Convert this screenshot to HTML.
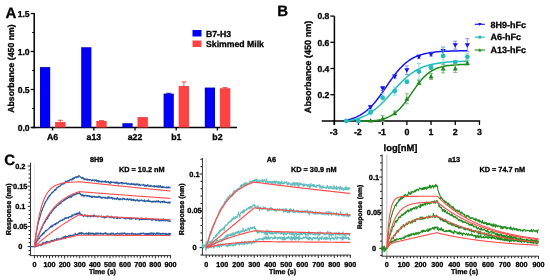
<!DOCTYPE html>
<html><head><meta charset="utf-8"><style>
html,body{margin:0;padding:0;background:#fff;width:550px;height:280px;overflow:hidden}
svg{display:block;will-change:transform}
text{font-family:"Liberation Sans",sans-serif;font-weight:bold;text-rendering:geometricPrecision;stroke:#000;stroke-width:0.3px}
</style></head><body>
<svg width="550" height="280" viewBox="0 0 550 280">
<text x="5.6" y="17.6" font-size="15" text-anchor="start" fill="#000" >A</text>
<line x1="34.20" y1="13.00" x2="34.20" y2="128.25" stroke="#000" stroke-width="1.5" />
<line x1="30.70" y1="127.50" x2="34.20" y2="127.50" stroke="#000" stroke-width="1.3" />
<text x="29.6" y="130.8" font-size="8.6" text-anchor="end" fill="#000" >0.0</text>
<line x1="30.70" y1="89.50" x2="34.20" y2="89.50" stroke="#000" stroke-width="1.3" />
<text x="29.6" y="92.8" font-size="8.6" text-anchor="end" fill="#000" >0.5</text>
<line x1="30.70" y1="51.50" x2="34.20" y2="51.50" stroke="#000" stroke-width="1.3" />
<text x="29.6" y="54.8" font-size="8.6" text-anchor="end" fill="#000" >1.0</text>
<line x1="30.70" y1="13.50" x2="34.20" y2="13.50" stroke="#000" stroke-width="1.3" />
<text x="29.6" y="16.8" font-size="8.6" text-anchor="end" fill="#000" >1.5</text>
<line x1="32.20" y1="108.50" x2="34.20" y2="108.50" stroke="#000" stroke-width="1.0" />
<line x1="32.20" y1="70.50" x2="34.20" y2="70.50" stroke="#000" stroke-width="1.0" />
<line x1="32.20" y1="32.50" x2="34.20" y2="32.50" stroke="#000" stroke-width="1.0" />
<line x1="31.50" y1="127.50" x2="237.00" y2="127.50" stroke="#000" stroke-width="1.5" />
<text x="13.6" y="68.6" font-size="8.7" text-anchor="middle" fill="#000" transform="rotate(-90 13.6 68.6)">Absorbance (450 nm)</text>
<line x1="52.60" y1="127.50" x2="52.60" y2="130.50" stroke="#000" stroke-width="1.3" />
<text x="52.6" y="140.2" font-size="8.7" text-anchor="middle" fill="#000" >A6</text>
<rect x="40.00" y="67.46" width="10.20" height="60.04" fill="#0000F5"/>
<line x1="40.00" y1="67.46" x2="50.20" y2="67.46" stroke="#0000b0" stroke-width="0.8" />
<rect x="55.10" y="122.56" width="10.40" height="4.94" fill="#FF4242"/>
<line x1="55.10" y1="122.56" x2="65.50" y2="122.56" stroke="#e03030" stroke-width="0.8" />
<line x1="60.30" y1="120.28" x2="60.30" y2="122.56" stroke="#e84040" stroke-width="0.9" />
<line x1="57.80" y1="120.28" x2="62.80" y2="120.28" stroke="#e84040" stroke-width="0.9" />
<line x1="93.80" y1="127.50" x2="93.80" y2="130.50" stroke="#000" stroke-width="1.3" />
<text x="93.80000000000001" y="140.2" font-size="8.7" text-anchor="middle" fill="#000" >a13</text>
<rect x="81.20" y="47.70" width="10.20" height="79.80" fill="#0000F5"/>
<line x1="81.20" y1="47.70" x2="91.40" y2="47.70" stroke="#0000b0" stroke-width="0.8" />
<rect x="96.30" y="121.42" width="10.40" height="6.08" fill="#FF4242"/>
<line x1="96.30" y1="121.42" x2="106.70" y2="121.42" stroke="#e03030" stroke-width="0.8" />
<line x1="101.50" y1="120.66" x2="101.50" y2="121.42" stroke="#e84040" stroke-width="0.9" />
<line x1="99.00" y1="120.66" x2="104.00" y2="120.66" stroke="#e84040" stroke-width="0.9" />
<line x1="135.00" y1="127.50" x2="135.00" y2="130.50" stroke="#000" stroke-width="1.3" />
<text x="135.0" y="140.2" font-size="8.7" text-anchor="middle" fill="#000" >a22</text>
<rect x="122.40" y="123.70" width="10.20" height="3.80" fill="#0000F5"/>
<line x1="122.40" y1="123.70" x2="132.60" y2="123.70" stroke="#0000b0" stroke-width="0.8" />
<rect x="137.50" y="117.62" width="10.40" height="9.88" fill="#FF4242"/>
<line x1="137.50" y1="117.62" x2="147.90" y2="117.62" stroke="#e03030" stroke-width="0.8" />
<line x1="176.20" y1="127.50" x2="176.20" y2="130.50" stroke="#000" stroke-width="1.3" />
<text x="176.20000000000002" y="140.2" font-size="8.7" text-anchor="middle" fill="#000" >b1</text>
<rect x="163.60" y="94.06" width="10.20" height="33.44" fill="#0000F5"/>
<line x1="163.60" y1="94.06" x2="173.80" y2="94.06" stroke="#0000b0" stroke-width="0.8" />
<line x1="168.70" y1="93.30" x2="168.70" y2="94.06" stroke="#0000c0" stroke-width="0.9" />
<line x1="166.20" y1="93.30" x2="171.20" y2="93.30" stroke="#0000c0" stroke-width="0.9" />
<rect x="178.70" y="86.46" width="10.40" height="41.04" fill="#FF4242"/>
<line x1="178.70" y1="86.46" x2="189.10" y2="86.46" stroke="#e03030" stroke-width="0.8" />
<line x1="183.90" y1="81.90" x2="183.90" y2="86.46" stroke="#e84040" stroke-width="0.9" />
<line x1="181.40" y1="81.90" x2="186.40" y2="81.90" stroke="#e84040" stroke-width="0.9" />
<line x1="217.40" y1="127.50" x2="217.40" y2="130.50" stroke="#000" stroke-width="1.3" />
<text x="217.4" y="140.2" font-size="8.7" text-anchor="middle" fill="#000" >b2</text>
<rect x="204.80" y="87.98" width="10.20" height="39.52" fill="#0000F5"/>
<line x1="204.80" y1="87.98" x2="215.00" y2="87.98" stroke="#0000b0" stroke-width="0.8" />
<rect x="219.90" y="88.74" width="10.40" height="38.76" fill="#FF4242"/>
<line x1="219.90" y1="88.74" x2="230.30" y2="88.74" stroke="#e03030" stroke-width="0.8" />
<line x1="225.10" y1="87.60" x2="225.10" y2="88.74" stroke="#e84040" stroke-width="0.9" />
<line x1="222.60" y1="87.60" x2="227.60" y2="87.60" stroke="#e84040" stroke-width="0.9" />
<rect x="192.50" y="30.00" width="9.00" height="6.50" fill="#0000F5"/>
<rect x="192.50" y="40.50" width="9.00" height="6.50" fill="#FF4242"/>
<text x="206" y="36.6" font-size="8.7" text-anchor="start" fill="#000" >B7-H3</text>
<text x="206" y="47.1" font-size="8.7" text-anchor="start" fill="#000" >Skimmed Milk</text>
<text x="277.2" y="15.6" font-size="15" text-anchor="start" fill="#000" >B</text>
<line x1="334.40" y1="16.20" x2="334.40" y2="124.90" stroke="#000" stroke-width="1.5" />
<line x1="330.40" y1="94.70" x2="334.40" y2="94.70" stroke="#000" stroke-width="1.3" />
<text x="329.4" y="97.9" font-size="8.6" text-anchor="end" fill="#000" >0.2</text>
<line x1="330.40" y1="68.50" x2="334.40" y2="68.50" stroke="#000" stroke-width="1.3" />
<text x="329.4" y="71.7" font-size="8.6" text-anchor="end" fill="#000" >0.4</text>
<line x1="330.40" y1="42.30" x2="334.40" y2="42.30" stroke="#000" stroke-width="1.3" />
<text x="329.4" y="45.500000000000014" font-size="8.6" text-anchor="end" fill="#000" >0.6</text>
<line x1="330.40" y1="16.10" x2="334.40" y2="16.10" stroke="#000" stroke-width="1.3" />
<text x="329.4" y="19.299999999999994" font-size="8.6" text-anchor="end" fill="#000" >0.8</text>
<line x1="321.70" y1="120.90" x2="480.20" y2="120.90" stroke="#000" stroke-width="1.5" />
<line x1="334.25" y1="120.90" x2="334.25" y2="124.90" stroke="#000" stroke-width="1.3" />
<text x="333.65" y="134.9" font-size="8.8" text-anchor="middle" fill="#000" >-3</text>
<line x1="358.45" y1="120.90" x2="358.45" y2="124.90" stroke="#000" stroke-width="1.3" />
<text x="357.85" y="134.9" font-size="8.8" text-anchor="middle" fill="#000" >-2</text>
<line x1="382.65" y1="120.90" x2="382.65" y2="124.90" stroke="#000" stroke-width="1.3" />
<text x="382.05" y="134.9" font-size="8.8" text-anchor="middle" fill="#000" >-1</text>
<line x1="406.85" y1="120.90" x2="406.85" y2="124.90" stroke="#000" stroke-width="1.3" />
<text x="406.85" y="134.9" font-size="8.8" text-anchor="middle" fill="#000" >0</text>
<line x1="431.05" y1="120.90" x2="431.05" y2="124.90" stroke="#000" stroke-width="1.3" />
<text x="431.05" y="134.9" font-size="8.8" text-anchor="middle" fill="#000" >1</text>
<line x1="455.25" y1="120.90" x2="455.25" y2="124.90" stroke="#000" stroke-width="1.3" />
<text x="455.25" y="134.9" font-size="8.8" text-anchor="middle" fill="#000" >2</text>
<line x1="479.45" y1="120.90" x2="479.45" y2="124.90" stroke="#000" stroke-width="1.3" />
<text x="479.45000000000005" y="134.9" font-size="8.8" text-anchor="middle" fill="#000" >3</text>
<text x="311.3" y="66.9" font-size="9.1" text-anchor="middle" fill="#000" transform="rotate(-90 311.3 66.9)">Absorbance (450 nm)</text>
<text x="400.5" y="150.6" font-size="9.4" text-anchor="middle" fill="#000" >log[nM]</text>
<polyline points="346.35,120.11 347.88,119.77 349.41,119.39 350.94,118.96 352.48,118.48 354.01,117.94 355.54,117.34 357.07,116.68 358.60,115.94 360.13,115.13 361.67,114.23 363.20,113.24 364.73,112.16 366.26,110.98 367.79,109.70 369.32,108.31 370.86,106.81 372.39,105.20 373.92,103.49 375.45,101.68 376.98,99.77 378.51,97.78 380.05,95.70 381.58,93.56 383.11,91.37 384.64,89.15 386.17,86.91 387.70,84.66 389.24,82.43 390.77,80.24 392.30,78.09 393.83,76.01 395.36,74.00 396.89,72.08 398.43,70.26 399.96,68.53 401.49,66.91 403.02,65.40 404.55,63.99 406.08,62.69 407.62,61.50 409.15,60.40 410.68,59.40 412.21,58.49 413.74,57.67 415.27,56.92 416.81,56.25 418.34,55.64 419.87,55.10 421.40,54.61 422.93,54.17 424.46,53.78 426.00,53.43 427.53,53.12 429.06,52.85 430.59,52.60 432.12,52.38 433.65,52.19 435.19,52.01 436.72,51.86 438.25,51.73 439.78,51.61 441.31,51.50 442.84,51.41 444.38,51.32 445.91,51.25 447.44,51.18 448.97,51.13 450.50,51.08 452.03,51.03 453.57,50.99 455.10,50.96 456.63,50.93 458.16,50.90 459.69,50.87 461.22,50.85 462.76,50.83 464.29,50.82 465.82,50.80 467.35,50.79" fill="none" stroke="#1515F0" stroke-width="1.5" stroke-linejoin="round" stroke-opacity="1"/>
<polyline points="346.35,120.90 347.88,120.90 349.41,120.68 350.94,120.38 352.48,120.04 354.01,119.67 355.54,119.27 357.07,118.82 358.60,118.33 360.13,117.79 361.67,117.20 363.20,116.55 364.73,115.85 366.26,115.08 367.79,114.25 369.32,113.35 370.86,112.39 372.39,111.35 373.92,110.23 375.45,109.05 376.98,107.79 378.51,106.46 380.05,105.06 381.58,103.59 383.11,102.07 384.64,100.49 386.17,98.86 387.70,97.20 389.24,95.51 390.77,93.79 392.30,92.07 393.83,90.34 395.36,88.63 396.89,86.94 398.43,85.28 399.96,83.66 401.49,82.09 403.02,80.57 404.55,79.12 406.08,77.73 407.62,76.41 409.15,75.16 410.68,73.99 412.21,72.88 413.74,71.86 415.27,70.90 416.81,70.01 418.34,69.19 419.87,68.43 421.40,67.74 422.93,67.10 424.46,66.52 426.00,65.99 427.53,65.50 429.06,65.06 430.59,64.66 432.12,64.29 433.65,63.96 435.19,63.67 436.72,63.40 438.25,63.15 439.78,62.93 441.31,62.74 442.84,62.56 444.38,62.40 445.91,62.25 447.44,62.12 448.97,62.01 450.50,61.90 452.03,61.81 453.57,61.72 455.10,61.65 456.63,61.58 458.16,61.52 459.69,61.46 461.22,61.41 462.76,61.37 464.29,61.33 465.82,61.29 467.35,61.26" fill="none" stroke="#22BDBD" stroke-width="1.5" stroke-linejoin="round" stroke-opacity="1"/>
<polyline points="358.45,120.90 359.83,120.90 361.21,120.90 362.59,120.90 363.96,120.90 365.34,120.90 366.72,120.90 368.10,120.90 369.48,120.90 370.86,120.90 372.23,120.90 373.61,120.76 374.99,120.59 376.37,120.39 377.75,120.16 379.13,119.90 380.51,119.61 381.88,119.28 383.26,118.90 384.64,118.47 386.02,117.98 387.40,117.43 388.78,116.81 390.16,116.12 391.53,115.35 392.91,114.48 394.29,113.52 395.67,112.47 397.05,111.30 398.43,110.03 399.80,108.66 401.18,107.17 402.56,105.58 403.94,103.89 405.32,102.11 406.70,100.24 408.08,98.32 409.45,96.34 410.83,94.33 412.21,92.31 413.59,90.30 414.97,88.31 416.35,86.37 417.72,84.49 419.10,82.69 420.48,80.98 421.86,79.36 423.24,77.85 424.62,76.44 426.00,75.15 427.37,73.96 428.75,72.87 430.13,71.89 431.51,71.01 432.89,70.21 434.27,69.50 435.64,68.86 437.02,68.30 438.40,67.80 439.78,67.35 441.16,66.96 442.54,66.62 443.92,66.31 445.29,66.05 446.67,65.81 448.05,65.61 449.43,65.43 450.81,65.27 452.19,65.14 453.57,65.02 454.94,64.91 456.32,64.82 457.70,64.74 459.08,64.67 460.46,64.61 461.84,64.56 463.21,64.52 464.59,64.48 465.97,64.44 467.35,64.41" fill="none" stroke="#1C8A1C" stroke-width="1.5" stroke-linejoin="round" stroke-opacity="1"/>
<line x1="370.55" y1="105.30" x2="370.55" y2="109.30" stroke="#8080ff" stroke-width="0.9" />
<line x1="368.55" y1="105.30" x2="372.55" y2="105.30" stroke="#8080ff" stroke-width="0.9" />
<line x1="368.55" y1="109.30" x2="372.55" y2="109.30" stroke="#8080ff" stroke-width="0.9" />
<polygon points="367.95,105.30 373.15,105.30 370.55,109.90" fill="#1515F0"/>
<line x1="382.65" y1="86.50" x2="382.65" y2="90.50" stroke="#8080ff" stroke-width="0.9" />
<line x1="380.65" y1="86.50" x2="384.65" y2="86.50" stroke="#8080ff" stroke-width="0.9" />
<line x1="380.65" y1="90.50" x2="384.65" y2="90.50" stroke="#8080ff" stroke-width="0.9" />
<polygon points="380.05,86.50 385.25,86.50 382.65,91.10" fill="#1515F0"/>
<line x1="394.75" y1="75.10" x2="394.75" y2="78.10" stroke="#8080ff" stroke-width="0.9" />
<line x1="392.75" y1="75.10" x2="396.75" y2="75.10" stroke="#8080ff" stroke-width="0.9" />
<line x1="392.75" y1="78.10" x2="396.75" y2="78.10" stroke="#8080ff" stroke-width="0.9" />
<polygon points="392.15,74.60 397.35,74.60 394.75,79.20" fill="#1515F0"/>
<line x1="406.85" y1="65.90" x2="406.85" y2="74.50" stroke="#8080ff" stroke-width="0.9" />
<line x1="404.85" y1="65.90" x2="408.85" y2="65.90" stroke="#8080ff" stroke-width="0.9" />
<line x1="404.85" y1="74.50" x2="408.85" y2="74.50" stroke="#8080ff" stroke-width="0.9" />
<polygon points="404.25,68.20 409.45,68.20 406.85,72.80" fill="#1515F0"/>
<line x1="418.95" y1="55.30" x2="418.95" y2="58.30" stroke="#8080ff" stroke-width="0.9" />
<line x1="416.95" y1="55.30" x2="420.95" y2="55.30" stroke="#8080ff" stroke-width="0.9" />
<line x1="416.95" y1="58.30" x2="420.95" y2="58.30" stroke="#8080ff" stroke-width="0.9" />
<polygon points="416.35,54.80 421.55,54.80 418.95,59.40" fill="#1515F0"/>
<line x1="431.05" y1="53.00" x2="431.05" y2="56.00" stroke="#8080ff" stroke-width="0.9" />
<line x1="429.05" y1="53.00" x2="433.05" y2="53.00" stroke="#8080ff" stroke-width="0.9" />
<line x1="429.05" y1="56.00" x2="433.05" y2="56.00" stroke="#8080ff" stroke-width="0.9" />
<polygon points="428.45,52.50 433.65,52.50 431.05,57.10" fill="#1515F0"/>
<line x1="443.15" y1="47.00" x2="443.15" y2="55.00" stroke="#8080ff" stroke-width="0.9" />
<line x1="441.15" y1="47.00" x2="445.15" y2="47.00" stroke="#8080ff" stroke-width="0.9" />
<line x1="441.15" y1="55.00" x2="445.15" y2="55.00" stroke="#8080ff" stroke-width="0.9" />
<polygon points="440.55,49.00 445.75,49.00 443.15,53.60" fill="#1515F0"/>
<line x1="455.25" y1="41.20" x2="455.25" y2="49.20" stroke="#8080ff" stroke-width="0.9" />
<line x1="453.25" y1="41.20" x2="457.25" y2="41.20" stroke="#8080ff" stroke-width="0.9" />
<line x1="453.25" y1="49.20" x2="457.25" y2="49.20" stroke="#8080ff" stroke-width="0.9" />
<polygon points="452.65,43.20 457.85,43.20 455.25,47.80" fill="#1515F0"/>
<line x1="467.35" y1="38.70" x2="467.35" y2="51.70" stroke="#8080ff" stroke-width="0.9" />
<line x1="465.35" y1="38.70" x2="469.35" y2="38.70" stroke="#8080ff" stroke-width="0.9" />
<line x1="465.35" y1="51.70" x2="469.35" y2="51.70" stroke="#8080ff" stroke-width="0.9" />
<polygon points="464.75,43.20 469.95,43.20 467.35,47.80" fill="#1515F0"/>
<circle cx="346.35" cy="121.00" r="2.4" fill="#22BDBD"/>
<circle cx="358.45" cy="121.00" r="2.4" fill="#22BDBD"/>
<line x1="370.55" y1="109.70" x2="370.55" y2="114.70" stroke="#7fd6d6" stroke-width="0.9" />
<line x1="368.55" y1="109.70" x2="372.55" y2="109.70" stroke="#7fd6d6" stroke-width="0.9" />
<line x1="368.55" y1="114.70" x2="372.55" y2="114.70" stroke="#7fd6d6" stroke-width="0.9" />
<circle cx="370.55" cy="112.20" r="2.4" fill="#22BDBD"/>
<line x1="382.65" y1="93.30" x2="382.65" y2="102.10" stroke="#7fd6d6" stroke-width="0.9" />
<line x1="380.65" y1="93.30" x2="384.65" y2="93.30" stroke="#7fd6d6" stroke-width="0.9" />
<line x1="380.65" y1="102.10" x2="384.65" y2="102.10" stroke="#7fd6d6" stroke-width="0.9" />
<circle cx="382.65" cy="97.70" r="2.4" fill="#22BDBD"/>
<line x1="394.75" y1="87.00" x2="394.75" y2="95.00" stroke="#7fd6d6" stroke-width="0.9" />
<line x1="392.75" y1="87.00" x2="396.75" y2="87.00" stroke="#7fd6d6" stroke-width="0.9" />
<line x1="392.75" y1="95.00" x2="396.75" y2="95.00" stroke="#7fd6d6" stroke-width="0.9" />
<circle cx="394.75" cy="91.00" r="2.4" fill="#22BDBD"/>
<line x1="406.85" y1="79.80" x2="406.85" y2="83.80" stroke="#7fd6d6" stroke-width="0.9" />
<line x1="404.85" y1="79.80" x2="408.85" y2="79.80" stroke="#7fd6d6" stroke-width="0.9" />
<line x1="404.85" y1="83.80" x2="408.85" y2="83.80" stroke="#7fd6d6" stroke-width="0.9" />
<circle cx="406.85" cy="81.80" r="2.4" fill="#22BDBD"/>
<line x1="418.95" y1="63.40" x2="418.95" y2="79.40" stroke="#7fd6d6" stroke-width="0.9" />
<line x1="416.95" y1="63.40" x2="420.95" y2="63.40" stroke="#7fd6d6" stroke-width="0.9" />
<line x1="416.95" y1="79.40" x2="420.95" y2="79.40" stroke="#7fd6d6" stroke-width="0.9" />
<circle cx="418.95" cy="71.40" r="2.4" fill="#22BDBD"/>
<line x1="431.05" y1="65.50" x2="431.05" y2="69.50" stroke="#7fd6d6" stroke-width="0.9" />
<line x1="429.05" y1="65.50" x2="433.05" y2="65.50" stroke="#7fd6d6" stroke-width="0.9" />
<line x1="429.05" y1="69.50" x2="433.05" y2="69.50" stroke="#7fd6d6" stroke-width="0.9" />
<circle cx="431.05" cy="67.50" r="2.4" fill="#22BDBD"/>
<line x1="443.15" y1="47.40" x2="443.15" y2="64.40" stroke="#7fd6d6" stroke-width="0.9" />
<line x1="441.15" y1="47.40" x2="445.15" y2="47.40" stroke="#7fd6d6" stroke-width="0.9" />
<line x1="441.15" y1="64.40" x2="445.15" y2="64.40" stroke="#7fd6d6" stroke-width="0.9" />
<circle cx="443.15" cy="55.90" r="2.4" fill="#22BDBD"/>
<line x1="455.25" y1="60.60" x2="455.25" y2="63.60" stroke="#7fd6d6" stroke-width="0.9" />
<line x1="453.25" y1="60.60" x2="457.25" y2="60.60" stroke="#7fd6d6" stroke-width="0.9" />
<line x1="453.25" y1="63.60" x2="457.25" y2="63.60" stroke="#7fd6d6" stroke-width="0.9" />
<circle cx="455.25" cy="62.10" r="2.4" fill="#22BDBD"/>
<line x1="467.35" y1="53.80" x2="467.35" y2="59.80" stroke="#7fd6d6" stroke-width="0.9" />
<line x1="465.35" y1="53.80" x2="469.35" y2="53.80" stroke="#7fd6d6" stroke-width="0.9" />
<line x1="465.35" y1="59.80" x2="469.35" y2="59.80" stroke="#7fd6d6" stroke-width="0.9" />
<circle cx="467.35" cy="56.80" r="2.4" fill="#22BDBD"/>
<polygon points="368.15,122.50 372.95,122.50 370.55,117.90" fill="#1C8A1C"/>
<line x1="382.65" y1="115.60" x2="382.65" y2="121.60" stroke="#70b070" stroke-width="0.9" />
<line x1="380.65" y1="115.60" x2="384.65" y2="115.60" stroke="#70b070" stroke-width="0.9" />
<line x1="380.65" y1="121.60" x2="384.65" y2="121.60" stroke="#70b070" stroke-width="0.9" />
<polygon points="380.25,120.60 385.05,120.60 382.65,116.00" fill="#1C8A1C"/>
<line x1="394.75" y1="111.00" x2="394.75" y2="115.00" stroke="#70b070" stroke-width="0.9" />
<line x1="392.75" y1="111.00" x2="396.75" y2="111.00" stroke="#70b070" stroke-width="0.9" />
<line x1="392.75" y1="115.00" x2="396.75" y2="115.00" stroke="#70b070" stroke-width="0.9" />
<polygon points="392.35,115.00 397.15,115.00 394.75,110.40" fill="#1C8A1C"/>
<line x1="406.85" y1="93.75" x2="406.85" y2="103.75" stroke="#70b070" stroke-width="0.9" />
<line x1="404.85" y1="93.75" x2="408.85" y2="93.75" stroke="#70b070" stroke-width="0.9" />
<line x1="404.85" y1="103.75" x2="408.85" y2="103.75" stroke="#70b070" stroke-width="0.9" />
<polygon points="404.45,100.75 409.25,100.75 406.85,96.15" fill="#1C8A1C"/>
<line x1="418.95" y1="80.70" x2="418.95" y2="84.70" stroke="#70b070" stroke-width="0.9" />
<line x1="416.95" y1="80.70" x2="420.95" y2="80.70" stroke="#70b070" stroke-width="0.9" />
<line x1="416.95" y1="84.70" x2="420.95" y2="84.70" stroke="#70b070" stroke-width="0.9" />
<polygon points="416.55,84.70 421.35,84.70 418.95,80.10" fill="#1C8A1C"/>
<line x1="431.05" y1="73.40" x2="431.05" y2="79.40" stroke="#70b070" stroke-width="0.9" />
<line x1="429.05" y1="73.40" x2="433.05" y2="73.40" stroke="#70b070" stroke-width="0.9" />
<line x1="429.05" y1="79.40" x2="433.05" y2="79.40" stroke="#70b070" stroke-width="0.9" />
<polygon points="428.65,78.40 433.45,78.40 431.05,73.80" fill="#1C8A1C"/>
<line x1="443.15" y1="63.90" x2="443.15" y2="72.90" stroke="#70b070" stroke-width="0.9" />
<line x1="441.15" y1="63.90" x2="445.15" y2="63.90" stroke="#70b070" stroke-width="0.9" />
<line x1="441.15" y1="72.90" x2="445.15" y2="72.90" stroke="#70b070" stroke-width="0.9" />
<polygon points="440.75,70.40 445.55,70.40 443.15,65.80" fill="#1C8A1C"/>
<line x1="455.25" y1="64.40" x2="455.25" y2="72.40" stroke="#70b070" stroke-width="0.9" />
<line x1="453.25" y1="64.40" x2="457.25" y2="64.40" stroke="#70b070" stroke-width="0.9" />
<line x1="453.25" y1="72.40" x2="457.25" y2="72.40" stroke="#70b070" stroke-width="0.9" />
<polygon points="452.85,70.40 457.65,70.40 455.25,65.80" fill="#1C8A1C"/>
<line x1="467.35" y1="61.00" x2="467.35" y2="65.00" stroke="#70b070" stroke-width="0.9" />
<line x1="465.35" y1="61.00" x2="469.35" y2="61.00" stroke="#70b070" stroke-width="0.9" />
<line x1="465.35" y1="65.00" x2="469.35" y2="65.00" stroke="#70b070" stroke-width="0.9" />
<polygon points="464.95,65.00 469.75,65.00 467.35,60.40" fill="#1C8A1C"/>
<line x1="474.70" y1="24.30" x2="484.90" y2="24.30" stroke="#1515F0" stroke-width="1.1" />
<polygon points="478.00,22.90 481.60,22.90 479.80,26.10" fill="#1515F0"/>
<text x="490.6" y="27.6" font-size="9.0" text-anchor="start" fill="#000" >8H9-hFc</text>
<line x1="474.70" y1="37.15" x2="484.90" y2="37.15" stroke="#22BDBD" stroke-width="1.1" />
<circle cx="479.8" cy="37.15" r="1.7" fill="#22BDBD"/>
<text x="490.6" y="40.3" font-size="9.0" text-anchor="start" fill="#000" >A6-hFc</text>
<line x1="474.70" y1="50.00" x2="484.90" y2="50.00" stroke="#1C8A1C" stroke-width="1.1" />
<polygon points="478.10,51.40 481.50,51.40 479.80,48.20" fill="#1C8A1C"/>
<text x="490.6" y="52.9" font-size="9.0" text-anchor="start" fill="#000" >A13-hFc</text>
<text x="4.2" y="164.6" font-size="15" text-anchor="start" fill="#000" >C</text>
<line x1="34.40" y1="162.60" x2="34.40" y2="255.60" stroke="#eaeaea" stroke-width="1.3" />
<line x1="30.50" y1="162.60" x2="30.50" y2="256.10" stroke="#333" stroke-width="1.0" />
<line x1="28.50" y1="254.66" x2="30.50" y2="254.66" stroke="#222" stroke-width="1.0" />
<line x1="28.50" y1="250.63" x2="30.50" y2="250.63" stroke="#222" stroke-width="1.0" />
<line x1="27.70" y1="246.60" x2="30.50" y2="246.60" stroke="#222" stroke-width="1.0" />
<text x="20.3" y="249.2" font-size="7.4" text-anchor="middle" fill="#000" >0</text>
<line x1="28.50" y1="242.57" x2="30.50" y2="242.57" stroke="#222" stroke-width="1.0" />
<line x1="28.50" y1="238.54" x2="30.50" y2="238.54" stroke="#222" stroke-width="1.0" />
<line x1="28.50" y1="234.51" x2="30.50" y2="234.51" stroke="#222" stroke-width="1.0" />
<line x1="28.50" y1="230.48" x2="30.50" y2="230.48" stroke="#222" stroke-width="1.0" />
<line x1="27.70" y1="226.45" x2="30.50" y2="226.45" stroke="#222" stroke-width="1.0" />
<text x="20.3" y="229.04999999999998" font-size="7.4" text-anchor="middle" fill="#000" >0.05</text>
<line x1="28.50" y1="222.42" x2="30.50" y2="222.42" stroke="#222" stroke-width="1.0" />
<line x1="28.50" y1="218.39" x2="30.50" y2="218.39" stroke="#222" stroke-width="1.0" />
<line x1="28.50" y1="214.36" x2="30.50" y2="214.36" stroke="#222" stroke-width="1.0" />
<line x1="28.50" y1="210.33" x2="30.50" y2="210.33" stroke="#222" stroke-width="1.0" />
<line x1="27.70" y1="206.30" x2="30.50" y2="206.30" stroke="#222" stroke-width="1.0" />
<text x="20.3" y="208.89999999999998" font-size="7.4" text-anchor="middle" fill="#000" >0.1</text>
<line x1="28.50" y1="202.27" x2="30.50" y2="202.27" stroke="#222" stroke-width="1.0" />
<line x1="28.50" y1="198.24" x2="30.50" y2="198.24" stroke="#222" stroke-width="1.0" />
<line x1="28.50" y1="194.21" x2="30.50" y2="194.21" stroke="#222" stroke-width="1.0" />
<line x1="28.50" y1="190.18" x2="30.50" y2="190.18" stroke="#222" stroke-width="1.0" />
<line x1="27.70" y1="186.15" x2="30.50" y2="186.15" stroke="#222" stroke-width="1.0" />
<text x="20.3" y="188.75" font-size="7.4" text-anchor="middle" fill="#000" >0.15</text>
<line x1="28.50" y1="182.12" x2="30.50" y2="182.12" stroke="#222" stroke-width="1.0" />
<line x1="28.50" y1="178.09" x2="30.50" y2="178.09" stroke="#222" stroke-width="1.0" />
<line x1="28.50" y1="174.06" x2="30.50" y2="174.06" stroke="#222" stroke-width="1.0" />
<line x1="28.50" y1="170.03" x2="30.50" y2="170.03" stroke="#222" stroke-width="1.0" />
<line x1="27.70" y1="166.00" x2="30.50" y2="166.00" stroke="#222" stroke-width="1.0" />
<text x="20.3" y="168.6" font-size="7.4" text-anchor="middle" fill="#000" >0.2</text>
<line x1="30.50" y1="255.60" x2="170.98" y2="255.60" stroke="#333" stroke-width="1.0" />
<line x1="34.40" y1="255.60" x2="34.40" y2="258.40" stroke="#222" stroke-width="1.0" />
<text x="34.4" y="266.9" font-size="7.2" text-anchor="middle" fill="#000" >0</text>
<line x1="37.42" y1="255.60" x2="37.42" y2="257.60" stroke="#222" stroke-width="1.0" />
<line x1="40.45" y1="255.60" x2="40.45" y2="257.60" stroke="#222" stroke-width="1.0" />
<line x1="43.47" y1="255.60" x2="43.47" y2="257.60" stroke="#222" stroke-width="1.0" />
<line x1="46.50" y1="255.60" x2="46.50" y2="257.60" stroke="#222" stroke-width="1.0" />
<line x1="49.52" y1="255.60" x2="49.52" y2="258.40" stroke="#222" stroke-width="1.0" />
<text x="49.519999999999996" y="266.9" font-size="7.2" text-anchor="middle" fill="#000" >100</text>
<line x1="52.54" y1="255.60" x2="52.54" y2="257.60" stroke="#222" stroke-width="1.0" />
<line x1="55.57" y1="255.60" x2="55.57" y2="257.60" stroke="#222" stroke-width="1.0" />
<line x1="58.59" y1="255.60" x2="58.59" y2="257.60" stroke="#222" stroke-width="1.0" />
<line x1="61.62" y1="255.60" x2="61.62" y2="257.60" stroke="#222" stroke-width="1.0" />
<line x1="64.64" y1="255.60" x2="64.64" y2="258.40" stroke="#222" stroke-width="1.0" />
<text x="64.64" y="266.9" font-size="7.2" text-anchor="middle" fill="#000" >200</text>
<line x1="67.66" y1="255.60" x2="67.66" y2="257.60" stroke="#222" stroke-width="1.0" />
<line x1="70.69" y1="255.60" x2="70.69" y2="257.60" stroke="#222" stroke-width="1.0" />
<line x1="73.71" y1="255.60" x2="73.71" y2="257.60" stroke="#222" stroke-width="1.0" />
<line x1="76.74" y1="255.60" x2="76.74" y2="257.60" stroke="#222" stroke-width="1.0" />
<line x1="79.76" y1="255.60" x2="79.76" y2="258.40" stroke="#222" stroke-width="1.0" />
<text x="79.75999999999999" y="266.9" font-size="7.2" text-anchor="middle" fill="#000" >300</text>
<line x1="82.78" y1="255.60" x2="82.78" y2="257.60" stroke="#222" stroke-width="1.0" />
<line x1="85.81" y1="255.60" x2="85.81" y2="257.60" stroke="#222" stroke-width="1.0" />
<line x1="88.83" y1="255.60" x2="88.83" y2="257.60" stroke="#222" stroke-width="1.0" />
<line x1="91.86" y1="255.60" x2="91.86" y2="257.60" stroke="#222" stroke-width="1.0" />
<line x1="94.88" y1="255.60" x2="94.88" y2="258.40" stroke="#222" stroke-width="1.0" />
<text x="94.88" y="266.9" font-size="7.2" text-anchor="middle" fill="#000" >400</text>
<line x1="97.90" y1="255.60" x2="97.90" y2="257.60" stroke="#222" stroke-width="1.0" />
<line x1="100.93" y1="255.60" x2="100.93" y2="257.60" stroke="#222" stroke-width="1.0" />
<line x1="103.95" y1="255.60" x2="103.95" y2="257.60" stroke="#222" stroke-width="1.0" />
<line x1="106.98" y1="255.60" x2="106.98" y2="257.60" stroke="#222" stroke-width="1.0" />
<line x1="110.00" y1="255.60" x2="110.00" y2="258.40" stroke="#222" stroke-width="1.0" />
<text x="110.0" y="266.9" font-size="7.2" text-anchor="middle" fill="#000" >500</text>
<line x1="113.02" y1="255.60" x2="113.02" y2="257.60" stroke="#222" stroke-width="1.0" />
<line x1="116.05" y1="255.60" x2="116.05" y2="257.60" stroke="#222" stroke-width="1.0" />
<line x1="119.07" y1="255.60" x2="119.07" y2="257.60" stroke="#222" stroke-width="1.0" />
<line x1="122.10" y1="255.60" x2="122.10" y2="257.60" stroke="#222" stroke-width="1.0" />
<line x1="125.12" y1="255.60" x2="125.12" y2="258.40" stroke="#222" stroke-width="1.0" />
<text x="125.12" y="266.9" font-size="7.2" text-anchor="middle" fill="#000" >600</text>
<line x1="128.14" y1="255.60" x2="128.14" y2="257.60" stroke="#222" stroke-width="1.0" />
<line x1="131.17" y1="255.60" x2="131.17" y2="257.60" stroke="#222" stroke-width="1.0" />
<line x1="134.19" y1="255.60" x2="134.19" y2="257.60" stroke="#222" stroke-width="1.0" />
<line x1="137.22" y1="255.60" x2="137.22" y2="257.60" stroke="#222" stroke-width="1.0" />
<line x1="140.24" y1="255.60" x2="140.24" y2="258.40" stroke="#222" stroke-width="1.0" />
<text x="140.24" y="266.9" font-size="7.2" text-anchor="middle" fill="#000" >700</text>
<line x1="143.26" y1="255.60" x2="143.26" y2="257.60" stroke="#222" stroke-width="1.0" />
<line x1="146.29" y1="255.60" x2="146.29" y2="257.60" stroke="#222" stroke-width="1.0" />
<line x1="149.31" y1="255.60" x2="149.31" y2="257.60" stroke="#222" stroke-width="1.0" />
<line x1="152.34" y1="255.60" x2="152.34" y2="257.60" stroke="#222" stroke-width="1.0" />
<line x1="155.36" y1="255.60" x2="155.36" y2="258.40" stroke="#222" stroke-width="1.0" />
<text x="155.36" y="266.9" font-size="7.2" text-anchor="middle" fill="#000" >800</text>
<line x1="158.38" y1="255.60" x2="158.38" y2="257.60" stroke="#222" stroke-width="1.0" />
<line x1="161.41" y1="255.60" x2="161.41" y2="257.60" stroke="#222" stroke-width="1.0" />
<line x1="164.43" y1="255.60" x2="164.43" y2="257.60" stroke="#222" stroke-width="1.0" />
<line x1="167.46" y1="255.60" x2="167.46" y2="257.60" stroke="#222" stroke-width="1.0" />
<line x1="170.48" y1="255.60" x2="170.48" y2="258.40" stroke="#222" stroke-width="1.0" />
<text x="170.48000000000002" y="266.9" font-size="7.2" text-anchor="middle" fill="#000" >900</text>
<text x="102.44000000000001" y="273.9" font-size="7.1" text-anchor="middle" fill="#000" >Time (s)</text>
<text x="96.6" y="161.6" font-size="7.3" text-anchor="middle" fill="#000" >8H9</text>
<text x="119.0" y="172.3" font-size="7.3" text-anchor="start" fill="#000" >KD = 10.2 nM</text>
<text x="11.0" y="209.2" font-size="7.2" text-anchor="middle" fill="#000" transform="rotate(-90 11.0 209.2)">Response (nm)</text>
<text x="183.6" y="209.2" font-size="7.2" text-anchor="middle" fill="#000" transform="rotate(-90 183.6 209.2)">Response (nm)</text>
<polyline points="34.40,246.60 34.70,244.06 35.00,242.05 35.31,240.18 35.61,237.89 35.91,236.18 36.21,233.79 36.52,231.37 36.82,230.54 37.12,228.97 37.42,226.86 37.73,225.43 38.03,224.12 38.33,223.25 38.63,221.51 38.94,219.90 39.24,219.68 39.54,218.10 39.84,217.69 40.15,216.33 40.45,215.57 40.75,213.81 41.05,213.36 41.36,211.71 41.66,210.89 41.96,210.21 42.26,210.52 42.56,208.78 42.87,207.79 43.17,206.98 43.47,207.06 43.77,205.87 44.08,205.45 44.38,204.73 44.68,203.20 44.98,203.50 45.29,202.54 45.59,201.53 45.89,201.69 46.19,200.93 46.50,200.30 46.80,199.82 47.10,199.95 47.40,198.84 47.71,197.76 48.01,198.71 48.31,197.10 48.61,197.03 48.92,196.97 49.22,195.28 49.52,195.48 49.82,196.03 50.12,195.03 50.43,194.41 50.73,194.42 51.03,193.63 51.33,193.64 51.64,192.94 51.94,192.23 52.24,192.92 52.54,192.17 52.85,192.17 53.15,191.57 53.45,191.90 53.75,191.30 54.06,190.82 54.36,189.99 54.66,189.59 54.96,190.50 55.27,189.97 55.57,188.99 55.87,190.00 56.17,189.00 56.48,188.56 56.78,187.65 57.08,187.67 57.38,187.91 57.68,187.69 57.99,187.39 58.29,186.29 58.59,187.00 58.89,186.71 59.20,186.17 59.50,186.17 59.80,185.99 60.10,186.21 60.41,185.46 60.71,185.46 61.01,184.47 61.31,184.51 61.62,184.63 61.92,184.10 62.22,184.38 62.52,183.52 62.83,183.83 63.13,183.36 63.43,184.07 63.73,183.09 64.04,183.89 64.34,183.88 64.64,182.86 64.94,182.97 65.24,182.28 65.55,181.10 65.85,182.42 66.15,182.15 66.45,181.58 66.76,181.28 67.06,181.44 67.36,181.29 67.66,180.69 67.97,180.62 68.27,181.22 68.57,180.60 68.87,180.39 69.18,180.77 69.48,179.99 69.78,180.38 70.08,179.35 70.39,179.58 70.69,179.49 70.99,179.68 71.29,179.31 71.60,180.08 71.90,179.53 72.20,178.67 72.50,179.74 72.80,178.17 73.11,179.30 73.41,177.96 73.71,178.61 74.01,177.70 74.32,177.89 74.62,178.57 74.92,177.10 75.22,176.89 75.53,177.50 75.83,177.48 76.13,177.31 76.43,177.59 76.74,176.48 77.04,177.16 77.34,176.81 77.64,177.06 77.95,176.87 78.25,177.08 78.55,175.75 78.85,176.32 79.16,175.68 79.46,176.04 79.76,176.28 80.06,176.72 80.36,177.07 80.67,177.01 80.97,177.39 81.27,177.54 81.57,178.24 81.88,178.13 82.18,177.09 82.48,178.36 82.78,178.68 83.09,178.14 83.39,177.74 83.69,179.24 83.99,178.74 84.30,179.05 84.60,179.69 84.90,178.57 85.20,179.02 85.51,179.06 85.81,179.53 86.11,179.02 86.41,179.57 86.72,179.45 87.02,179.98 87.32,180.10 87.62,178.92 87.92,179.87 88.23,179.54 88.53,179.75 88.83,180.00 89.13,180.08 89.44,179.58 89.74,180.07 90.04,180.05 90.34,180.01 90.65,179.49 90.95,179.77 91.25,179.96 91.55,180.45 91.86,180.89 92.16,179.80 92.46,179.83 92.76,180.40 93.07,180.11 93.37,180.03 93.67,180.04 93.97,180.03 94.28,180.73 94.58,179.81 94.88,181.18 95.18,180.20 95.48,180.41 95.79,180.26 96.09,179.80 96.39,180.03 96.69,181.33 97.00,181.63 97.30,180.45 97.60,181.36 97.90,180.91 98.21,180.53 98.51,181.76 98.81,182.02 99.11,180.90 99.42,181.04 99.72,181.21 100.02,181.10 100.32,181.57 100.63,181.91 100.93,181.29 101.23,181.71 101.53,182.07 101.84,181.06 102.14,181.36 102.44,181.16 102.74,181.87 103.04,181.74 103.35,181.93 103.65,181.91 103.95,181.41 104.25,181.92 104.56,181.39 104.86,181.43 105.16,180.65 105.46,182.33 105.77,181.26 106.07,181.76 106.37,181.75 106.67,182.47 106.98,182.02 107.28,181.47 107.58,181.90 107.88,181.85 108.19,182.06 108.49,181.39 108.79,181.99 109.09,183.07 109.40,182.37 109.70,183.02 110.00,183.66 110.30,182.38 110.60,181.51 110.91,182.16 111.21,182.78 111.51,182.69 111.81,181.72 112.12,182.22 112.42,182.30 112.72,182.38 113.02,182.36 113.33,182.02 113.63,182.17 113.93,182.36 114.23,183.00 114.54,182.28 114.84,182.88 115.14,182.05 115.44,183.23 115.75,182.71 116.05,182.67 116.35,183.34 116.65,181.89 116.96,182.05 117.26,183.01 117.56,182.44 117.86,182.66 118.16,184.13 118.47,182.78 118.77,182.96 119.07,182.91 119.37,183.50 119.68,183.14 119.98,183.13 120.28,182.49 120.58,182.94 120.89,183.13 121.19,182.41 121.49,183.45 121.79,183.40 122.10,184.12 122.40,182.51 122.70,182.83 123.00,182.88 123.31,183.03 123.61,183.33 123.91,183.30 124.21,183.56 124.52,183.56 124.82,183.47 125.12,182.79 125.42,183.28 125.72,183.61 126.03,183.89 126.33,183.94 126.63,182.89 126.93,183.45 127.24,183.69 127.54,183.92 127.84,184.31 128.14,183.84 128.45,183.41 128.75,184.05 129.05,184.00 129.35,184.02 129.66,183.89 129.96,184.74 130.26,184.11 130.56,184.44 130.87,183.63 131.17,184.46 131.47,183.83 131.77,183.40 132.08,184.32 132.38,184.49 132.68,184.13 132.98,184.25 133.28,184.76 133.59,184.09 133.89,183.36 134.19,184.49 134.49,184.49 134.80,184.93 135.10,184.29 135.40,185.08 135.70,185.04 136.01,183.91 136.31,185.00 136.61,184.06 136.91,183.88 137.22,184.52 137.52,184.40 137.82,183.75 138.12,184.82 138.43,185.04 138.73,185.44 139.03,184.79 139.33,184.12 139.64,184.40 139.94,185.35 140.24,185.33 140.54,185.19 140.84,184.83 141.15,185.10 141.45,184.93 141.75,184.91 142.05,185.23 142.36,185.13 142.66,185.04 142.96,185.21 143.26,184.95 143.57,184.32 143.87,184.96 144.17,185.25 144.47,186.12 144.78,185.15 145.08,186.30 145.38,186.07 145.68,185.00 145.99,185.10 146.29,185.54 146.59,186.32 146.89,185.70 147.20,185.88 147.50,185.27 147.80,184.51 148.10,185.53 148.40,186.04 148.71,186.25 149.01,185.74 149.31,185.83 149.61,186.33 149.92,185.74 150.22,186.38 150.52,185.31 150.82,185.37 151.13,185.38 151.43,186.16 151.73,185.71 152.03,186.05 152.34,186.20 152.64,186.21 152.94,186.70 153.24,186.79 153.55,185.74 153.85,186.24 154.15,186.07 154.45,185.72 154.76,187.07 155.06,186.64 155.36,186.20 155.66,186.12 155.96,186.52 156.27,185.87 156.57,186.29 156.87,187.01 157.17,186.90 157.48,186.09 157.78,186.28 158.08,187.45 158.38,185.90 158.69,186.29 158.99,185.96 159.29,186.82 159.59,186.81 159.90,187.23 160.20,185.49 160.50,186.83 160.80,186.00 161.11,187.11 161.41,186.74 161.71,187.66 162.01,187.06 162.32,186.43 162.62,187.54 162.92,186.44 163.22,186.82 163.52,187.52 163.83,187.28 164.13,187.29 164.43,187.11 164.73,187.38 165.04,187.54 165.34,187.32 165.64,187.69 165.94,187.85 166.25,187.27 166.55,186.85 166.85,188.04 167.15,187.33 167.46,187.67 167.76,187.86 168.06,187.00 168.36,187.69 168.67,186.74 168.97,187.87 169.27,187.33 169.57,187.65 169.88,187.93 170.18,187.31 170.48,187.70" fill="none" stroke="#2A5CA0" stroke-width="1.15" stroke-linejoin="round" stroke-opacity="1"/>
<polyline points="34.40,246.31 34.70,245.71 35.00,245.32 35.31,243.96 35.61,243.01 35.91,241.72 36.21,241.77 36.52,240.52 36.82,240.52 37.12,238.57 37.42,238.61 37.73,238.18 38.03,236.56 38.33,235.24 38.63,235.77 38.94,234.82 39.24,233.93 39.54,233.41 39.84,231.98 40.15,231.86 40.45,231.14 40.75,229.84 41.05,229.83 41.36,228.60 41.66,228.64 41.96,228.13 42.26,227.81 42.56,225.41 42.87,225.86 43.17,225.00 43.47,224.55 43.77,223.88 44.08,223.37 44.38,221.91 44.68,222.79 44.98,222.50 45.29,221.71 45.59,221.34 45.89,219.82 46.19,219.27 46.50,219.63 46.80,219.35 47.10,218.36 47.40,217.04 47.71,218.61 48.01,216.53 48.31,216.85 48.61,215.37 48.92,215.96 49.22,215.14 49.52,215.30 49.82,214.62 50.12,213.06 50.43,212.93 50.73,213.12 51.03,212.95 51.33,213.05 51.64,211.94 51.94,211.39 52.24,211.04 52.54,210.68 52.85,210.81 53.15,209.94 53.45,209.58 53.75,208.59 54.06,207.97 54.36,208.61 54.66,208.58 54.96,207.92 55.27,207.86 55.57,207.61 55.87,206.97 56.17,207.14 56.48,206.04 56.78,206.09 57.08,205.63 57.38,205.55 57.68,205.53 57.99,205.36 58.29,204.74 58.59,204.62 58.89,203.98 59.20,203.83 59.50,204.23 59.80,203.28 60.10,203.71 60.41,203.12 60.71,202.72 61.01,203.34 61.31,202.06 61.62,201.80 61.92,201.72 62.22,201.62 62.52,201.38 62.83,201.45 63.13,200.90 63.43,200.82 63.73,200.30 64.04,200.72 64.34,199.83 64.64,199.67 64.94,199.62 65.24,199.57 65.55,198.90 65.85,199.78 66.15,198.57 66.45,198.50 66.76,198.30 67.06,198.08 67.36,198.40 67.66,198.04 67.97,197.44 68.27,197.38 68.57,197.32 68.87,198.00 69.18,196.85 69.48,196.38 69.78,196.31 70.08,196.53 70.39,197.25 70.69,195.90 70.99,196.28 71.29,197.29 71.60,195.75 71.90,196.51 72.20,196.28 72.50,195.83 72.80,194.78 73.11,195.44 73.41,195.01 73.71,194.17 74.01,194.12 74.32,194.82 74.62,194.76 74.92,195.14 75.22,194.75 75.53,194.10 75.83,194.00 76.13,194.02 76.43,193.49 76.74,194.24 77.04,193.78 77.34,193.30 77.64,193.27 77.95,192.93 78.25,193.16 78.55,193.40 78.85,192.98 79.16,193.55 79.46,193.76 79.76,192.60 80.06,193.56 80.36,193.67 80.67,194.90 80.97,194.48 81.27,194.79 81.57,195.10 81.88,195.94 82.18,195.15 82.48,194.68 82.78,195.05 83.09,195.63 83.39,195.44 83.69,195.15 83.99,196.93 84.30,195.73 84.60,195.47 84.90,195.46 85.20,195.03 85.51,195.35 85.81,195.80 86.11,195.85 86.41,195.66 86.72,196.34 87.02,196.14 87.32,195.72 87.62,195.25 87.92,196.30 88.23,196.28 88.53,196.20 88.83,195.67 89.13,196.37 89.44,195.67 89.74,196.88 90.04,196.53 90.34,196.56 90.65,196.12 90.95,196.02 91.25,197.28 91.55,197.02 91.86,196.44 92.16,196.95 92.46,197.39 92.76,196.18 93.07,196.47 93.37,196.49 93.67,196.99 93.97,196.28 94.28,196.92 94.58,196.30 94.88,197.30 95.18,197.29 95.48,196.81 95.79,197.27 96.09,196.63 96.39,196.85 96.69,197.45 97.00,196.99 97.30,197.22 97.60,196.64 97.90,197.41 98.21,197.34 98.51,196.57 98.81,196.09 99.11,196.23 99.42,197.19 99.72,197.14 100.02,196.53 100.32,197.36 100.63,197.79 100.93,197.29 101.23,197.15 101.53,197.80 101.84,198.21 102.14,198.14 102.44,197.15 102.74,197.86 103.04,197.58 103.35,197.44 103.65,197.26 103.95,197.75 104.25,197.37 104.56,198.07 104.86,197.84 105.16,198.18 105.46,197.16 105.77,197.75 106.07,198.11 106.37,197.95 106.67,197.91 106.98,197.49 107.28,198.62 107.58,198.38 107.88,198.08 108.19,196.70 108.49,197.49 108.79,198.03 109.09,197.65 109.40,197.03 109.70,198.16 110.00,198.25 110.30,197.51 110.60,197.88 110.91,197.81 111.21,198.41 111.51,197.26 111.81,197.38 112.12,197.96 112.42,197.93 112.72,199.26 113.02,198.00 113.33,198.42 113.63,198.14 113.93,198.05 114.23,198.57 114.54,199.24 114.84,198.27 115.14,198.83 115.44,198.66 115.75,198.81 116.05,198.71 116.35,199.68 116.65,198.00 116.96,198.49 117.26,198.10 117.56,197.70 117.86,198.67 118.16,199.58 118.47,199.16 118.77,199.34 119.07,199.02 119.37,198.76 119.68,199.79 119.98,198.68 120.28,199.60 120.58,198.75 120.89,198.97 121.19,199.10 121.49,199.00 121.79,199.25 122.10,199.31 122.40,199.85 122.70,199.07 123.00,198.19 123.31,198.15 123.61,198.49 123.91,198.81 124.21,199.50 124.52,198.50 124.82,199.25 125.12,199.28 125.42,199.41 125.72,199.25 126.03,199.53 126.33,199.38 126.63,199.89 126.93,199.57 127.24,198.31 127.54,199.47 127.84,199.57 128.14,199.22 128.45,199.16 128.75,200.06 129.05,199.65 129.35,199.13 129.66,199.46 129.96,199.56 130.26,198.89 130.56,199.99 130.87,199.65 131.17,199.96 131.47,199.01 131.77,200.70 132.08,200.10 132.38,200.06 132.68,199.51 132.98,199.56 133.28,199.20 133.59,200.66 133.89,199.56 134.19,200.08 134.49,200.29 134.80,199.73 135.10,200.45 135.40,201.04 135.70,200.23 136.01,200.80 136.31,200.42 136.61,199.94 136.91,200.00 137.22,199.40 137.52,200.29 137.82,200.96 138.12,200.60 138.43,200.71 138.73,200.87 139.03,200.10 139.33,200.64 139.64,201.31 139.94,200.04 140.24,200.45 140.54,200.25 140.84,200.39 141.15,200.16 141.45,200.47 141.75,199.91 142.05,200.33 142.36,200.37 142.66,200.38 142.96,201.31 143.26,200.70 143.57,200.77 143.87,200.57 144.17,201.35 144.47,199.92 144.78,200.69 145.08,201.35 145.38,201.61 145.68,200.94 145.99,200.87 146.29,201.20 146.59,200.83 146.89,201.21 147.20,200.65 147.50,201.29 147.80,200.98 148.10,200.51 148.40,199.76 148.71,201.52 149.01,201.28 149.31,201.48 149.61,200.72 149.92,201.67 150.22,201.38 150.52,201.18 150.82,201.66 151.13,201.67 151.43,201.46 151.73,202.27 152.03,201.98 152.34,201.50 152.64,201.25 152.94,201.43 153.24,202.22 153.55,201.61 153.85,201.02 154.15,201.16 154.45,201.49 154.76,201.91 155.06,201.19 155.36,201.80 155.66,202.11 155.96,201.95 156.27,200.89 156.57,201.50 156.87,201.07 157.17,201.89 157.48,201.22 157.78,201.99 158.08,201.80 158.38,200.54 158.69,201.39 158.99,202.03 159.29,201.85 159.59,201.67 159.90,201.27 160.20,202.11 160.50,202.74 160.80,202.05 161.11,201.93 161.41,201.91 161.71,201.35 162.01,201.85 162.32,201.63 162.62,202.58 162.92,201.65 163.22,201.08 163.52,201.74 163.83,202.01 164.13,202.08 164.43,201.32 164.73,202.65 165.04,202.28 165.34,202.02 165.64,201.91 165.94,202.50 166.25,202.16 166.55,202.47 166.85,202.30 167.15,202.44 167.46,202.95 167.76,202.43 168.06,202.02 168.36,202.93 168.67,202.60 168.97,202.19 169.27,203.05 169.57,202.46 169.88,203.09 170.18,202.05 170.48,201.50" fill="none" stroke="#2A5CA0" stroke-width="1.15" stroke-linejoin="round" stroke-opacity="1"/>
<polyline points="34.40,245.62 34.70,246.00 35.00,244.86 35.31,244.51 35.61,243.89 35.91,242.60 36.21,243.41 36.52,241.71 36.82,241.72 37.12,240.50 37.42,240.60 37.73,240.54 38.03,239.62 38.33,238.95 38.63,238.85 38.94,238.21 39.24,238.29 39.54,238.67 39.84,236.82 40.15,236.54 40.45,236.44 40.75,236.12 41.05,235.30 41.36,235.67 41.66,235.46 41.96,234.88 42.26,233.89 42.56,234.81 42.87,233.26 43.17,233.84 43.47,233.76 43.77,232.32 44.08,232.69 44.38,232.98 44.68,232.24 44.98,231.34 45.29,230.94 45.59,231.46 45.89,230.79 46.19,230.37 46.50,230.77 46.80,230.03 47.10,229.97 47.40,229.96 47.71,229.69 48.01,229.18 48.31,228.96 48.61,229.00 48.92,228.70 49.22,227.72 49.52,227.93 49.82,227.38 50.12,227.00 50.43,227.07 50.73,226.03 51.03,227.31 51.33,226.31 51.64,226.64 51.94,225.37 52.24,225.24 52.54,226.79 52.85,226.11 53.15,225.12 53.45,224.85 53.75,224.68 54.06,224.87 54.36,224.42 54.66,224.13 54.96,224.29 55.27,223.56 55.57,224.96 55.87,223.37 56.17,223.99 56.48,222.84 56.78,223.23 57.08,223.37 57.38,222.58 57.68,223.02 57.99,222.84 58.29,222.98 58.59,222.07 58.89,221.64 59.20,221.21 59.50,221.61 59.80,220.86 60.10,221.19 60.41,221.08 60.71,220.60 61.01,220.20 61.31,220.72 61.62,220.51 61.92,220.31 62.22,220.03 62.52,220.35 62.83,219.27 63.13,219.80 63.43,219.24 63.73,219.71 64.04,218.99 64.34,218.82 64.64,219.07 64.94,217.74 65.24,218.39 65.55,217.57 65.85,217.82 66.15,218.47 66.45,218.19 66.76,217.66 67.06,217.70 67.36,217.57 67.66,217.60 67.97,218.20 68.27,217.30 68.57,218.14 68.87,216.75 69.18,217.15 69.48,217.02 69.78,216.65 70.08,216.29 70.39,216.99 70.69,217.02 70.99,216.56 71.29,216.91 71.60,216.27 71.90,214.92 72.20,216.08 72.50,215.13 72.80,216.00 73.11,215.07 73.41,215.26 73.71,215.02 74.01,214.60 74.32,213.91 74.62,214.56 74.92,214.48 75.22,214.90 75.53,214.04 75.83,214.33 76.13,213.71 76.43,214.02 76.74,213.06 77.04,214.75 77.34,213.83 77.64,213.16 77.95,213.66 78.25,213.77 78.55,213.41 78.85,213.85 79.16,213.03 79.46,211.81 79.76,212.34 80.06,214.19 80.36,214.40 80.67,214.43 80.97,213.97 81.27,215.04 81.57,215.13 81.88,214.50 82.18,214.62 82.48,215.31 82.78,215.75 83.09,216.03 83.39,215.67 83.69,216.47 83.99,215.07 84.30,215.78 84.60,215.28 84.90,214.64 85.20,215.01 85.51,216.17 85.81,215.22 86.11,215.10 86.41,216.05 86.72,216.17 87.02,215.79 87.32,216.53 87.62,215.07 87.92,216.96 88.23,216.35 88.53,215.97 88.83,215.97 89.13,215.80 89.44,215.77 89.74,216.02 90.04,215.39 90.34,216.99 90.65,215.98 90.95,216.34 91.25,215.95 91.55,215.93 91.86,216.49 92.16,216.38 92.46,215.71 92.76,215.94 93.07,216.46 93.37,215.16 93.67,215.05 93.97,216.89 94.28,216.06 94.58,215.01 94.88,215.86 95.18,216.15 95.48,216.38 95.79,216.56 96.09,216.42 96.39,216.60 96.69,216.00 97.00,216.57 97.30,216.61 97.60,216.99 97.90,216.45 98.21,216.88 98.51,216.56 98.81,215.98 99.11,216.33 99.42,216.28 99.72,216.37 100.02,216.53 100.32,216.64 100.63,216.75 100.93,216.25 101.23,217.16 101.53,216.01 101.84,216.66 102.14,217.05 102.44,216.95 102.74,217.06 103.04,216.67 103.35,217.11 103.65,216.23 103.95,217.18 104.25,217.92 104.56,217.19 104.86,217.83 105.16,216.90 105.46,216.38 105.77,216.60 106.07,217.58 106.37,217.32 106.67,216.11 106.98,216.83 107.28,217.00 107.58,216.51 107.88,215.86 108.19,216.43 108.49,217.01 108.79,216.92 109.09,216.82 109.40,217.43 109.70,217.66 110.00,217.14 110.30,217.65 110.60,217.24 110.91,217.18 111.21,216.11 111.51,217.67 111.81,217.34 112.12,217.38 112.42,217.10 112.72,216.83 113.02,217.59 113.33,217.77 113.63,218.18 113.93,217.85 114.23,217.16 114.54,217.42 114.84,217.95 115.14,217.66 115.44,217.48 115.75,217.27 116.05,217.82 116.35,217.67 116.65,218.45 116.96,218.14 117.26,216.82 117.56,218.68 117.86,217.80 118.16,217.55 118.47,217.86 118.77,218.08 119.07,217.74 119.37,217.73 119.68,217.79 119.98,218.67 120.28,217.85 120.58,218.21 120.89,218.08 121.19,217.73 121.49,217.54 121.79,217.44 122.10,218.13 122.40,217.46 122.70,217.36 123.00,217.39 123.31,217.29 123.61,218.05 123.91,218.08 124.21,217.62 124.52,218.69 124.82,217.95 125.12,218.32 125.42,218.26 125.72,218.95 126.03,218.55 126.33,218.15 126.63,217.73 126.93,217.69 127.24,218.23 127.54,218.30 127.84,218.63 128.14,218.05 128.45,218.38 128.75,217.99 129.05,217.45 129.35,218.33 129.66,219.06 129.96,218.77 130.26,219.07 130.56,218.96 130.87,217.77 131.17,218.31 131.47,219.17 131.77,218.14 132.08,217.86 132.38,218.66 132.68,218.83 132.98,218.69 133.28,218.40 133.59,218.25 133.89,218.00 134.19,218.01 134.49,218.04 134.80,217.97 135.10,218.33 135.40,219.40 135.70,218.74 136.01,218.55 136.31,218.90 136.61,218.29 136.91,218.92 137.22,219.21 137.52,218.09 137.82,218.48 138.12,218.71 138.43,218.39 138.73,218.34 139.03,218.71 139.33,220.08 139.64,219.23 139.94,219.14 140.24,219.41 140.54,218.86 140.84,218.40 141.15,219.22 141.45,219.56 141.75,218.04 142.05,219.26 142.36,219.65 142.66,218.96 142.96,218.89 143.26,219.45 143.57,218.74 143.87,219.38 144.17,219.61 144.47,219.09 144.78,218.82 145.08,219.52 145.38,219.07 145.68,219.29 145.99,217.90 146.29,219.62 146.59,218.63 146.89,219.34 147.20,219.39 147.50,219.00 147.80,218.93 148.10,218.77 148.40,219.24 148.71,219.71 149.01,219.69 149.31,219.20 149.61,219.18 149.92,218.81 150.22,219.30 150.52,219.00 150.82,218.80 151.13,219.47 151.43,220.28 151.73,220.15 152.03,220.29 152.34,218.85 152.64,220.04 152.94,219.05 153.24,219.38 153.55,218.85 153.85,219.21 154.15,219.77 154.45,219.83 154.76,219.71 155.06,219.68 155.36,220.04 155.66,219.82 155.96,219.04 156.27,220.66 156.57,219.72 156.87,220.30 157.17,219.79 157.48,219.49 157.78,219.94 158.08,219.56 158.38,220.72 158.69,219.43 158.99,220.27 159.29,219.70 159.59,219.93 159.90,221.28 160.20,220.41 160.50,219.96 160.80,219.33 161.11,219.96 161.41,219.99 161.71,220.81 162.01,219.45 162.32,219.29 162.62,220.17 162.92,220.30 163.22,220.99 163.52,219.80 163.83,218.94 164.13,219.91 164.43,219.67 164.73,220.03 165.04,220.79 165.34,219.68 165.64,220.94 165.94,220.46 166.25,220.24 166.55,219.96 166.85,220.21 167.15,220.24 167.46,220.81 167.76,221.08 168.06,220.44 168.36,220.83 168.67,221.14 168.97,221.13 169.27,220.77 169.57,221.45 169.88,221.22 170.18,221.38 170.48,220.51" fill="none" stroke="#2A5CA0" stroke-width="1.15" stroke-linejoin="round" stroke-opacity="1"/>
<polyline points="34.40,246.40 34.70,245.52 35.00,247.12 35.31,246.62 35.61,245.74 35.91,246.18 36.21,246.13 36.52,245.05 36.82,245.93 37.12,246.23 37.42,246.20 37.73,245.30 38.03,245.21 38.33,245.92 38.63,245.64 38.94,244.80 39.24,244.68 39.54,245.17 39.84,244.46 40.15,244.38 40.45,245.42 40.75,244.61 41.05,244.16 41.36,244.54 41.66,245.20 41.96,244.20 42.26,243.60 42.56,243.10 42.87,244.83 43.17,242.41 43.47,244.12 43.77,243.02 44.08,242.79 44.38,242.81 44.68,243.12 44.98,243.66 45.29,242.70 45.59,243.25 45.89,244.03 46.19,241.35 46.50,242.28 46.80,241.65 47.10,242.87 47.40,241.63 47.71,241.47 48.01,241.40 48.31,242.07 48.61,242.55 48.92,241.96 49.22,242.84 49.52,242.51 49.82,241.55 50.12,241.98 50.43,241.49 50.73,241.37 51.03,240.30 51.33,240.51 51.64,241.07 51.94,240.37 52.24,241.25 52.54,240.94 52.85,240.25 53.15,241.20 53.45,240.65 53.75,241.06 54.06,240.28 54.36,239.46 54.66,240.52 54.96,239.96 55.27,240.42 55.57,240.45 55.87,240.40 56.17,239.02 56.48,238.49 56.78,239.31 57.08,239.81 57.38,239.03 57.68,239.45 57.99,238.82 58.29,238.98 58.59,238.90 58.89,238.65 59.20,239.14 59.50,238.97 59.80,239.53 60.10,238.82 60.41,239.21 60.71,238.51 61.01,238.82 61.31,238.23 61.62,237.97 61.92,238.80 62.22,238.42 62.52,238.40 62.83,237.50 63.13,236.95 63.43,237.29 63.73,237.79 64.04,236.83 64.34,238.19 64.64,236.65 64.94,237.61 65.24,238.56 65.55,235.85 65.85,236.29 66.15,237.47 66.45,236.81 66.76,236.92 67.06,236.68 67.36,237.37 67.66,236.91 67.97,236.27 68.27,236.31 68.57,235.76 68.87,236.22 69.18,235.05 69.48,236.45 69.78,235.90 70.08,236.88 70.39,236.48 70.69,235.16 70.99,236.18 71.29,235.39 71.60,235.60 71.90,236.00 72.20,235.59 72.50,235.59 72.80,235.50 73.11,234.83 73.41,234.80 73.71,235.32 74.01,235.41 74.32,234.76 74.62,234.87 74.92,234.25 75.22,233.39 75.53,234.19 75.83,234.54 76.13,234.53 76.43,234.79 76.74,234.74 77.04,234.72 77.34,234.35 77.64,234.29 77.95,233.65 78.25,234.14 78.55,233.97 78.85,234.39 79.16,232.93 79.46,233.41 79.76,232.72 80.06,233.32 80.36,232.98 80.67,233.82 80.97,233.36 81.27,232.40 81.57,234.30 81.88,233.14 82.18,232.88 82.48,233.50 82.78,233.34 83.09,233.09 83.39,234.03 83.69,233.51 83.99,234.14 84.30,234.04 84.60,234.01 84.90,233.78 85.20,233.64 85.51,233.48 85.81,234.41 86.11,232.73 86.41,233.14 86.72,233.35 87.02,233.89 87.32,233.75 87.62,233.44 87.92,233.51 88.23,234.54 88.53,233.34 88.83,232.27 89.13,234.63 89.44,233.22 89.74,233.53 90.04,233.77 90.34,233.03 90.65,234.30 90.95,233.63 91.25,232.99 91.55,233.81 91.86,233.92 92.16,233.66 92.46,233.94 92.76,232.95 93.07,234.17 93.37,233.28 93.67,234.34 93.97,233.38 94.28,233.77 94.58,235.00 94.88,233.72 95.18,234.25 95.48,233.94 95.79,232.95 96.09,234.27 96.39,234.25 96.69,233.00 97.00,233.66 97.30,232.95 97.60,233.56 97.90,234.16 98.21,233.75 98.51,233.11 98.81,233.25 99.11,233.72 99.42,233.70 99.72,233.78 100.02,234.01 100.32,232.76 100.63,233.72 100.93,234.28 101.23,233.96 101.53,233.36 101.84,233.40 102.14,233.79 102.44,234.06 102.74,233.71 103.04,234.56 103.35,234.37 103.65,233.33 103.95,233.96 104.25,233.54 104.56,233.12 104.86,233.40 105.16,233.72 105.46,232.67 105.77,233.39 106.07,233.90 106.37,233.36 106.67,233.52 106.98,234.15 107.28,233.69 107.58,233.81 107.88,234.71 108.19,233.81 108.49,233.87 108.79,233.95 109.09,234.55 109.40,233.91 109.70,233.75 110.00,233.68 110.30,234.29 110.60,233.42 110.91,234.33 111.21,233.84 111.51,233.08 111.81,234.08 112.12,233.99 112.42,233.20 112.72,233.92 113.02,233.88 113.33,233.62 113.63,233.21 113.93,234.83 114.23,234.14 114.54,234.23 114.84,234.27 115.14,234.16 115.44,234.15 115.75,233.59 116.05,234.18 116.35,233.67 116.65,233.54 116.96,234.10 117.26,233.67 117.56,232.92 117.86,233.58 118.16,234.05 118.47,233.77 118.77,234.19 119.07,233.60 119.37,233.31 119.68,234.14 119.98,233.84 120.28,233.19 120.58,233.98 120.89,233.65 121.19,234.25 121.49,234.14 121.79,233.99 122.10,232.69 122.40,233.94 122.70,234.00 123.00,234.01 123.31,233.82 123.61,233.42 123.91,233.65 124.21,232.75 124.52,233.64 124.82,233.04 125.12,233.61 125.42,233.45 125.72,234.44 126.03,233.80 126.33,233.78 126.63,233.86 126.93,234.79 127.24,233.32 127.54,233.93 127.84,233.96 128.14,233.87 128.45,233.86 128.75,233.55 129.05,234.36 129.35,234.20 129.66,233.61 129.96,233.68 130.26,233.93 130.56,234.02 130.87,234.15 131.17,233.78 131.47,233.18 131.77,234.26 132.08,233.01 132.38,233.34 132.68,233.97 132.98,233.37 133.28,234.46 133.59,234.59 133.89,234.37 134.19,233.95 134.49,233.91 134.80,234.00 135.10,233.70 135.40,234.78 135.70,233.51 136.01,234.44 136.31,234.07 136.61,233.95 136.91,234.31 137.22,234.42 137.52,234.24 137.82,233.76 138.12,233.47 138.43,233.48 138.73,234.24 139.03,234.14 139.33,234.20 139.64,233.54 139.94,234.74 140.24,233.16 140.54,233.99 140.84,234.13 141.15,233.59 141.45,233.26 141.75,233.59 142.05,233.25 142.36,233.69 142.66,233.16 142.96,233.16 143.26,233.81 143.57,233.06 143.87,233.68 144.17,233.72 144.47,234.20 144.78,233.90 145.08,233.38 145.38,234.39 145.68,233.45 145.99,233.59 146.29,233.63 146.59,234.83 146.89,233.81 147.20,233.45 147.50,234.13 147.80,233.72 148.10,234.91 148.40,233.44 148.71,234.08 149.01,233.34 149.31,234.65 149.61,233.43 149.92,233.88 150.22,233.37 150.52,234.21 150.82,234.06 151.13,232.68 151.43,234.17 151.73,234.11 152.03,233.90 152.34,234.26 152.64,233.19 152.94,232.93 153.24,234.11 153.55,234.60 153.85,233.20 154.15,233.23 154.45,233.37 154.76,233.21 155.06,234.19 155.36,233.85 155.66,234.44 155.96,234.45 156.27,233.29 156.57,234.09 156.87,232.67 157.17,233.73 157.48,234.08 157.78,233.38 158.08,232.90 158.38,233.54 158.69,234.36 158.99,233.59 159.29,233.11 159.59,234.01 159.90,234.15 160.20,233.28 160.50,233.70 160.80,234.31 161.11,233.96 161.41,234.14 161.71,233.63 162.01,233.72 162.32,233.22 162.62,233.43 162.92,234.53 163.22,233.58 163.52,233.34 163.83,233.56 164.13,233.28 164.43,234.04 164.73,234.24 165.04,233.33 165.34,234.29 165.64,234.82 165.94,233.28 166.25,234.13 166.55,233.93 166.85,234.45 167.15,234.42 167.46,234.34 167.76,233.95 168.06,233.60 168.36,234.89 168.67,233.42 168.97,234.35 169.27,234.30 169.57,233.45 169.88,233.82 170.18,234.52 170.48,232.89" fill="none" stroke="#2A5CA0" stroke-width="1.15" stroke-linejoin="round" stroke-opacity="1"/>
<polyline points="30.50,246.60 34.40,246.60" fill="none" stroke="#2A5CA0" stroke-width="1.3" stroke-linejoin="round" stroke-opacity="1"/>
<polyline points="34.40,246.60 35.16,240.28 35.91,234.57 36.67,229.42 37.42,224.78 38.18,220.58 38.94,216.80 39.69,213.38 40.45,210.29 41.20,207.51 41.96,205.00 42.72,202.73 43.47,200.68 44.23,198.83 44.98,197.17 45.74,195.66 46.50,194.30 47.25,193.08 48.01,191.97 48.76,190.97 49.52,190.07 50.28,189.26 51.03,188.52 51.79,187.86 52.54,187.26 53.30,186.72 54.06,186.23 54.81,185.79 55.57,185.40 56.32,185.04 57.08,184.71 57.84,184.42 58.59,184.16 59.35,183.92 60.10,183.71 60.86,183.51 61.62,183.34 62.37,183.18 63.13,183.04 63.88,182.91 64.64,182.79 65.40,182.69 66.15,182.59 66.91,182.51 67.66,182.43 68.42,182.36 69.18,182.30 69.93,182.24 70.69,182.19 71.44,182.14 72.20,182.10 72.96,182.07 73.71,182.03 74.47,182.00 75.22,181.97 75.98,181.95 76.74,181.93 77.49,181.91 78.25,181.89 79.00,181.87 79.76,181.86 80.52,181.80 81.27,181.88 82.03,181.97 82.78,182.05 83.54,182.13 84.30,182.22 85.05,182.30 85.81,182.38 86.56,182.46 87.32,182.55 88.08,182.63 88.83,182.71 89.59,182.79 90.34,182.87 91.10,182.96 91.86,183.04 92.61,183.12 93.37,183.20 94.12,183.28 94.88,183.36 95.64,183.44 96.39,183.53 97.15,183.61 97.90,183.69 98.66,183.77 99.42,183.85 100.17,183.93 100.93,184.01 101.68,184.09 102.44,184.17 103.20,184.25 103.95,184.33 104.71,184.41 105.46,184.49 106.22,184.57 106.98,184.65 107.73,184.73 108.49,184.81 109.24,184.89 110.00,184.97 110.76,185.05 111.51,185.13 112.27,185.20 113.02,185.28 113.78,185.36 114.54,185.44 115.29,185.52 116.05,185.60 116.80,185.68 117.56,185.75 118.32,185.83 119.07,185.91 119.83,185.99 120.58,186.07 121.34,186.14 122.10,186.22 122.85,186.30 123.61,186.38 124.36,186.45 125.12,186.53 125.88,186.61 126.63,186.69 127.39,186.76 128.14,186.84 128.90,186.92 129.66,186.99 130.41,187.07 131.17,187.15 131.92,187.22 132.68,187.30 133.44,187.37 134.19,187.45 134.95,187.53 135.70,187.60 136.46,187.68 137.22,187.75 137.97,187.83 138.73,187.90 139.48,187.98 140.24,188.06 141.00,188.13 141.75,188.21 142.51,188.28 143.26,188.36 144.02,188.43 144.78,188.51 145.53,188.58 146.29,188.65 147.04,188.73 147.80,188.80 148.56,188.88 149.31,188.95 150.07,189.03 150.82,189.10 151.58,189.17 152.34,189.25 153.09,189.32 153.85,189.39 154.60,189.47 155.36,189.54 156.12,189.61 156.87,189.69 157.63,189.76 158.38,189.83 159.14,189.91 159.90,189.98 160.65,190.05 161.41,190.12 162.16,190.20 162.92,190.27 163.68,190.34 164.43,190.41 165.19,190.49 165.94,190.56 166.70,190.63 167.46,190.70 168.21,190.77 168.97,190.85 169.72,190.92 170.48,190.99" fill="none" stroke="#FF4D4D" stroke-width="1.1" stroke-linejoin="round" stroke-opacity="1"/>
<polyline points="34.40,246.60 35.16,244.23 35.91,241.95 36.67,239.76 37.42,237.66 38.18,235.64 38.94,233.70 39.69,231.84 40.45,230.05 41.20,228.32 41.96,226.67 42.72,225.08 43.47,223.56 44.23,222.09 44.98,220.68 45.74,219.33 46.50,218.02 47.25,216.77 48.01,215.57 48.76,214.42 49.52,213.31 50.28,212.25 51.03,211.22 51.79,210.24 52.54,209.30 53.30,208.39 54.06,207.52 54.81,206.68 55.57,205.87 56.32,205.10 57.08,204.36 57.84,203.64 58.59,202.96 59.35,202.30 60.10,201.67 60.86,201.06 61.62,200.47 62.37,199.91 63.13,199.37 63.88,198.85 64.64,198.35 65.40,197.88 66.15,197.42 66.91,196.97 67.66,196.55 68.42,196.14 69.18,195.75 69.93,195.37 70.69,195.01 71.44,194.66 72.20,194.33 72.96,194.01 73.71,193.70 74.47,193.41 75.22,193.12 75.98,192.85 76.74,192.59 77.49,192.33 78.25,192.09 79.00,191.86 79.76,191.63 80.52,191.69 81.27,191.75 82.03,191.81 82.78,191.87 83.54,191.93 84.30,191.99 85.05,192.05 85.81,192.11 86.56,192.17 87.32,192.23 88.08,192.29 88.83,192.35 89.59,192.41 90.34,192.47 91.10,192.53 91.86,192.59 92.61,192.64 93.37,192.70 94.12,192.76 94.88,192.82 95.64,192.88 96.39,192.94 97.15,193.00 97.90,193.06 98.66,193.12 99.42,193.17 100.17,193.23 100.93,193.29 101.68,193.35 102.44,193.41 103.20,193.47 103.95,193.52 104.71,193.58 105.46,193.64 106.22,193.70 106.98,193.76 107.73,193.81 108.49,193.87 109.24,193.93 110.00,193.99 110.76,194.04 111.51,194.10 112.27,194.16 113.02,194.22 113.78,194.27 114.54,194.33 115.29,194.39 116.05,194.45 116.80,194.50 117.56,194.56 118.32,194.62 119.07,194.67 119.83,194.73 120.58,194.79 121.34,194.84 122.10,194.90 122.85,194.96 123.61,195.01 124.36,195.07 125.12,195.13 125.88,195.18 126.63,195.24 127.39,195.30 128.14,195.35 128.90,195.41 129.66,195.46 130.41,195.52 131.17,195.58 131.92,195.63 132.68,195.69 133.44,195.74 134.19,195.80 134.95,195.85 135.70,195.91 136.46,195.96 137.22,196.02 137.97,196.08 138.73,196.13 139.48,196.19 140.24,196.24 141.00,196.30 141.75,196.35 142.51,196.41 143.26,196.46 144.02,196.52 144.78,196.57 145.53,196.63 146.29,196.68 147.04,196.74 147.80,196.79 148.56,196.84 149.31,196.90 150.07,196.95 150.82,197.01 151.58,197.06 152.34,197.12 153.09,197.17 153.85,197.22 154.60,197.28 155.36,197.33 156.12,197.39 156.87,197.44 157.63,197.49 158.38,197.55 159.14,197.60 159.90,197.65 160.65,197.71 161.41,197.76 162.16,197.82 162.92,197.87 163.68,197.92 164.43,197.98 165.19,198.03 165.94,198.08 166.70,198.13 167.46,198.19 168.21,198.24 168.97,198.29 169.72,198.35 170.48,198.40" fill="none" stroke="#FF4D4D" stroke-width="1.1" stroke-linejoin="round" stroke-opacity="1"/>
<polyline points="34.40,246.60 35.16,245.92 35.91,245.24 36.67,244.57 37.42,243.91 38.18,243.25 38.94,242.59 39.69,241.94 40.45,241.30 41.20,240.66 41.96,240.03 42.72,239.41 43.47,238.78 44.23,238.17 44.98,237.56 45.74,236.95 46.50,236.35 47.25,235.76 48.01,235.17 48.76,234.58 49.52,234.00 50.28,233.42 51.03,232.85 51.79,232.29 52.54,231.73 53.30,231.17 54.06,230.62 54.81,230.07 55.57,229.53 56.32,228.99 57.08,228.46 57.84,227.93 58.59,227.41 59.35,226.89 60.10,226.37 60.86,225.86 61.62,225.35 62.37,224.85 63.13,224.35 63.88,223.86 64.64,223.37 65.40,222.88 66.15,222.40 66.91,221.92 67.66,221.45 68.42,220.98 69.18,220.52 69.93,220.05 70.69,219.60 71.44,219.14 72.20,218.69 72.96,218.25 73.71,217.81 74.47,217.37 75.22,216.93 75.98,216.50 76.74,216.07 77.49,215.65 78.25,215.23 79.00,214.81 79.76,214.40 80.52,215.29 81.27,215.33 82.03,215.37 82.78,215.41 83.54,215.45 84.30,215.49 85.05,215.53 85.81,215.57 86.56,215.61 87.32,215.65 88.08,215.69 88.83,215.73 89.59,215.77 90.34,215.81 91.10,215.85 91.86,215.88 92.61,215.92 93.37,215.96 94.12,216.00 94.88,216.04 95.64,216.08 96.39,216.12 97.15,216.16 97.90,216.20 98.66,216.24 99.42,216.28 100.17,216.32 100.93,216.35 101.68,216.39 102.44,216.43 103.20,216.47 103.95,216.51 104.71,216.55 105.46,216.59 106.22,216.63 106.98,216.66 107.73,216.70 108.49,216.74 109.24,216.78 110.00,216.82 110.76,216.86 111.51,216.89 112.27,216.93 113.02,216.97 113.78,217.01 114.54,217.05 115.29,217.08 116.05,217.12 116.80,217.16 117.56,217.20 118.32,217.24 119.07,217.27 119.83,217.31 120.58,217.35 121.34,217.39 122.10,217.42 122.85,217.46 123.61,217.50 124.36,217.54 125.12,217.57 125.88,217.61 126.63,217.65 127.39,217.68 128.14,217.72 128.90,217.76 129.66,217.80 130.41,217.83 131.17,217.87 131.92,217.91 132.68,217.94 133.44,217.98 134.19,218.02 134.95,218.05 135.70,218.09 136.46,218.13 137.22,218.16 137.97,218.20 138.73,218.24 139.48,218.27 140.24,218.31 141.00,218.35 141.75,218.38 142.51,218.42 143.26,218.45 144.02,218.49 144.78,218.53 145.53,218.56 146.29,218.60 147.04,218.63 147.80,218.67 148.56,218.71 149.31,218.74 150.07,218.78 150.82,218.81 151.58,218.85 152.34,218.89 153.09,218.92 153.85,218.96 154.60,218.99 155.36,219.03 156.12,219.06 156.87,219.10 157.63,219.13 158.38,219.17 159.14,219.20 159.90,219.24 160.65,219.27 161.41,219.31 162.16,219.34 162.92,219.38 163.68,219.41 164.43,219.45 165.19,219.48 165.94,219.52 166.70,219.55 167.46,219.59 168.21,219.62 168.97,219.66 169.72,219.69 170.48,219.73" fill="none" stroke="#FF4D4D" stroke-width="1.1" stroke-linejoin="round" stroke-opacity="1"/>
<polyline points="34.40,246.60 35.16,246.37 35.91,246.13 36.67,245.90 37.42,245.67 38.18,245.44 38.94,245.21 39.69,244.99 40.45,244.76 41.20,244.54 41.96,244.32 42.72,244.10 43.47,243.88 44.23,243.66 44.98,243.45 45.74,243.23 46.50,243.02 47.25,242.81 48.01,242.60 48.76,242.39 49.52,242.18 50.28,241.97 51.03,241.77 51.79,241.56 52.54,241.36 53.30,241.16 54.06,240.96 54.81,240.76 55.57,240.56 56.32,240.37 57.08,240.17 57.84,239.98 58.59,239.79 59.35,239.60 60.10,239.41 60.86,239.22 61.62,239.03 62.37,238.85 63.13,238.66 63.88,238.48 64.64,238.30 65.40,238.11 66.15,237.93 66.91,237.76 67.66,237.58 68.42,237.40 69.18,237.23 69.93,237.05 70.69,236.88 71.44,236.71 72.20,236.54 72.96,236.37 73.71,236.20 74.47,236.03 75.22,235.86 75.98,235.70 76.74,235.53 77.49,235.37 78.25,235.21 79.00,235.05 79.76,234.89 80.52,235.20 81.27,235.20 82.03,235.20 82.78,235.21 83.54,235.21 84.30,235.21 85.05,235.22 85.81,235.22 86.56,235.22 87.32,235.22 88.08,235.23 88.83,235.23 89.59,235.23 90.34,235.23 91.10,235.24 91.86,235.24 92.61,235.24 93.37,235.25 94.12,235.25 94.88,235.25 95.64,235.25 96.39,235.26 97.15,235.26 97.90,235.26 98.66,235.27 99.42,235.27 100.17,235.27 100.93,235.27 101.68,235.28 102.44,235.28 103.20,235.28 103.95,235.29 104.71,235.29 105.46,235.29 106.22,235.29 106.98,235.30 107.73,235.30 108.49,235.30 109.24,235.31 110.00,235.31 110.76,235.31 111.51,235.31 112.27,235.32 113.02,235.32 113.78,235.32 114.54,235.33 115.29,235.33 116.05,235.33 116.80,235.33 117.56,235.34 118.32,235.34 119.07,235.34 119.83,235.35 120.58,235.35 121.34,235.35 122.10,235.35 122.85,235.36 123.61,235.36 124.36,235.36 125.12,235.36 125.88,235.37 126.63,235.37 127.39,235.37 128.14,235.38 128.90,235.38 129.66,235.38 130.41,235.38 131.17,235.39 131.92,235.39 132.68,235.39 133.44,235.40 134.19,235.40 134.95,235.40 135.70,235.40 136.46,235.41 137.22,235.41 137.97,235.41 138.73,235.42 139.48,235.42 140.24,235.42 141.00,235.42 141.75,235.43 142.51,235.43 143.26,235.43 144.02,235.43 144.78,235.44 145.53,235.44 146.29,235.44 147.04,235.45 147.80,235.45 148.56,235.45 149.31,235.45 150.07,235.46 150.82,235.46 151.58,235.46 152.34,235.47 153.09,235.47 153.85,235.47 154.60,235.47 155.36,235.48 156.12,235.48 156.87,235.48 157.63,235.49 158.38,235.49 159.14,235.49 159.90,235.49 160.65,235.50 161.41,235.50 162.16,235.50 162.92,235.50 163.68,235.51 164.43,235.51 165.19,235.51 165.94,235.52 166.70,235.52 167.46,235.52 168.21,235.52 168.97,235.53 169.72,235.53 170.48,235.53" fill="none" stroke="#FF4D4D" stroke-width="1.1" stroke-linejoin="round" stroke-opacity="1"/>
<line x1="206.20" y1="158.00" x2="206.20" y2="255.10" stroke="#e2e2e2" stroke-width="1.3" />
<line x1="202.40" y1="158.00" x2="202.40" y2="255.60" stroke="#333" stroke-width="1.0" />
<line x1="200.40" y1="254.96" x2="202.40" y2="254.96" stroke="#222" stroke-width="1.0" />
<line x1="199.60" y1="247.60" x2="202.40" y2="247.60" stroke="#222" stroke-width="1.0" />
<text x="194.5" y="250.2" font-size="7.4" text-anchor="middle" fill="#000" >0</text>
<line x1="200.40" y1="240.24" x2="202.40" y2="240.24" stroke="#222" stroke-width="1.0" />
<line x1="200.40" y1="232.88" x2="202.40" y2="232.88" stroke="#222" stroke-width="1.0" />
<line x1="200.40" y1="225.52" x2="202.40" y2="225.52" stroke="#222" stroke-width="1.0" />
<line x1="200.40" y1="218.16" x2="202.40" y2="218.16" stroke="#222" stroke-width="1.0" />
<line x1="199.60" y1="210.80" x2="202.40" y2="210.80" stroke="#222" stroke-width="1.0" />
<text x="194.5" y="213.39999999999998" font-size="7.4" text-anchor="middle" fill="#000" >0.05</text>
<line x1="200.40" y1="203.44" x2="202.40" y2="203.44" stroke="#222" stroke-width="1.0" />
<line x1="200.40" y1="196.08" x2="202.40" y2="196.08" stroke="#222" stroke-width="1.0" />
<line x1="200.40" y1="188.72" x2="202.40" y2="188.72" stroke="#222" stroke-width="1.0" />
<line x1="200.40" y1="181.36" x2="202.40" y2="181.36" stroke="#222" stroke-width="1.0" />
<line x1="199.60" y1="174.00" x2="202.40" y2="174.00" stroke="#222" stroke-width="1.0" />
<text x="194.5" y="176.6" font-size="7.4" text-anchor="middle" fill="#000" >0.1</text>
<line x1="200.40" y1="166.64" x2="202.40" y2="166.64" stroke="#222" stroke-width="1.0" />
<line x1="200.40" y1="159.28" x2="202.40" y2="159.28" stroke="#222" stroke-width="1.0" />
<line x1="202.40" y1="255.10" x2="350.79" y2="255.10" stroke="#333" stroke-width="1.0" />
<line x1="206.20" y1="255.10" x2="206.20" y2="257.90" stroke="#222" stroke-width="1.0" />
<text x="206.2" y="266.9" font-size="7.2" text-anchor="middle" fill="#000" >0</text>
<line x1="209.40" y1="255.10" x2="209.40" y2="257.10" stroke="#222" stroke-width="1.0" />
<line x1="212.60" y1="255.10" x2="212.60" y2="257.10" stroke="#222" stroke-width="1.0" />
<line x1="215.81" y1="255.10" x2="215.81" y2="257.10" stroke="#222" stroke-width="1.0" />
<line x1="219.01" y1="255.10" x2="219.01" y2="257.10" stroke="#222" stroke-width="1.0" />
<line x1="222.21" y1="255.10" x2="222.21" y2="257.90" stroke="#222" stroke-width="1.0" />
<text x="222.20999999999998" y="266.9" font-size="7.2" text-anchor="middle" fill="#000" >100</text>
<line x1="225.41" y1="255.10" x2="225.41" y2="257.10" stroke="#222" stroke-width="1.0" />
<line x1="228.61" y1="255.10" x2="228.61" y2="257.10" stroke="#222" stroke-width="1.0" />
<line x1="231.82" y1="255.10" x2="231.82" y2="257.10" stroke="#222" stroke-width="1.0" />
<line x1="235.02" y1="255.10" x2="235.02" y2="257.10" stroke="#222" stroke-width="1.0" />
<line x1="238.22" y1="255.10" x2="238.22" y2="257.90" stroke="#222" stroke-width="1.0" />
<text x="238.21999999999997" y="266.9" font-size="7.2" text-anchor="middle" fill="#000" >200</text>
<line x1="241.42" y1="255.10" x2="241.42" y2="257.10" stroke="#222" stroke-width="1.0" />
<line x1="244.62" y1="255.10" x2="244.62" y2="257.10" stroke="#222" stroke-width="1.0" />
<line x1="247.83" y1="255.10" x2="247.83" y2="257.10" stroke="#222" stroke-width="1.0" />
<line x1="251.03" y1="255.10" x2="251.03" y2="257.10" stroke="#222" stroke-width="1.0" />
<line x1="254.23" y1="255.10" x2="254.23" y2="257.90" stroke="#222" stroke-width="1.0" />
<text x="254.23" y="266.9" font-size="7.2" text-anchor="middle" fill="#000" >300</text>
<line x1="257.43" y1="255.10" x2="257.43" y2="257.10" stroke="#222" stroke-width="1.0" />
<line x1="260.63" y1="255.10" x2="260.63" y2="257.10" stroke="#222" stroke-width="1.0" />
<line x1="263.84" y1="255.10" x2="263.84" y2="257.10" stroke="#222" stroke-width="1.0" />
<line x1="267.04" y1="255.10" x2="267.04" y2="257.10" stroke="#222" stroke-width="1.0" />
<line x1="270.24" y1="255.10" x2="270.24" y2="257.90" stroke="#222" stroke-width="1.0" />
<text x="270.24" y="266.9" font-size="7.2" text-anchor="middle" fill="#000" >400</text>
<line x1="273.44" y1="255.10" x2="273.44" y2="257.10" stroke="#222" stroke-width="1.0" />
<line x1="276.64" y1="255.10" x2="276.64" y2="257.10" stroke="#222" stroke-width="1.0" />
<line x1="279.85" y1="255.10" x2="279.85" y2="257.10" stroke="#222" stroke-width="1.0" />
<line x1="283.05" y1="255.10" x2="283.05" y2="257.10" stroke="#222" stroke-width="1.0" />
<line x1="286.25" y1="255.10" x2="286.25" y2="257.90" stroke="#222" stroke-width="1.0" />
<text x="286.25" y="266.9" font-size="7.2" text-anchor="middle" fill="#000" >500</text>
<line x1="289.45" y1="255.10" x2="289.45" y2="257.10" stroke="#222" stroke-width="1.0" />
<line x1="292.65" y1="255.10" x2="292.65" y2="257.10" stroke="#222" stroke-width="1.0" />
<line x1="295.86" y1="255.10" x2="295.86" y2="257.10" stroke="#222" stroke-width="1.0" />
<line x1="299.06" y1="255.10" x2="299.06" y2="257.10" stroke="#222" stroke-width="1.0" />
<line x1="302.26" y1="255.10" x2="302.26" y2="257.90" stroke="#222" stroke-width="1.0" />
<text x="302.26" y="266.9" font-size="7.2" text-anchor="middle" fill="#000" >600</text>
<line x1="305.46" y1="255.10" x2="305.46" y2="257.10" stroke="#222" stroke-width="1.0" />
<line x1="308.66" y1="255.10" x2="308.66" y2="257.10" stroke="#222" stroke-width="1.0" />
<line x1="311.87" y1="255.10" x2="311.87" y2="257.10" stroke="#222" stroke-width="1.0" />
<line x1="315.07" y1="255.10" x2="315.07" y2="257.10" stroke="#222" stroke-width="1.0" />
<line x1="318.27" y1="255.10" x2="318.27" y2="257.90" stroke="#222" stroke-width="1.0" />
<text x="318.27" y="266.9" font-size="7.2" text-anchor="middle" fill="#000" >700</text>
<line x1="321.47" y1="255.10" x2="321.47" y2="257.10" stroke="#222" stroke-width="1.0" />
<line x1="324.67" y1="255.10" x2="324.67" y2="257.10" stroke="#222" stroke-width="1.0" />
<line x1="327.88" y1="255.10" x2="327.88" y2="257.10" stroke="#222" stroke-width="1.0" />
<line x1="331.08" y1="255.10" x2="331.08" y2="257.10" stroke="#222" stroke-width="1.0" />
<line x1="334.28" y1="255.10" x2="334.28" y2="257.90" stroke="#222" stroke-width="1.0" />
<text x="334.28" y="266.9" font-size="7.2" text-anchor="middle" fill="#000" >800</text>
<line x1="337.48" y1="255.10" x2="337.48" y2="257.10" stroke="#222" stroke-width="1.0" />
<line x1="340.68" y1="255.10" x2="340.68" y2="257.10" stroke="#222" stroke-width="1.0" />
<line x1="343.89" y1="255.10" x2="343.89" y2="257.10" stroke="#222" stroke-width="1.0" />
<line x1="347.09" y1="255.10" x2="347.09" y2="257.10" stroke="#222" stroke-width="1.0" />
<line x1="350.29" y1="255.10" x2="350.29" y2="257.90" stroke="#222" stroke-width="1.0" />
<text x="350.28999999999996" y="266.9" font-size="7.2" text-anchor="middle" fill="#000" >900</text>
<text x="282.6" y="273.9" font-size="7.1" text-anchor="middle" fill="#000" >Time (s)</text>
<text x="271.5" y="161.6" font-size="7.3" text-anchor="middle" fill="#000" >A6</text>
<text x="291.0" y="172.3" font-size="7.3" text-anchor="start" fill="#000" >KD = 30.9 nM</text>
<text x="361.7" y="207.0" font-size="6.7" text-anchor="middle" fill="#000" transform="rotate(-90 361.7 207.0)">Reponse (nm)</text>
<polyline points="206.20,248.42 206.52,246.20 206.84,245.09 207.16,242.80 207.48,243.47 207.80,240.98 208.12,241.57 208.44,238.73 208.76,239.49 209.08,238.08 209.40,234.90 209.72,235.42 210.04,234.64 210.36,231.63 210.68,232.48 211.00,232.68 211.32,230.27 211.64,231.20 211.96,228.10 212.28,227.15 212.60,227.99 212.92,227.20 213.24,225.59 213.56,224.93 213.88,225.07 214.20,222.79 214.53,224.51 214.85,222.20 215.17,221.41 215.49,220.54 215.81,219.25 216.13,219.99 216.45,217.55 216.77,217.58 217.09,217.34 217.41,217.35 217.73,216.51 218.05,214.37 218.37,214.99 218.69,213.37 219.01,211.79 219.33,211.20 219.65,210.09 219.97,211.27 220.29,211.44 220.61,208.85 220.93,208.96 221.25,207.62 221.57,208.14 221.89,206.46 222.21,206.26 222.53,205.86 222.85,205.55 223.17,205.14 223.49,204.80 223.81,204.31 224.13,203.10 224.45,204.06 224.77,201.44 225.09,202.74 225.41,201.24 225.73,201.82 226.05,201.53 226.37,198.92 226.69,200.73 227.01,201.24 227.33,200.28 227.65,199.50 227.97,196.73 228.29,198.20 228.61,197.12 228.93,198.59 229.25,196.92 229.57,196.25 229.89,194.80 230.21,196.83 230.54,195.24 230.86,195.18 231.18,196.11 231.50,194.81 231.82,194.72 232.14,196.36 232.46,193.25 232.78,192.99 233.10,193.61 233.42,194.17 233.74,191.17 234.06,192.04 234.38,191.03 234.70,190.37 235.02,191.94 235.34,190.38 235.66,191.12 235.98,190.68 236.30,190.44 236.62,190.10 236.94,188.78 237.26,189.47 237.58,189.49 237.90,189.36 238.22,188.53 238.54,189.48 238.86,188.87 239.18,188.21 239.50,188.48 239.82,187.83 240.14,188.08 240.46,185.37 240.78,185.80 241.10,186.44 241.42,186.71 241.74,184.37 242.06,185.95 242.38,186.15 242.70,185.59 243.02,185.40 243.34,184.15 243.66,185.34 243.98,183.13 244.30,185.81 244.62,184.13 244.94,185.58 245.26,182.71 245.58,184.60 245.90,184.18 246.22,183.08 246.55,182.60 246.87,184.71 247.19,183.83 247.51,184.68 247.83,183.06 248.15,183.15 248.47,183.24 248.79,183.42 249.11,182.99 249.43,183.20 249.75,181.85 250.07,180.77 250.39,183.94 250.71,182.07 251.03,182.24 251.35,181.24 251.67,182.50 251.99,181.61 252.31,182.34 252.63,180.57 252.95,181.02 253.27,181.16 253.59,180.54 253.91,181.02 254.23,182.16 254.55,179.72 254.87,180.04 255.19,180.50 255.51,179.44 255.83,179.25 256.15,181.49 256.47,181.23 256.79,179.03 257.11,179.18 257.43,181.28 257.75,181.73 258.07,181.25 258.39,181.14 258.71,182.22 259.03,180.70 259.35,181.99 259.67,181.95 259.99,179.95 260.31,181.51 260.63,180.96 260.95,180.32 261.27,180.17 261.59,181.31 261.91,180.97 262.24,181.84 262.56,179.41 262.88,180.49 263.20,182.20 263.52,181.17 263.84,180.52 264.16,180.78 264.48,179.52 264.80,179.98 265.12,181.84 265.44,181.44 265.76,182.62 266.08,181.18 266.40,181.31 266.72,178.90 267.04,181.42 267.36,183.55 267.68,182.22 268.00,181.50 268.32,182.84 268.64,182.50 268.96,182.05 269.28,181.41 269.60,181.92 269.92,182.65 270.24,181.07 270.56,182.37 270.88,182.37 271.20,183.24 271.52,182.70 271.84,181.36 272.16,183.56 272.48,182.11 272.80,181.39 273.12,182.47 273.44,181.91 273.76,183.24 274.08,180.94 274.40,181.18 274.72,182.03 275.04,183.97 275.36,183.32 275.68,181.42 276.00,180.74 276.32,182.13 276.64,181.25 276.96,183.06 277.28,182.69 277.60,182.54 277.92,182.16 278.25,184.06 278.57,181.73 278.89,181.39 279.21,183.79 279.53,184.02 279.85,182.42 280.17,183.41 280.49,185.08 280.81,182.07 281.13,182.72 281.45,183.36 281.77,180.91 282.09,182.83 282.41,183.72 282.73,182.93 283.05,184.05 283.37,183.82 283.69,182.75 284.01,183.68 284.33,183.61 284.65,181.61 284.97,182.42 285.29,182.50 285.61,182.79 285.93,182.87 286.25,181.97 286.57,183.41 286.89,181.65 287.21,184.36 287.53,183.73 287.85,184.83 288.17,183.87 288.49,183.08 288.81,182.21 289.13,184.27 289.45,183.66 289.77,184.04 290.09,184.43 290.41,184.89 290.73,183.73 291.05,185.47 291.37,183.74 291.69,183.85 292.01,184.53 292.33,184.90 292.65,185.29 292.97,182.20 293.29,185.31 293.61,182.56 293.93,183.51 294.25,184.46 294.58,185.25 294.90,183.18 295.22,182.55 295.54,185.13 295.86,184.55 296.18,183.29 296.50,184.00 296.82,182.44 297.14,184.93 297.46,183.89 297.78,185.64 298.10,182.47 298.42,185.20 298.74,186.65 299.06,184.68 299.38,184.73 299.70,182.79 300.02,184.98 300.34,184.69 300.66,184.14 300.98,183.22 301.30,184.83 301.62,183.81 301.94,184.33 302.26,185.14 302.58,184.81 302.90,184.89 303.22,185.82 303.54,183.82 303.86,186.33 304.18,183.92 304.50,184.15 304.82,185.18 305.14,185.86 305.46,185.37 305.78,184.73 306.10,184.50 306.42,184.97 306.74,184.32 307.06,185.84 307.38,185.11 307.70,186.86 308.02,184.66 308.34,185.27 308.66,185.85 308.98,184.37 309.30,184.85 309.62,188.23 309.94,185.53 310.26,186.99 310.59,184.60 310.91,183.27 311.23,186.18 311.55,185.64 311.87,185.98 312.19,185.43 312.51,185.18 312.83,184.60 313.15,186.80 313.47,184.38 313.79,186.81 314.11,185.68 314.43,184.87 314.75,185.32 315.07,186.93 315.39,186.73 315.71,186.53 316.03,186.17 316.35,185.05 316.67,187.41 316.99,185.76 317.31,185.65 317.63,185.73 317.95,185.85 318.27,184.87 318.59,185.88 318.91,185.56 319.23,185.87 319.55,184.72 319.87,188.28 320.19,185.27 320.51,186.77 320.83,186.82 321.15,187.51 321.47,188.40 321.79,187.01 322.11,187.33 322.43,186.22 322.75,188.13 323.07,185.38 323.39,186.52 323.71,187.05 324.03,187.52 324.35,187.62 324.67,187.98 324.99,187.45 325.31,186.95 325.63,187.15 325.95,188.37 326.27,187.30 326.60,187.92 326.92,186.95 327.24,185.34 327.56,186.56 327.88,187.48 328.20,188.77 328.52,188.59 328.84,188.88 329.16,186.60 329.48,188.06 329.80,187.29 330.12,187.98 330.44,187.32 330.76,186.10 331.08,188.12 331.40,187.82 331.72,188.30 332.04,186.72 332.36,188.56 332.68,188.69 333.00,188.97 333.32,189.01 333.64,187.24 333.96,185.27 334.28,188.70 334.60,186.87 334.92,187.57 335.24,188.89 335.56,188.13 335.88,188.12 336.20,188.58 336.52,186.10 336.84,189.80 337.16,187.64 337.48,187.72 337.80,188.62 338.12,187.95 338.44,187.28 338.76,188.00 339.08,187.77 339.40,187.54 339.72,190.17 340.04,186.84 340.36,186.11 340.68,187.38 341.00,187.37 341.32,189.72 341.64,188.51 341.96,189.20 342.28,189.02 342.61,187.56 342.93,189.28 343.25,188.66 343.57,190.39 343.89,188.74 344.21,188.53 344.53,189.32 344.85,189.37 345.17,186.90 345.49,189.89 345.81,189.77 346.13,189.56 346.45,187.67 346.77,186.83 347.09,188.55 347.41,189.59 347.73,189.34 348.05,187.94 348.37,189.85 348.69,187.62 349.01,187.68 349.33,189.00 349.65,188.47 349.97,188.40 350.29,187.66" fill="none" stroke="#62BDBD" stroke-width="1.1" stroke-linejoin="round" stroke-opacity="1"/>
<polyline points="206.20,248.61 206.52,246.04 206.84,247.11 207.16,247.07 207.48,245.81 207.80,245.70 208.12,246.03 208.44,246.20 208.76,245.16 209.08,242.47 209.40,241.57 209.72,242.43 210.04,241.52 210.36,242.75 210.68,241.93 211.00,241.20 211.32,242.11 211.64,241.64 211.96,240.21 212.28,240.23 212.60,240.56 212.92,238.79 213.24,239.04 213.56,237.43 213.88,238.04 214.20,237.95 214.53,237.18 214.85,237.10 215.17,237.21 215.49,236.59 215.81,235.13 216.13,234.87 216.45,233.90 216.77,236.40 217.09,234.80 217.41,234.47 217.73,233.57 218.05,233.82 218.37,233.53 218.69,231.95 219.01,232.19 219.33,233.14 219.65,230.41 219.97,230.40 220.29,231.57 220.61,229.90 220.93,231.07 221.25,228.96 221.57,229.92 221.89,230.16 222.21,229.43 222.53,229.49 222.85,228.25 223.17,227.95 223.49,227.77 223.81,228.03 224.13,230.69 224.45,226.79 224.77,228.39 225.09,226.04 225.41,224.89 225.73,225.41 226.05,225.74 226.37,225.24 226.69,224.90 227.01,225.01 227.33,224.75 227.65,224.79 227.97,222.48 228.29,223.34 228.61,222.13 228.93,223.00 229.25,222.41 229.57,222.36 229.89,221.47 230.21,220.85 230.54,221.13 230.86,221.73 231.18,221.56 231.50,218.96 231.82,220.54 232.14,220.29 232.46,218.34 232.78,218.44 233.10,218.70 233.42,219.34 233.74,216.44 234.06,218.06 234.38,217.66 234.70,218.09 235.02,219.02 235.34,218.69 235.66,216.78 235.98,216.54 236.30,216.90 236.62,217.54 236.94,217.56 237.26,216.25 237.58,217.08 237.90,214.59 238.22,214.11 238.54,212.26 238.86,213.89 239.18,215.06 239.50,215.10 239.82,217.33 240.14,214.37 240.46,213.74 240.78,212.41 241.10,212.53 241.42,212.32 241.74,212.46 242.06,211.81 242.38,210.83 242.70,213.01 243.02,212.21 243.34,212.88 243.66,209.79 243.98,209.88 244.30,210.19 244.62,211.84 244.94,210.32 245.26,210.50 245.58,209.98 245.90,210.03 246.22,209.15 246.55,209.82 246.87,208.42 247.19,208.80 247.51,209.11 247.83,208.73 248.15,208.85 248.47,207.45 248.79,208.29 249.11,207.55 249.43,208.01 249.75,208.86 250.07,206.38 250.39,208.07 250.71,206.22 251.03,206.27 251.35,208.07 251.67,207.20 251.99,206.60 252.31,206.71 252.63,206.87 252.95,204.85 253.27,205.61 253.59,204.83 253.91,205.43 254.23,204.54 254.55,206.12 254.87,205.89 255.19,205.69 255.51,206.53 255.83,207.28 256.15,208.10 256.47,207.09 256.79,207.08 257.11,207.79 257.43,208.40 257.75,207.24 258.07,205.47 258.39,208.21 258.71,207.67 259.03,207.69 259.35,210.56 259.67,208.04 259.99,208.88 260.31,206.92 260.63,208.53 260.95,209.06 261.27,208.56 261.59,208.23 261.91,208.96 262.24,208.50 262.56,209.78 262.88,208.73 263.20,207.80 263.52,206.69 263.84,207.93 264.16,208.37 264.48,207.53 264.80,207.71 265.12,207.12 265.44,207.71 265.76,208.88 266.08,208.55 266.40,208.65 266.72,208.56 267.04,208.69 267.36,209.66 267.68,210.95 268.00,209.61 268.32,210.93 268.64,208.95 268.96,209.04 269.28,210.67 269.60,208.44 269.92,208.30 270.24,209.06 270.56,207.58 270.88,207.41 271.20,210.39 271.52,208.27 271.84,208.86 272.16,208.91 272.48,208.45 272.80,210.05 273.12,209.96 273.44,210.21 273.76,210.17 274.08,209.57 274.40,210.89 274.72,210.53 275.04,209.00 275.36,209.65 275.68,209.24 276.00,211.44 276.32,210.41 276.64,210.22 276.96,209.68 277.28,210.30 277.60,208.87 277.92,209.85 278.25,209.80 278.57,209.83 278.89,209.19 279.21,210.35 279.53,208.85 279.85,209.51 280.17,209.83 280.49,209.96 280.81,209.53 281.13,209.08 281.45,209.18 281.77,209.75 282.09,209.30 282.41,210.05 282.73,208.99 283.05,210.24 283.37,212.23 283.69,208.99 284.01,210.19 284.33,211.44 284.65,210.53 284.97,211.22 285.29,208.39 285.61,209.95 285.93,211.95 286.25,209.95 286.57,210.88 286.89,208.69 287.21,211.56 287.53,212.73 287.85,210.54 288.17,210.96 288.49,211.05 288.81,212.73 289.13,210.30 289.45,209.13 289.77,212.59 290.09,209.66 290.41,211.35 290.73,208.59 291.05,210.44 291.37,211.07 291.69,209.86 292.01,210.44 292.33,211.53 292.65,210.31 292.97,211.50 293.29,212.75 293.61,209.12 293.93,211.43 294.25,211.70 294.58,210.82 294.90,212.66 295.22,212.49 295.54,211.70 295.86,211.74 296.18,211.20 296.50,210.22 296.82,211.78 297.14,210.88 297.46,210.80 297.78,212.44 298.10,211.20 298.42,212.35 298.74,210.46 299.06,211.06 299.38,211.51 299.70,212.83 300.02,211.46 300.34,212.33 300.66,210.95 300.98,211.76 301.30,212.45 301.62,210.82 301.94,211.04 302.26,212.32 302.58,210.66 302.90,212.09 303.22,212.12 303.54,211.73 303.86,212.60 304.18,212.32 304.50,212.08 304.82,210.49 305.14,210.54 305.46,212.25 305.78,210.49 306.10,212.09 306.42,211.71 306.74,211.26 307.06,211.85 307.38,209.84 307.70,211.94 308.02,213.35 308.34,210.98 308.66,212.64 308.98,212.57 309.30,215.16 309.62,211.37 309.94,211.57 310.26,211.61 310.59,211.46 310.91,210.80 311.23,212.49 311.55,211.57 311.87,213.21 312.19,212.86 312.51,211.53 312.83,212.20 313.15,213.87 313.47,212.27 313.79,212.82 314.11,213.45 314.43,212.28 314.75,213.10 315.07,214.24 315.39,213.83 315.71,211.10 316.03,214.26 316.35,212.63 316.67,212.28 316.99,212.28 317.31,214.08 317.63,213.24 317.95,212.83 318.27,212.22 318.59,213.63 318.91,214.15 319.23,212.10 319.55,212.02 319.87,212.75 320.19,213.71 320.51,212.76 320.83,213.07 321.15,212.40 321.47,214.42 321.79,213.14 322.11,213.43 322.43,214.36 322.75,213.12 323.07,213.31 323.39,213.76 323.71,213.01 324.03,214.78 324.35,213.49 324.67,213.05 324.99,213.22 325.31,212.48 325.63,214.69 325.95,215.00 326.27,213.36 326.60,213.17 326.92,211.60 327.24,213.07 327.56,214.52 327.88,212.93 328.20,214.54 328.52,215.17 328.84,211.28 329.16,213.49 329.48,213.14 329.80,213.31 330.12,212.14 330.44,213.62 330.76,212.75 331.08,214.92 331.40,215.30 331.72,212.62 332.04,212.60 332.36,213.55 332.68,213.84 333.00,213.92 333.32,214.76 333.64,212.66 333.96,213.52 334.28,213.69 334.60,213.84 334.92,213.22 335.24,213.76 335.56,213.56 335.88,215.41 336.20,213.83 336.52,212.25 336.84,214.86 337.16,214.51 337.48,213.55 337.80,213.52 338.12,213.86 338.44,216.03 338.76,214.02 339.08,215.66 339.40,215.34 339.72,214.05 340.04,214.88 340.36,213.84 340.68,211.63 341.00,213.92 341.32,213.99 341.64,215.57 341.96,215.35 342.28,215.77 342.61,215.29 342.93,215.85 343.25,215.45 343.57,215.05 343.89,215.83 344.21,216.25 344.53,216.22 344.85,214.50 345.17,214.90 345.49,214.00 345.81,214.01 346.13,215.36 346.45,214.41 346.77,216.45 347.09,212.91 347.41,213.98 347.73,215.35 348.05,216.28 348.37,214.83 348.69,217.00 349.01,215.98 349.33,214.54 349.65,215.21 349.97,215.77 350.29,214.41" fill="none" stroke="#62BDBD" stroke-width="1.1" stroke-linejoin="round" stroke-opacity="1"/>
<polyline points="206.20,248.59 206.52,247.12 206.84,247.67 207.16,247.80 207.48,246.35 207.80,247.54 208.12,244.57 208.44,246.75 208.76,244.09 209.08,246.85 209.40,245.03 209.72,246.56 210.04,246.51 210.36,244.88 210.68,244.20 211.00,245.88 211.32,243.34 211.64,245.05 211.96,243.98 212.28,243.56 212.60,243.17 212.92,245.28 213.24,241.83 213.56,242.66 213.88,243.43 214.20,243.82 214.53,244.29 214.85,243.80 215.17,241.80 215.49,242.48 215.81,243.06 216.13,242.31 216.45,240.14 216.77,241.79 217.09,241.86 217.41,239.85 217.73,240.53 218.05,240.77 218.37,241.23 218.69,241.97 219.01,241.45 219.33,240.63 219.65,240.22 219.97,239.51 220.29,239.16 220.61,239.32 220.93,239.17 221.25,240.19 221.57,241.14 221.89,239.42 222.21,239.68 222.53,239.25 222.85,238.74 223.17,239.51 223.49,239.24 223.81,238.13 224.13,237.77 224.45,238.37 224.77,237.12 225.09,237.66 225.41,238.29 225.73,237.13 226.05,235.23 226.37,237.54 226.69,235.64 227.01,235.30 227.33,235.04 227.65,237.13 227.97,234.28 228.29,235.96 228.61,236.18 228.93,236.03 229.25,235.10 229.57,235.49 229.89,235.58 230.21,234.06 230.54,235.85 230.86,236.03 231.18,234.14 231.50,234.10 231.82,233.60 232.14,235.55 232.46,233.37 232.78,233.82 233.10,232.47 233.42,235.23 233.74,233.70 234.06,234.06 234.38,235.19 234.70,234.24 235.02,232.36 235.34,233.77 235.66,233.89 235.98,232.26 236.30,232.03 236.62,231.91 236.94,233.50 237.26,232.69 237.58,231.53 237.90,233.04 238.22,233.01 238.54,231.39 238.86,230.58 239.18,233.07 239.50,234.35 239.82,233.14 240.14,232.61 240.46,231.67 240.78,230.85 241.10,231.47 241.42,231.90 241.74,230.98 242.06,231.94 242.38,230.96 242.70,231.43 243.02,228.15 243.34,229.83 243.66,231.31 243.98,231.37 244.30,230.74 244.62,231.79 244.94,230.82 245.26,230.73 245.58,229.08 245.90,230.24 246.22,230.49 246.55,230.93 246.87,230.68 247.19,229.52 247.51,229.57 247.83,228.19 248.15,229.78 248.47,228.08 248.79,228.75 249.11,228.91 249.43,230.74 249.75,229.97 250.07,227.94 250.39,227.22 250.71,228.27 251.03,227.65 251.35,228.69 251.67,228.57 251.99,228.76 252.31,227.11 252.63,227.63 252.95,228.10 253.27,228.11 253.59,227.18 253.91,227.32 254.23,228.34 254.55,226.60 254.87,228.55 255.19,229.27 255.51,228.27 255.83,229.06 256.15,230.42 256.47,230.08 256.79,231.84 257.11,231.62 257.43,233.33 257.75,230.14 258.07,233.25 258.39,230.89 258.71,232.43 259.03,232.66 259.35,231.98 259.67,231.61 259.99,231.34 260.31,230.28 260.63,231.68 260.95,231.22 261.27,232.68 261.59,231.46 261.91,232.03 262.24,232.65 262.56,232.33 262.88,232.33 263.20,232.11 263.52,231.93 263.84,232.83 264.16,233.07 264.48,231.67 264.80,234.03 265.12,233.02 265.44,230.97 265.76,235.06 266.08,233.15 266.40,231.85 266.72,234.11 267.04,230.06 267.36,235.04 267.68,231.21 268.00,231.11 268.32,231.74 268.64,232.85 268.96,232.31 269.28,233.53 269.60,231.91 269.92,233.77 270.24,232.98 270.56,231.78 270.88,233.81 271.20,233.11 271.52,232.62 271.84,234.08 272.16,231.69 272.48,232.50 272.80,234.29 273.12,232.90 273.44,233.61 273.76,233.51 274.08,232.82 274.40,233.59 274.72,232.00 275.04,233.61 275.36,232.01 275.68,233.00 276.00,232.15 276.32,233.50 276.64,233.48 276.96,234.11 277.28,232.47 277.60,232.14 277.92,231.02 278.25,231.83 278.57,232.83 278.89,233.29 279.21,232.73 279.53,233.14 279.85,231.72 280.17,232.23 280.49,233.94 280.81,233.81 281.13,231.86 281.45,232.88 281.77,233.41 282.09,232.06 282.41,233.58 282.73,233.49 283.05,233.67 283.37,235.12 283.69,232.42 284.01,234.42 284.33,233.82 284.65,233.99 284.97,232.60 285.29,233.37 285.61,233.30 285.93,234.93 286.25,233.41 286.57,234.75 286.89,233.06 287.21,233.01 287.53,233.38 287.85,231.42 288.17,232.88 288.49,232.82 288.81,233.27 289.13,233.60 289.45,232.50 289.77,232.38 290.09,234.68 290.41,232.44 290.73,232.96 291.05,232.54 291.37,233.02 291.69,234.67 292.01,234.61 292.33,231.75 292.65,233.26 292.97,234.87 293.29,233.18 293.61,233.87 293.93,235.30 294.25,235.73 294.58,235.08 294.90,233.29 295.22,233.61 295.54,233.81 295.86,233.30 296.18,233.01 296.50,235.60 296.82,233.89 297.14,234.40 297.46,234.79 297.78,234.14 298.10,233.74 298.42,233.89 298.74,235.03 299.06,234.11 299.38,231.72 299.70,234.66 300.02,235.28 300.34,233.40 300.66,233.10 300.98,233.24 301.30,234.76 301.62,232.74 301.94,234.45 302.26,234.79 302.58,234.29 302.90,233.82 303.22,233.04 303.54,233.13 303.86,233.75 304.18,232.84 304.50,233.66 304.82,232.89 305.14,235.10 305.46,235.26 305.78,233.02 306.10,235.10 306.42,234.06 306.74,233.87 307.06,234.25 307.38,234.22 307.70,232.46 308.02,236.22 308.34,232.96 308.66,231.61 308.98,233.79 309.30,233.84 309.62,233.13 309.94,232.08 310.26,234.97 310.59,233.75 310.91,234.02 311.23,233.31 311.55,233.70 311.87,233.22 312.19,234.26 312.51,233.81 312.83,234.51 313.15,234.50 313.47,234.01 313.79,234.01 314.11,235.00 314.43,232.38 314.75,234.02 315.07,235.22 315.39,232.84 315.71,234.62 316.03,233.42 316.35,233.92 316.67,233.67 316.99,233.75 317.31,234.47 317.63,233.88 317.95,231.98 318.27,236.07 318.59,233.87 318.91,233.52 319.23,234.95 319.55,235.25 319.87,231.88 320.19,234.31 320.51,231.96 320.83,233.44 321.15,233.89 321.47,233.51 321.79,233.36 322.11,232.84 322.43,233.56 322.75,233.84 323.07,233.81 323.39,232.69 323.71,233.20 324.03,234.95 324.35,234.60 324.67,233.68 324.99,234.59 325.31,234.36 325.63,234.92 325.95,234.25 326.27,233.60 326.60,233.06 326.92,234.00 327.24,232.03 327.56,234.09 327.88,230.96 328.20,233.06 328.52,233.55 328.84,234.51 329.16,236.73 329.48,234.18 329.80,233.86 330.12,232.20 330.44,235.36 330.76,232.22 331.08,234.29 331.40,233.35 331.72,236.48 332.04,233.92 332.36,234.38 332.68,233.40 333.00,233.97 333.32,235.15 333.64,233.16 333.96,233.40 334.28,233.50 334.60,233.10 334.92,233.02 335.24,234.09 335.56,235.37 335.88,235.40 336.20,232.79 336.52,233.40 336.84,233.99 337.16,234.50 337.48,234.06 337.80,234.07 338.12,234.41 338.44,234.76 338.76,232.02 339.08,233.88 339.40,234.68 339.72,235.35 340.04,234.80 340.36,233.41 340.68,233.38 341.00,234.32 341.32,234.06 341.64,234.40 341.96,235.17 342.28,232.87 342.61,233.76 342.93,231.75 343.25,234.84 343.57,234.25 343.89,233.28 344.21,234.36 344.53,235.45 344.85,235.03 345.17,234.03 345.49,233.80 345.81,234.22 346.13,233.17 346.45,233.18 346.77,233.83 347.09,234.11 347.41,234.38 347.73,233.61 348.05,233.26 348.37,234.08 348.69,233.71 349.01,234.46 349.33,235.50 349.65,235.11 349.97,233.42 350.29,233.72" fill="none" stroke="#62BDBD" stroke-width="1.1" stroke-linejoin="round" stroke-opacity="1"/>
<polyline points="206.20,246.08 206.52,247.51 206.84,246.70 207.16,246.22 207.48,246.50 207.80,247.99 208.12,247.55 208.44,247.21 208.76,248.24 209.08,246.81 209.40,246.24 209.72,247.65 210.04,245.26 210.36,247.39 210.68,247.27 211.00,247.26 211.32,247.68 211.64,246.56 211.96,246.91 212.28,245.30 212.60,246.27 212.92,246.30 213.24,246.99 213.56,248.09 213.88,246.78 214.20,247.48 214.53,245.71 214.85,246.62 215.17,244.96 215.49,245.81 215.81,245.67 216.13,246.22 216.45,246.20 216.77,245.74 217.09,245.44 217.41,246.97 217.73,245.78 218.05,243.70 218.37,246.26 218.69,246.38 219.01,246.76 219.33,247.45 219.65,244.89 219.97,245.93 220.29,245.66 220.61,244.15 220.93,243.47 221.25,246.69 221.57,244.79 221.89,245.16 222.21,245.34 222.53,245.23 222.85,245.67 223.17,244.09 223.49,244.98 223.81,245.20 224.13,244.30 224.45,244.60 224.77,244.98 225.09,245.07 225.41,243.67 225.73,244.82 226.05,245.36 226.37,246.05 226.69,245.52 227.01,246.16 227.33,245.02 227.65,244.84 227.97,247.01 228.29,244.99 228.61,244.35 228.93,244.77 229.25,245.81 229.57,243.64 229.89,245.49 230.21,245.96 230.54,245.78 230.86,244.72 231.18,243.73 231.50,243.52 231.82,244.39 232.14,245.70 232.46,245.15 232.78,245.34 233.10,244.62 233.42,246.11 233.74,244.26 234.06,243.72 234.38,244.44 234.70,243.82 235.02,245.12 235.34,245.58 235.66,244.76 235.98,243.00 236.30,243.09 236.62,244.47 236.94,242.84 237.26,244.27 237.58,242.47 237.90,243.42 238.22,244.28 238.54,243.05 238.86,244.51 239.18,244.63 239.50,245.08 239.82,243.41 240.14,243.67 240.46,243.66 240.78,243.94 241.10,242.13 241.42,243.88 241.74,244.13 242.06,242.20 242.38,242.00 242.70,243.00 243.02,244.95 243.34,243.82 243.66,242.62 243.98,243.15 244.30,241.65 244.62,244.40 244.94,242.41 245.26,243.62 245.58,241.72 245.90,243.02 246.22,241.92 246.55,243.49 246.87,244.18 247.19,243.86 247.51,243.34 247.83,243.70 248.15,241.53 248.47,241.36 248.79,242.35 249.11,243.56 249.43,242.65 249.75,243.15 250.07,241.07 250.39,242.12 250.71,241.91 251.03,242.73 251.35,244.23 251.67,243.01 251.99,243.30 252.31,241.84 252.63,242.06 252.95,242.89 253.27,242.45 253.59,240.55 253.91,242.93 254.23,242.85 254.55,241.92 254.87,242.10 255.19,241.58 255.51,240.43 255.83,239.06 256.15,242.22 256.47,240.35 256.79,240.12 257.11,240.08 257.43,240.04 257.75,240.05 258.07,238.64 258.39,239.93 258.71,239.50 259.03,239.28 259.35,239.09 259.67,239.27 259.99,238.07 260.31,238.97 260.63,238.73 260.95,238.88 261.27,239.74 261.59,239.52 261.91,239.68 262.24,238.45 262.56,239.28 262.88,239.57 263.20,238.29 263.52,237.99 263.84,240.14 264.16,236.82 264.48,238.38 264.80,238.48 265.12,237.34 265.44,238.28 265.76,238.90 266.08,236.21 266.40,239.32 266.72,238.37 267.04,237.45 267.36,239.28 267.68,238.34 268.00,237.86 268.32,235.92 268.64,239.07 268.96,238.25 269.28,237.57 269.60,238.11 269.92,239.33 270.24,237.79 270.56,238.07 270.88,237.74 271.20,237.08 271.52,237.19 271.84,237.76 272.16,237.85 272.48,239.20 272.80,238.27 273.12,237.93 273.44,238.52 273.76,238.04 274.08,238.92 274.40,236.66 274.72,236.07 275.04,238.50 275.36,237.74 275.68,238.35 276.00,236.91 276.32,237.71 276.64,238.05 276.96,238.33 277.28,238.00 277.60,239.07 277.92,237.47 278.25,238.80 278.57,237.60 278.89,237.99 279.21,237.07 279.53,238.13 279.85,237.13 280.17,238.99 280.49,237.53 280.81,238.33 281.13,237.92 281.45,238.04 281.77,237.21 282.09,240.04 282.41,237.80 282.73,239.54 283.05,236.95 283.37,240.00 283.69,239.07 284.01,239.71 284.33,236.54 284.65,239.34 284.97,238.00 285.29,238.62 285.61,239.83 285.93,238.43 286.25,237.47 286.57,238.28 286.89,237.21 287.21,238.45 287.53,238.10 287.85,238.47 288.17,237.78 288.49,236.29 288.81,237.76 289.13,237.92 289.45,238.70 289.77,238.83 290.09,236.71 290.41,239.17 290.73,238.98 291.05,238.20 291.37,238.51 291.69,236.23 292.01,240.37 292.33,237.76 292.65,237.42 292.97,239.18 293.29,238.72 293.61,237.69 293.93,236.55 294.25,238.99 294.58,239.62 294.90,237.18 295.22,236.65 295.54,238.43 295.86,240.22 296.18,236.72 296.50,238.30 296.82,237.03 297.14,238.15 297.46,238.47 297.78,238.54 298.10,236.70 298.42,236.73 298.74,240.15 299.06,239.00 299.38,236.41 299.70,238.46 300.02,239.41 300.34,238.10 300.66,238.21 300.98,238.20 301.30,238.56 301.62,238.40 301.94,238.54 302.26,237.79 302.58,238.88 302.90,238.38 303.22,238.24 303.54,236.86 303.86,237.75 304.18,238.21 304.50,237.59 304.82,237.72 305.14,237.06 305.46,237.62 305.78,236.39 306.10,236.82 306.42,238.14 306.74,238.50 307.06,237.26 307.38,237.61 307.70,238.20 308.02,239.52 308.34,239.86 308.66,237.77 308.98,237.37 309.30,237.34 309.62,239.34 309.94,237.11 310.26,238.62 310.59,237.73 310.91,237.71 311.23,238.87 311.55,238.67 311.87,240.09 312.19,238.98 312.51,239.83 312.83,237.69 313.15,238.05 313.47,237.23 313.79,237.76 314.11,238.71 314.43,237.77 314.75,238.48 315.07,237.52 315.39,237.80 315.71,239.05 316.03,238.10 316.35,238.05 316.67,238.40 316.99,237.25 317.31,236.47 317.63,238.46 317.95,238.44 318.27,240.26 318.59,238.23 318.91,238.52 319.23,240.17 319.55,237.83 319.87,237.54 320.19,238.81 320.51,238.46 320.83,239.03 321.15,237.38 321.47,239.56 321.79,238.41 322.11,236.24 322.43,238.06 322.75,237.66 323.07,238.25 323.39,239.23 323.71,238.14 324.03,237.72 324.35,239.08 324.67,237.78 324.99,236.91 325.31,237.08 325.63,239.62 325.95,239.04 326.27,239.65 326.60,237.08 326.92,237.52 327.24,237.43 327.56,238.95 327.88,239.22 328.20,238.03 328.52,238.01 328.84,238.92 329.16,237.97 329.48,237.49 329.80,237.89 330.12,239.10 330.44,240.13 330.76,238.35 331.08,237.95 331.40,238.35 331.72,238.52 332.04,238.77 332.36,237.42 332.68,238.16 333.00,237.99 333.32,239.04 333.64,238.70 333.96,237.95 334.28,239.07 334.60,239.31 334.92,238.42 335.24,236.96 335.56,237.92 335.88,236.71 336.20,238.23 336.52,238.40 336.84,239.44 337.16,238.66 337.48,236.73 337.80,237.79 338.12,237.40 338.44,237.43 338.76,238.11 339.08,238.30 339.40,237.99 339.72,237.46 340.04,237.67 340.36,237.63 340.68,237.96 341.00,238.84 341.32,238.36 341.64,239.01 341.96,237.14 342.28,240.12 342.61,238.31 342.93,235.82 343.25,238.43 343.57,239.19 343.89,238.12 344.21,236.87 344.53,238.26 344.85,237.52 345.17,238.01 345.49,238.46 345.81,235.09 346.13,238.04 346.45,238.62 346.77,238.57 347.09,237.74 347.41,237.71 347.73,237.37 348.05,237.97 348.37,239.48 348.69,237.60 349.01,238.40 349.33,238.38 349.65,239.52 349.97,238.65 350.29,238.80" fill="none" stroke="#62BDBD" stroke-width="1.1" stroke-linejoin="round" stroke-opacity="1"/>
<polyline points="202.20,247.51 202.70,243.97 203.20,247.73 203.70,247.91 204.20,244.80 204.70,246.04 205.20,245.46 205.70,249.87 206.20,241.28" fill="none" stroke="#62BDBD" stroke-width="1.2" stroke-linejoin="round" stroke-opacity="1"/>
<polyline points="206.20,247.60 207.00,244.77 207.80,242.05 208.60,239.44 209.40,236.94 210.20,234.53 211.00,232.21 211.80,229.99 212.60,227.85 213.40,225.79 214.20,223.82 215.01,221.93 215.81,220.10 216.61,218.35 217.41,216.67 218.21,215.06 219.01,213.50 219.81,212.01 220.61,210.58 221.41,209.20 222.21,207.88 223.01,206.61 223.81,205.39 224.61,204.22 225.41,203.09 226.21,202.01 227.01,200.97 227.81,199.97 228.61,199.01 229.41,198.08 230.21,197.20 231.02,196.34 231.82,195.53 232.62,194.74 233.42,193.98 234.22,193.26 235.02,192.56 235.82,191.89 236.62,191.25 237.42,190.63 238.22,190.03 239.02,189.46 239.82,188.91 240.62,188.39 241.42,187.88 242.22,187.39 243.02,186.93 243.82,186.48 244.62,186.05 245.42,185.63 246.22,185.23 247.03,184.85 247.83,184.48 248.63,184.13 249.43,183.79 250.23,183.46 251.03,183.15 251.83,182.85 252.63,182.56 253.43,182.28 254.23,182.02 255.03,182.20 255.83,182.30 256.63,182.41 257.43,182.51 258.23,182.61 259.03,182.72 259.83,182.82 260.63,182.92 261.43,183.02 262.24,183.13 263.04,183.23 263.84,183.33 264.64,183.43 265.44,183.53 266.24,183.63 267.04,183.74 267.84,183.84 268.64,183.94 269.44,184.04 270.24,184.14 271.04,184.24 271.84,184.34 272.64,184.44 273.44,184.54 274.24,184.64 275.04,184.74 275.84,184.84 276.64,184.94 277.44,185.04 278.25,185.14 279.05,185.24 279.85,185.34 280.65,185.43 281.45,185.53 282.25,185.63 283.05,185.73 283.85,185.83 284.65,185.92 285.45,186.02 286.25,186.12 287.05,186.22 287.85,186.31 288.65,186.41 289.45,186.51 290.25,186.61 291.05,186.70 291.85,186.80 292.65,186.89 293.45,186.99 294.25,187.09 295.06,187.18 295.86,187.28 296.66,187.37 297.46,187.47 298.26,187.56 299.06,187.66 299.86,187.75 300.66,187.85 301.46,187.94 302.26,188.04 303.06,188.13 303.86,188.23 304.66,188.32 305.46,188.41 306.26,188.51 307.06,188.60 307.86,188.70 308.66,188.79 309.46,188.88 310.26,188.98 311.07,189.07 311.87,189.16 312.67,189.25 313.47,189.35 314.27,189.44 315.07,189.53 315.87,189.62 316.67,189.71 317.47,189.81 318.27,189.90 319.07,189.99 319.87,190.08 320.67,190.17 321.47,190.26 322.27,190.35 323.07,190.44 323.87,190.53 324.67,190.62 325.47,190.71 326.27,190.80 327.08,190.89 327.88,190.98 328.68,191.07 329.48,191.16 330.28,191.25 331.08,191.34 331.88,191.43 332.68,191.52 333.48,191.61 334.28,191.70 335.08,191.79 335.88,191.87 336.68,191.96 337.48,192.05 338.28,192.14 339.08,192.23 339.88,192.31 340.68,192.40 341.48,192.49 342.28,192.58 343.09,192.66 343.89,192.75 344.69,192.84 345.49,192.92 346.29,193.01 347.09,193.10 347.89,193.18 348.69,193.27 349.49,193.36 350.29,193.44" fill="none" stroke="#FF4D4D" stroke-width="1.2" stroke-linejoin="round" stroke-opacity="1"/>
<polyline points="206.20,247.60 207.00,246.94 207.80,246.28 208.60,245.61 209.40,244.95 210.20,244.29 211.00,243.63 211.80,242.96 212.60,242.30 213.40,241.64 214.20,240.98 215.01,240.31 215.81,239.65 216.61,238.99 217.41,238.33 218.21,237.66 219.01,237.00 219.81,236.34 220.61,235.68 221.41,235.01 222.21,234.35 223.01,233.69 223.81,233.03 224.61,232.36 225.41,231.70 226.21,231.04 227.01,230.38 227.81,229.72 228.61,229.05 229.41,228.39 230.21,227.73 231.02,227.07 231.82,226.40 232.62,225.74 233.42,225.08 234.22,224.42 235.02,223.75 235.82,223.09 236.62,222.43 237.42,221.77 238.22,221.10 239.02,220.44 239.82,219.78 240.62,219.12 241.42,218.45 242.22,217.79 243.02,217.13 243.82,216.47 244.62,215.80 245.42,215.14 246.22,214.48 247.03,213.82 247.83,213.16 248.63,212.49 249.43,211.83 250.23,211.17 251.03,210.51 251.83,209.84 252.63,209.18 253.43,208.52 254.23,207.86 255.03,207.92 255.83,207.99 256.63,208.05 257.43,208.12 258.23,208.18 259.03,208.25 259.83,208.31 260.63,208.38 261.43,208.44 262.24,208.51 263.04,208.57 263.84,208.64 264.64,208.70 265.44,208.76 266.24,208.83 267.04,208.89 267.84,208.96 268.64,209.02 269.44,209.08 270.24,209.15 271.04,209.21 271.84,209.27 272.64,209.34 273.44,209.40 274.24,209.46 275.04,209.52 275.84,209.59 276.64,209.65 277.44,209.71 278.25,209.78 279.05,209.84 279.85,209.90 280.65,209.96 281.45,210.02 282.25,210.09 283.05,210.15 283.85,210.21 284.65,210.27 285.45,210.33 286.25,210.39 287.05,210.46 287.85,210.52 288.65,210.58 289.45,210.64 290.25,210.70 291.05,210.76 291.85,210.82 292.65,210.88 293.45,210.94 294.25,211.00 295.06,211.06 295.86,211.12 296.66,211.18 297.46,211.24 298.26,211.30 299.06,211.36 299.86,211.42 300.66,211.48 301.46,211.54 302.26,211.60 303.06,211.66 303.86,211.72 304.66,211.78 305.46,211.84 306.26,211.90 307.06,211.96 307.86,212.02 308.66,212.07 309.46,212.13 310.26,212.19 311.07,212.25 311.87,212.31 312.67,212.37 313.47,212.42 314.27,212.48 315.07,212.54 315.87,212.60 316.67,212.66 317.47,212.71 318.27,212.77 319.07,212.83 319.87,212.89 320.67,212.94 321.47,213.00 322.27,213.06 323.07,213.11 323.87,213.17 324.67,213.23 325.47,213.28 326.27,213.34 327.08,213.40 327.88,213.45 328.68,213.51 329.48,213.57 330.28,213.62 331.08,213.68 331.88,213.73 332.68,213.79 333.48,213.85 334.28,213.90 335.08,213.96 335.88,214.01 336.68,214.07 337.48,214.12 338.28,214.18 339.08,214.23 339.88,214.29 340.68,214.34 341.48,214.40 342.28,214.45 343.09,214.51 343.89,214.56 344.69,214.62 345.49,214.67 346.29,214.73 347.09,214.78 347.89,214.83 348.69,214.89 349.49,214.94 350.29,215.00" fill="none" stroke="#FF4D4D" stroke-width="1.2" stroke-linejoin="round" stroke-opacity="1"/>
<polyline points="206.20,247.60 207.00,247.19 207.80,246.79 208.60,246.39 209.40,246.00 210.20,245.61 211.00,245.23 211.80,244.85 212.60,244.48 213.40,244.11 214.20,243.75 215.01,243.40 215.81,243.05 216.61,242.70 217.41,242.36 218.21,242.02 219.01,241.69 219.81,241.36 220.61,241.04 221.41,240.72 222.21,240.41 223.01,240.10 223.81,239.80 224.61,239.50 225.41,239.20 226.21,238.91 227.01,238.62 227.81,238.33 228.61,238.05 229.41,237.78 230.21,237.50 231.02,237.23 231.82,236.97 232.62,236.71 233.42,236.45 234.22,236.20 235.02,235.94 235.82,235.70 236.62,235.45 237.42,235.21 238.22,234.98 239.02,234.74 239.82,234.51 240.62,234.28 241.42,234.06 242.22,233.84 243.02,233.62 243.82,233.41 244.62,233.19 245.42,232.99 246.22,232.78 247.03,232.58 247.83,232.38 248.63,232.18 249.43,231.98 250.23,231.79 251.03,231.60 251.83,231.41 252.63,231.23 253.43,231.05 254.23,230.87 255.03,230.92 255.83,230.94 256.63,230.97 257.43,231.00 258.23,231.02 259.03,231.05 259.83,231.07 260.63,231.10 261.43,231.12 262.24,231.15 263.04,231.18 263.84,231.20 264.64,231.23 265.44,231.25 266.24,231.28 267.04,231.30 267.84,231.33 268.64,231.35 269.44,231.38 270.24,231.40 271.04,231.43 271.84,231.45 272.64,231.48 273.44,231.50 274.24,231.53 275.04,231.55 275.84,231.58 276.64,231.60 277.44,231.63 278.25,231.65 279.05,231.68 279.85,231.70 280.65,231.73 281.45,231.75 282.25,231.78 283.05,231.80 283.85,231.82 284.65,231.85 285.45,231.87 286.25,231.90 287.05,231.92 287.85,231.95 288.65,231.97 289.45,231.99 290.25,232.02 291.05,232.04 291.85,232.07 292.65,232.09 293.45,232.11 294.25,232.14 295.06,232.16 295.86,232.19 296.66,232.21 297.46,232.23 298.26,232.26 299.06,232.28 299.86,232.31 300.66,232.33 301.46,232.35 302.26,232.38 303.06,232.40 303.86,232.42 304.66,232.45 305.46,232.47 306.26,232.49 307.06,232.52 307.86,232.54 308.66,232.56 309.46,232.59 310.26,232.61 311.07,232.63 311.87,232.66 312.67,232.68 313.47,232.70 314.27,232.73 315.07,232.75 315.87,232.77 316.67,232.80 317.47,232.82 318.27,232.84 319.07,232.86 319.87,232.89 320.67,232.91 321.47,232.93 322.27,232.96 323.07,232.98 323.87,233.00 324.67,233.02 325.47,233.05 326.27,233.07 327.08,233.09 327.88,233.11 328.68,233.14 329.48,233.16 330.28,233.18 331.08,233.20 331.88,233.23 332.68,233.25 333.48,233.27 334.28,233.29 335.08,233.31 335.88,233.34 336.68,233.36 337.48,233.38 338.28,233.40 339.08,233.42 339.88,233.45 340.68,233.47 341.48,233.49 342.28,233.51 343.09,233.53 343.89,233.56 344.69,233.58 345.49,233.60 346.29,233.62 347.09,233.64 347.89,233.66 348.69,233.69 349.49,233.71 350.29,233.73" fill="none" stroke="#FF4D4D" stroke-width="1.2" stroke-linejoin="round" stroke-opacity="1"/>
<polyline points="206.20,247.60 207.00,247.41 207.80,247.22 208.60,247.04 209.40,246.86 210.20,246.69 211.00,246.52 211.80,246.36 212.60,246.20 213.40,246.04 214.20,245.89 215.01,245.74 215.81,245.60 216.61,245.46 217.41,245.32 218.21,245.18 219.01,245.05 219.81,244.92 220.61,244.80 221.41,244.68 222.21,244.56 223.01,244.44 223.81,244.33 224.61,244.22 225.41,244.11 226.21,244.01 227.01,243.91 227.81,243.81 228.61,243.71 229.41,243.61 230.21,243.52 231.02,243.43 231.82,243.34 232.62,243.26 233.42,243.18 234.22,243.09 235.02,243.01 235.82,242.94 236.62,242.86 237.42,242.79 238.22,242.71 239.02,242.64 239.82,242.58 240.62,242.51 241.42,242.44 242.22,242.38 243.02,242.32 243.82,242.26 244.62,242.20 245.42,242.14 246.22,242.09 247.03,242.03 247.83,241.98 248.63,241.93 249.43,241.88 250.23,241.83 251.03,241.78 251.83,241.73 252.63,241.68 253.43,241.64 254.23,241.60 255.03,241.57 255.83,241.58 256.63,241.59 257.43,241.59 258.23,241.60 259.03,241.61 259.83,241.62 260.63,241.62 261.43,241.63 262.24,241.64 263.04,241.65 263.84,241.65 264.64,241.66 265.44,241.67 266.24,241.68 267.04,241.68 267.84,241.69 268.64,241.70 269.44,241.71 270.24,241.71 271.04,241.72 271.84,241.73 272.64,241.74 273.44,241.74 274.24,241.75 275.04,241.76 275.84,241.77 276.64,241.77 277.44,241.78 278.25,241.79 279.05,241.79 279.85,241.80 280.65,241.81 281.45,241.82 282.25,241.82 283.05,241.83 283.85,241.84 284.65,241.84 285.45,241.85 286.25,241.86 287.05,241.87 287.85,241.87 288.65,241.88 289.45,241.89 290.25,241.89 291.05,241.90 291.85,241.91 292.65,241.92 293.45,241.92 294.25,241.93 295.06,241.94 295.86,241.94 296.66,241.95 297.46,241.96 298.26,241.97 299.06,241.97 299.86,241.98 300.66,241.99 301.46,241.99 302.26,242.00 303.06,242.01 303.86,242.01 304.66,242.02 305.46,242.03 306.26,242.04 307.06,242.04 307.86,242.05 308.66,242.06 309.46,242.06 310.26,242.07 311.07,242.08 311.87,242.08 312.67,242.09 313.47,242.10 314.27,242.10 315.07,242.11 315.87,242.12 316.67,242.13 317.47,242.13 318.27,242.14 319.07,242.15 319.87,242.15 320.67,242.16 321.47,242.17 322.27,242.17 323.07,242.18 323.87,242.19 324.67,242.19 325.47,242.20 326.27,242.21 327.08,242.21 327.88,242.22 328.68,242.23 329.48,242.23 330.28,242.24 331.08,242.25 331.88,242.25 332.68,242.26 333.48,242.27 334.28,242.27 335.08,242.28 335.88,242.29 336.68,242.29 337.48,242.30 338.28,242.31 339.08,242.31 339.88,242.32 340.68,242.33 341.48,242.33 342.28,242.34 343.09,242.35 343.89,242.35 344.69,242.36 345.49,242.37 346.29,242.37 347.09,242.38 347.89,242.39 348.69,242.39 349.49,242.40 350.29,242.41" fill="none" stroke="#FF4D4D" stroke-width="1.2" stroke-linejoin="round" stroke-opacity="1"/>
<line x1="386.80" y1="154.40" x2="386.80" y2="256.20" stroke="#cdcdcd" stroke-width="1.3" />
<line x1="382.10" y1="154.40" x2="382.10" y2="256.70" stroke="#333" stroke-width="1.0" />
<line x1="380.10" y1="255.42" x2="382.10" y2="255.42" stroke="#222" stroke-width="1.0" />
<line x1="379.30" y1="248.30" x2="382.10" y2="248.30" stroke="#222" stroke-width="1.0" />
<text x="374.0" y="250.9" font-size="7.4" text-anchor="middle" fill="#000" >0</text>
<line x1="380.10" y1="241.18" x2="382.10" y2="241.18" stroke="#222" stroke-width="1.0" />
<line x1="380.10" y1="234.06" x2="382.10" y2="234.06" stroke="#222" stroke-width="1.0" />
<line x1="380.10" y1="226.94" x2="382.10" y2="226.94" stroke="#222" stroke-width="1.0" />
<line x1="380.10" y1="219.82" x2="382.10" y2="219.82" stroke="#222" stroke-width="1.0" />
<line x1="379.30" y1="212.70" x2="382.10" y2="212.70" stroke="#222" stroke-width="1.0" />
<text x="374.0" y="215.3" font-size="7.4" text-anchor="middle" fill="#000" >0.05</text>
<line x1="380.10" y1="205.58" x2="382.10" y2="205.58" stroke="#222" stroke-width="1.0" />
<line x1="380.10" y1="198.46" x2="382.10" y2="198.46" stroke="#222" stroke-width="1.0" />
<line x1="380.10" y1="191.34" x2="382.10" y2="191.34" stroke="#222" stroke-width="1.0" />
<line x1="380.10" y1="184.22" x2="382.10" y2="184.22" stroke="#222" stroke-width="1.0" />
<line x1="379.30" y1="177.10" x2="382.10" y2="177.10" stroke="#222" stroke-width="1.0" />
<text x="374.0" y="179.70000000000002" font-size="7.4" text-anchor="middle" fill="#000" >0.1</text>
<line x1="380.10" y1="169.98" x2="382.10" y2="169.98" stroke="#222" stroke-width="1.0" />
<line x1="380.10" y1="162.86" x2="382.10" y2="162.86" stroke="#222" stroke-width="1.0" />
<line x1="380.10" y1="155.74" x2="382.10" y2="155.74" stroke="#222" stroke-width="1.0" />
<line x1="382.10" y1="256.20" x2="538.95" y2="256.20" stroke="#333" stroke-width="1.0" />
<line x1="386.80" y1="256.20" x2="386.80" y2="259.00" stroke="#222" stroke-width="1.0" />
<text x="386.8" y="266.9" font-size="7.2" text-anchor="middle" fill="#000" >0</text>
<line x1="390.17" y1="256.20" x2="390.17" y2="258.20" stroke="#222" stroke-width="1.0" />
<line x1="393.54" y1="256.20" x2="393.54" y2="258.20" stroke="#222" stroke-width="1.0" />
<line x1="396.91" y1="256.20" x2="396.91" y2="258.20" stroke="#222" stroke-width="1.0" />
<line x1="400.28" y1="256.20" x2="400.28" y2="258.20" stroke="#222" stroke-width="1.0" />
<line x1="403.65" y1="256.20" x2="403.65" y2="259.00" stroke="#222" stroke-width="1.0" />
<text x="403.65000000000003" y="266.9" font-size="7.2" text-anchor="middle" fill="#000" >100</text>
<line x1="407.02" y1="256.20" x2="407.02" y2="258.20" stroke="#222" stroke-width="1.0" />
<line x1="410.39" y1="256.20" x2="410.39" y2="258.20" stroke="#222" stroke-width="1.0" />
<line x1="413.76" y1="256.20" x2="413.76" y2="258.20" stroke="#222" stroke-width="1.0" />
<line x1="417.13" y1="256.20" x2="417.13" y2="258.20" stroke="#222" stroke-width="1.0" />
<line x1="420.50" y1="256.20" x2="420.50" y2="259.00" stroke="#222" stroke-width="1.0" />
<text x="420.5" y="266.9" font-size="7.2" text-anchor="middle" fill="#000" >200</text>
<line x1="423.87" y1="256.20" x2="423.87" y2="258.20" stroke="#222" stroke-width="1.0" />
<line x1="427.24" y1="256.20" x2="427.24" y2="258.20" stroke="#222" stroke-width="1.0" />
<line x1="430.61" y1="256.20" x2="430.61" y2="258.20" stroke="#222" stroke-width="1.0" />
<line x1="433.98" y1="256.20" x2="433.98" y2="258.20" stroke="#222" stroke-width="1.0" />
<line x1="437.35" y1="256.20" x2="437.35" y2="259.00" stroke="#222" stroke-width="1.0" />
<text x="437.35" y="266.9" font-size="7.2" text-anchor="middle" fill="#000" >300</text>
<line x1="440.72" y1="256.20" x2="440.72" y2="258.20" stroke="#222" stroke-width="1.0" />
<line x1="444.09" y1="256.20" x2="444.09" y2="258.20" stroke="#222" stroke-width="1.0" />
<line x1="447.46" y1="256.20" x2="447.46" y2="258.20" stroke="#222" stroke-width="1.0" />
<line x1="450.83" y1="256.20" x2="450.83" y2="258.20" stroke="#222" stroke-width="1.0" />
<line x1="454.20" y1="256.20" x2="454.20" y2="259.00" stroke="#222" stroke-width="1.0" />
<text x="454.20000000000005" y="266.9" font-size="7.2" text-anchor="middle" fill="#000" >400</text>
<line x1="457.57" y1="256.20" x2="457.57" y2="258.20" stroke="#222" stroke-width="1.0" />
<line x1="460.94" y1="256.20" x2="460.94" y2="258.20" stroke="#222" stroke-width="1.0" />
<line x1="464.31" y1="256.20" x2="464.31" y2="258.20" stroke="#222" stroke-width="1.0" />
<line x1="467.68" y1="256.20" x2="467.68" y2="258.20" stroke="#222" stroke-width="1.0" />
<line x1="471.05" y1="256.20" x2="471.05" y2="259.00" stroke="#222" stroke-width="1.0" />
<text x="471.05" y="266.9" font-size="7.2" text-anchor="middle" fill="#000" >500</text>
<line x1="474.42" y1="256.20" x2="474.42" y2="258.20" stroke="#222" stroke-width="1.0" />
<line x1="477.79" y1="256.20" x2="477.79" y2="258.20" stroke="#222" stroke-width="1.0" />
<line x1="481.16" y1="256.20" x2="481.16" y2="258.20" stroke="#222" stroke-width="1.0" />
<line x1="484.53" y1="256.20" x2="484.53" y2="258.20" stroke="#222" stroke-width="1.0" />
<line x1="487.90" y1="256.20" x2="487.90" y2="259.00" stroke="#222" stroke-width="1.0" />
<text x="487.90000000000003" y="266.9" font-size="7.2" text-anchor="middle" fill="#000" >600</text>
<line x1="491.27" y1="256.20" x2="491.27" y2="258.20" stroke="#222" stroke-width="1.0" />
<line x1="494.64" y1="256.20" x2="494.64" y2="258.20" stroke="#222" stroke-width="1.0" />
<line x1="498.01" y1="256.20" x2="498.01" y2="258.20" stroke="#222" stroke-width="1.0" />
<line x1="501.38" y1="256.20" x2="501.38" y2="258.20" stroke="#222" stroke-width="1.0" />
<line x1="504.75" y1="256.20" x2="504.75" y2="259.00" stroke="#222" stroke-width="1.0" />
<text x="504.75" y="266.9" font-size="7.2" text-anchor="middle" fill="#000" >700</text>
<line x1="508.12" y1="256.20" x2="508.12" y2="258.20" stroke="#222" stroke-width="1.0" />
<line x1="511.49" y1="256.20" x2="511.49" y2="258.20" stroke="#222" stroke-width="1.0" />
<line x1="514.86" y1="256.20" x2="514.86" y2="258.20" stroke="#222" stroke-width="1.0" />
<line x1="518.23" y1="256.20" x2="518.23" y2="258.20" stroke="#222" stroke-width="1.0" />
<line x1="521.60" y1="256.20" x2="521.60" y2="259.00" stroke="#222" stroke-width="1.0" />
<text x="521.6" y="266.9" font-size="7.2" text-anchor="middle" fill="#000" >800</text>
<line x1="524.97" y1="256.20" x2="524.97" y2="258.20" stroke="#222" stroke-width="1.0" />
<line x1="528.34" y1="256.20" x2="528.34" y2="258.20" stroke="#222" stroke-width="1.0" />
<line x1="531.71" y1="256.20" x2="531.71" y2="258.20" stroke="#222" stroke-width="1.0" />
<line x1="535.08" y1="256.20" x2="535.08" y2="258.20" stroke="#222" stroke-width="1.0" />
<line x1="538.45" y1="256.20" x2="538.45" y2="259.00" stroke="#222" stroke-width="1.0" />
<text x="538.45" y="266.9" font-size="7.2" text-anchor="middle" fill="#000" >900</text>
<text x="464.5" y="273.9" font-size="7.1" text-anchor="middle" fill="#000" >Time (s)</text>
<text x="454.1" y="161.6" font-size="7.3" text-anchor="middle" fill="#000" >a13</text>
<text x="479.5" y="172.3" font-size="7.3" text-anchor="start" fill="#000" >KD = 74.7 nM</text>
<polyline points="386.80,248.57 387.14,245.89 387.47,241.51 387.81,237.36 388.15,235.62 388.49,232.34 388.82,230.64 389.16,226.18 389.50,224.88 389.83,222.76 390.17,222.88 390.51,221.03 390.84,217.77 391.18,217.33 391.52,216.05 391.86,214.34 392.19,214.43 392.53,211.76 392.87,211.34 393.20,210.04 393.54,210.06 393.88,208.31 394.21,208.49 394.55,206.46 394.89,205.64 395.23,205.17 395.56,204.87 395.90,204.21 396.24,206.28 396.57,203.00 396.91,203.38 397.25,202.62 397.58,202.48 397.92,202.93 398.26,201.86 398.60,200.54 398.93,199.57 399.27,200.82 399.61,200.70 399.94,198.53 400.28,200.04 400.62,197.43 400.95,198.72 401.29,199.17 401.63,197.43 401.97,196.61 402.30,198.81 402.64,196.21 402.98,197.41 403.31,195.79 403.65,197.02 403.99,197.74 404.32,195.89 404.66,195.34 405.00,194.22 405.34,194.31 405.67,194.91 406.01,195.45 406.35,195.48 406.68,195.11 407.02,195.35 407.36,194.73 407.69,196.33 408.03,194.03 408.37,194.02 408.71,191.82 409.04,193.07 409.38,193.88 409.72,192.90 410.05,194.14 410.39,193.50 410.73,194.34 411.06,191.60 411.40,192.11 411.74,193.35 412.07,192.33 412.41,191.40 412.75,191.62 413.09,191.57 413.42,192.40 413.76,192.09 414.10,191.39 414.43,190.61 414.77,191.85 415.11,191.95 415.44,190.05 415.78,191.55 416.12,189.86 416.46,190.39 416.79,189.77 417.13,188.98 417.47,189.69 417.80,189.50 418.14,190.72 418.48,190.43 418.81,189.27 419.15,188.47 419.49,188.47 419.83,187.64 420.16,189.10 420.50,189.08 420.84,188.35 421.17,189.02 421.51,188.99 421.85,189.66 422.19,187.97 422.52,189.48 422.86,188.15 423.20,189.57 423.53,187.50 423.87,189.08 424.21,187.52 424.54,189.33 424.88,188.34 425.22,186.99 425.56,188.46 425.89,187.69 426.23,188.03 426.57,189.38 426.90,187.25 427.24,187.07 427.58,188.20 427.91,186.80 428.25,187.79 428.59,187.88 428.93,187.01 429.26,187.47 429.60,185.07 429.94,188.01 430.27,186.14 430.61,185.87 430.95,188.12 431.28,187.86 431.62,185.99 431.96,186.74 432.30,186.00 432.63,185.34 432.97,186.45 433.31,186.93 433.64,188.17 433.98,185.81 434.32,186.63 434.65,185.60 434.99,185.60 435.33,186.80 435.67,184.31 436.00,184.75 436.34,184.88 436.68,186.41 437.01,185.74 437.35,185.80 437.69,188.36 438.02,190.68 438.36,190.92 438.70,192.29 439.04,193.20 439.37,194.75 439.71,194.09 440.05,195.61 440.38,198.48 440.72,197.36 441.06,197.39 441.39,197.03 441.73,198.44 442.07,198.79 442.41,199.49 442.74,198.81 443.08,200.03 443.42,200.49 443.75,200.92 444.09,200.23 444.43,201.39 444.76,202.60 445.10,201.10 445.44,202.44 445.78,201.91 446.11,202.19 446.45,201.83 446.79,202.24 447.12,203.79 447.46,203.75 447.80,204.91 448.13,202.86 448.47,204.10 448.81,203.62 449.15,205.23 449.48,206.85 449.82,204.31 450.16,205.69 450.49,205.92 450.83,206.23 451.17,206.02 451.50,206.36 451.84,208.27 452.18,206.42 452.51,207.93 452.85,208.12 453.19,206.64 453.53,207.51 453.86,208.73 454.20,210.15 454.54,208.80 454.87,208.73 455.21,209.45 455.55,210.58 455.88,210.45 456.22,211.03 456.56,210.10 456.90,209.84 457.23,209.89 457.57,211.48 457.91,210.94 458.24,210.89 458.58,211.93 458.92,211.85 459.25,210.28 459.59,211.98 459.93,211.65 460.27,212.88 460.60,212.70 460.94,214.27 461.28,213.14 461.61,212.38 461.95,211.85 462.29,212.75 462.62,213.33 462.96,214.01 463.30,214.70 463.64,214.54 463.97,214.11 464.31,215.38 464.65,214.21 464.98,215.89 465.32,216.68 465.66,216.25 466.00,216.93 466.33,216.87 466.67,215.08 467.01,216.28 467.34,216.12 467.68,215.54 468.02,215.62 468.35,217.16 468.69,215.89 469.03,216.78 469.37,217.23 469.70,217.04 470.04,218.66 470.38,218.31 470.71,217.92 471.05,217.51 471.39,218.42 471.72,218.38 472.06,217.66 472.40,217.46 472.74,218.10 473.07,217.85 473.41,219.30 473.75,219.36 474.08,219.00 474.42,219.62 474.76,219.92 475.09,218.36 475.43,219.94 475.77,220.67 476.11,219.66 476.44,218.73 476.78,220.23 477.12,219.45 477.45,220.89 477.79,221.05 478.13,221.33 478.46,221.02 478.80,219.59 479.14,222.05 479.48,219.98 479.81,222.17 480.15,221.68 480.49,220.95 480.82,221.23 481.16,221.61 481.50,223.24 481.83,221.77 482.17,222.96 482.51,220.26 482.85,222.55 483.18,222.34 483.52,223.49 483.86,223.07 484.19,223.81 484.53,222.13 484.87,223.21 485.20,222.66 485.54,223.74 485.88,223.69 486.22,222.39 486.55,224.25 486.89,225.00 487.23,223.37 487.56,224.67 487.90,224.22 488.24,223.25 488.57,224.70 488.91,223.46 489.25,224.77 489.59,223.16 489.92,223.38 490.26,224.87 490.60,224.76 490.93,225.33 491.27,224.60 491.61,223.94 491.94,226.06 492.28,224.29 492.62,226.13 492.96,225.85 493.29,226.66 493.63,223.69 493.97,225.37 494.30,225.30 494.64,226.10 494.98,224.81 495.31,227.37 495.65,225.78 495.99,224.15 496.33,226.25 496.66,226.01 497.00,225.57 497.34,226.80 497.67,226.22 498.01,225.56 498.35,226.23 498.68,226.16 499.02,226.79 499.36,226.34 499.70,226.61 500.03,225.58 500.37,226.22 500.71,227.05 501.04,228.84 501.38,226.43 501.72,226.46 502.05,227.83 502.39,228.74 502.73,228.13 503.06,226.58 503.40,228.20 503.74,227.78 504.08,227.31 504.41,226.58 504.75,227.62 505.09,227.74 505.42,228.15 505.76,226.50 506.10,227.00 506.44,227.96 506.77,229.04 507.11,228.62 507.45,227.60 507.78,228.68 508.12,227.47 508.46,227.94 508.79,228.04 509.13,227.81 509.47,227.99 509.81,229.10 510.14,228.73 510.48,226.70 510.82,229.53 511.15,229.00 511.49,227.84 511.83,228.85 512.16,229.41 512.50,229.86 512.84,228.45 513.18,228.12 513.51,227.87 513.85,228.97 514.19,228.24 514.52,229.91 514.86,229.02 515.20,229.72 515.53,229.10 515.87,228.69 516.21,228.49 516.55,230.14 516.88,228.42 517.22,229.82 517.56,230.30 517.89,229.67 518.23,230.72 518.57,229.61 518.90,229.43 519.24,229.85 519.58,229.32 519.91,230.02 520.25,229.81 520.59,230.98 520.93,229.86 521.26,230.60 521.60,230.32 521.94,230.08 522.27,229.89 522.61,231.37 522.95,231.34 523.29,230.39 523.62,229.81 523.96,229.94 524.30,229.56 524.63,229.27 524.97,229.94 525.31,230.37 525.64,231.20 525.98,231.17 526.32,230.82 526.65,230.28 526.99,230.35 527.33,230.55 527.67,230.71 528.00,230.12 528.34,230.49 528.68,230.45 529.01,230.47 529.35,231.17 529.69,231.58 530.03,230.42 530.36,230.50 530.70,231.03 531.04,231.22 531.37,229.13 531.71,231.54 532.05,231.15 532.38,230.80 532.72,231.93 533.06,230.97 533.39,229.68 533.73,230.38 534.07,230.64 534.41,230.70 534.74,231.10 535.08,230.47 535.42,231.37 535.75,231.60 536.09,231.21 536.43,230.61 536.76,231.09 537.10,230.84 537.44,232.98 537.78,230.48 538.11,229.61 538.45,230.42" fill="none" stroke="#1E8C1E" stroke-width="1.05" stroke-linejoin="round" stroke-opacity="1"/>
<polyline points="386.80,248.55 387.14,247.26 387.47,244.76 387.81,244.21 388.15,241.41 388.49,241.00 388.82,238.51 389.16,236.94 389.50,238.41 389.83,235.45 390.17,235.14 390.51,234.67 390.84,233.06 391.18,231.81 391.52,229.93 391.86,231.08 392.19,228.25 392.53,226.71 392.87,227.08 393.20,226.40 393.54,226.16 393.88,226.41 394.21,224.45 394.55,223.96 394.89,223.11 395.23,221.12 395.56,222.03 395.90,221.75 396.24,220.37 396.57,222.17 396.91,221.56 397.25,220.52 397.58,220.31 397.92,218.84 398.26,219.24 398.60,217.24 398.93,217.05 399.27,217.27 399.61,217.83 399.94,216.71 400.28,216.23 400.62,217.38 400.95,215.97 401.29,215.39 401.63,215.48 401.97,214.14 402.30,214.14 402.64,215.47 402.98,214.46 403.31,214.96 403.65,213.60 403.99,214.49 404.32,212.85 404.66,213.04 405.00,212.36 405.34,213.01 405.67,213.82 406.01,211.08 406.35,212.39 406.68,210.97 407.02,211.51 407.36,211.12 407.69,210.02 408.03,211.00 408.37,209.98 408.71,212.06 409.04,210.03 409.38,210.72 409.72,210.46 410.05,210.18 410.39,209.74 410.73,208.55 411.06,211.13 411.40,209.49 411.74,209.92 412.07,208.29 412.41,209.38 412.75,208.53 413.09,209.05 413.42,208.06 413.76,207.64 414.10,208.60 414.43,208.11 414.77,209.12 415.11,207.62 415.44,207.05 415.78,208.02 416.12,206.57 416.46,208.94 416.79,208.63 417.13,208.14 417.47,207.30 417.80,206.77 418.14,206.72 418.48,206.59 418.81,205.84 419.15,206.65 419.49,207.15 419.83,207.01 420.16,204.26 420.50,207.64 420.84,205.82 421.17,204.42 421.51,205.07 421.85,205.98 422.19,205.22 422.52,204.43 422.86,204.05 423.20,205.59 423.53,204.18 423.87,204.47 424.21,203.69 424.54,203.36 424.88,204.61 425.22,205.37 425.56,203.82 425.89,202.64 426.23,203.39 426.57,203.65 426.90,201.85 427.24,204.44 427.58,202.82 427.91,203.88 428.25,203.29 428.59,203.17 428.93,201.95 429.26,203.78 429.60,203.37 429.94,204.11 430.27,202.38 430.61,203.03 430.95,202.25 431.28,203.33 431.62,202.69 431.96,201.50 432.30,202.36 432.63,201.65 432.97,201.64 433.31,202.25 433.64,203.11 433.98,201.03 434.32,201.58 434.65,200.86 434.99,203.13 435.33,202.77 435.67,203.07 436.00,201.99 436.34,200.41 436.68,200.71 437.01,201.10 437.35,200.89 437.69,201.50 438.02,203.33 438.36,203.62 438.70,204.53 439.04,206.96 439.37,206.08 439.71,205.18 440.05,206.97 440.38,207.16 440.72,207.87 441.06,208.10 441.39,207.15 441.73,208.54 442.07,209.41 442.41,211.32 442.74,209.60 443.08,210.95 443.42,211.09 443.75,209.29 444.09,209.60 444.43,211.90 444.76,209.97 445.10,210.51 445.44,211.72 445.78,210.76 446.11,212.84 446.45,212.74 446.79,213.15 447.12,213.12 447.46,211.79 447.80,213.74 448.13,213.82 448.47,213.88 448.81,213.20 449.15,213.83 449.48,213.11 449.82,214.55 450.16,215.22 450.49,214.81 450.83,214.60 451.17,215.57 451.50,214.83 451.84,213.83 452.18,215.92 452.51,215.63 452.85,214.81 453.19,216.57 453.53,216.93 453.86,217.32 454.20,216.35 454.54,216.46 454.87,217.17 455.21,217.22 455.55,216.44 455.88,216.95 456.22,218.92 456.56,218.02 456.90,218.12 457.23,217.82 457.57,218.75 457.91,219.26 458.24,219.30 458.58,220.52 458.92,219.33 459.25,219.95 459.59,219.30 459.93,220.65 460.27,220.36 460.60,220.96 460.94,221.20 461.28,219.99 461.61,221.08 461.95,220.54 462.29,221.93 462.62,221.15 462.96,222.72 463.30,221.94 463.64,222.12 463.97,221.44 464.31,221.91 464.65,222.36 464.98,221.72 465.32,222.39 465.66,222.28 466.00,222.26 466.33,223.07 466.67,223.40 467.01,223.07 467.34,223.81 467.68,223.34 468.02,222.92 468.35,223.28 468.69,224.39 469.03,225.25 469.37,224.44 469.70,224.64 470.04,223.82 470.38,225.13 470.71,225.14 471.05,224.55 471.39,225.64 471.72,225.54 472.06,224.21 472.40,224.53 472.74,225.34 473.07,225.76 473.41,226.87 473.75,225.81 474.08,226.34 474.42,226.35 474.76,227.06 475.09,226.80 475.43,227.07 475.77,226.81 476.11,226.07 476.44,227.04 476.78,228.74 477.12,228.34 477.45,228.94 477.79,228.45 478.13,227.52 478.46,227.77 478.80,228.68 479.14,228.13 479.48,229.05 479.81,229.69 480.15,229.80 480.49,229.50 480.82,227.84 481.16,230.11 481.50,228.21 481.83,228.27 482.17,229.56 482.51,229.58 482.85,230.13 483.18,229.79 483.52,229.37 483.86,229.99 484.19,229.33 484.53,229.30 484.87,230.07 485.20,230.19 485.54,230.61 485.88,230.40 486.22,231.65 486.55,230.57 486.89,230.84 487.23,231.78 487.56,229.53 487.90,232.08 488.24,232.10 488.57,231.31 488.91,233.14 489.25,232.35 489.59,233.03 489.92,232.69 490.26,232.14 490.60,231.89 490.93,231.38 491.27,231.71 491.61,231.51 491.94,232.08 492.28,233.00 492.62,231.86 492.96,233.21 493.29,233.41 493.63,231.83 493.97,232.50 494.30,233.04 494.64,232.72 494.98,232.71 495.31,234.56 495.65,233.65 495.99,234.59 496.33,233.67 496.66,234.38 497.00,232.88 497.34,233.63 497.67,234.76 498.01,234.22 498.35,235.24 498.68,234.35 499.02,234.04 499.36,234.35 499.70,236.15 500.03,234.99 500.37,234.41 500.71,234.65 501.04,234.07 501.38,236.07 501.72,234.73 502.05,235.73 502.39,235.15 502.73,235.07 503.06,234.93 503.40,236.00 503.74,235.48 504.08,236.62 504.41,236.89 504.75,235.42 505.09,235.98 505.42,237.28 505.76,236.75 506.10,236.15 506.44,235.02 506.77,235.50 507.11,235.76 507.45,237.86 507.78,236.61 508.12,236.24 508.46,236.37 508.79,236.43 509.13,237.01 509.47,235.52 509.81,235.81 510.14,237.11 510.48,237.88 510.82,235.57 511.15,237.68 511.49,236.38 511.83,235.89 512.16,238.19 512.50,237.29 512.84,237.86 513.18,237.25 513.51,237.47 513.85,236.26 514.19,237.39 514.52,237.92 514.86,237.10 515.20,238.26 515.53,238.39 515.87,236.42 516.21,238.88 516.55,238.68 516.88,238.32 517.22,239.25 517.56,240.13 517.89,237.72 518.23,239.22 518.57,239.09 518.90,239.01 519.24,239.55 519.58,239.68 519.91,238.77 520.25,237.08 520.59,238.44 520.93,238.49 521.26,240.31 521.60,239.21 521.94,240.17 522.27,238.70 522.61,239.54 522.95,239.38 523.29,239.54 523.62,239.98 523.96,240.77 524.30,239.18 524.63,240.77 524.97,240.66 525.31,240.03 525.64,240.40 525.98,239.69 526.32,239.16 526.65,239.81 526.99,239.90 527.33,240.09 527.67,239.48 528.00,241.65 528.34,239.97 528.68,241.04 529.01,241.32 529.35,240.40 529.69,240.76 530.03,240.05 530.36,239.69 530.70,242.42 531.04,240.70 531.37,239.16 531.71,240.06 532.05,239.66 532.38,240.76 532.72,242.01 533.06,241.81 533.39,240.42 533.73,240.27 534.07,241.64 534.41,241.32 534.74,240.95 535.08,242.57 535.42,241.52 535.75,240.02 536.09,239.62 536.43,241.46 536.76,239.98 537.10,241.87 537.44,242.14 537.78,243.30 538.11,240.84 538.45,241.92" fill="none" stroke="#1E8C1E" stroke-width="1.05" stroke-linejoin="round" stroke-opacity="1"/>
<polyline points="386.80,246.51 387.14,247.36 387.47,246.76 387.81,247.62 388.15,244.35 388.49,245.14 388.82,244.33 389.16,245.30 389.50,242.22 389.83,241.56 390.17,242.21 390.51,241.08 390.84,240.27 391.18,239.27 391.52,239.39 391.86,237.59 392.19,238.60 392.53,238.38 392.87,237.77 393.20,238.90 393.54,237.06 393.88,235.17 394.21,235.30 394.55,235.70 394.89,234.34 395.23,235.77 395.56,233.99 395.90,232.94 396.24,232.41 396.57,233.17 396.91,231.46 397.25,230.33 397.58,231.76 397.92,230.49 398.26,231.94 398.60,231.91 398.93,229.56 399.27,229.67 399.61,229.23 399.94,229.52 400.28,228.99 400.62,227.82 400.95,226.81 401.29,228.04 401.63,228.88 401.97,226.31 402.30,226.57 402.64,226.24 402.98,226.37 403.31,224.44 403.65,225.96 403.99,225.37 404.32,226.99 404.66,225.76 405.00,225.62 405.34,224.88 405.67,224.37 406.01,225.01 406.35,222.86 406.68,224.85 407.02,224.17 407.36,223.43 407.69,224.41 408.03,222.80 408.37,222.57 408.71,223.11 409.04,221.21 409.38,222.48 409.72,222.15 410.05,222.96 410.39,223.36 410.73,222.39 411.06,221.99 411.40,221.95 411.74,220.84 412.07,223.17 412.41,222.05 412.75,222.46 413.09,219.84 413.42,221.20 413.76,221.04 414.10,221.37 414.43,219.68 414.77,220.59 415.11,219.97 415.44,221.63 415.78,219.00 416.12,219.50 416.46,219.27 416.79,218.63 417.13,219.65 417.47,219.53 417.80,218.73 418.14,218.87 418.48,219.30 418.81,218.98 419.15,219.32 419.49,218.28 419.83,218.02 420.16,218.66 420.50,217.11 420.84,219.71 421.17,218.61 421.51,217.00 421.85,218.60 422.19,219.45 422.52,217.03 422.86,217.62 423.20,218.92 423.53,217.31 423.87,218.65 424.21,218.84 424.54,217.84 424.88,218.04 425.22,218.46 425.56,217.83 425.89,218.27 426.23,217.38 426.57,217.39 426.90,216.73 427.24,217.62 427.58,218.25 427.91,218.19 428.25,217.30 428.59,215.85 428.93,216.35 429.26,217.47 429.60,216.18 429.94,217.79 430.27,216.04 430.61,217.09 430.95,216.14 431.28,216.22 431.62,216.88 431.96,216.37 432.30,217.43 432.63,216.61 432.97,215.67 433.31,213.26 433.64,215.89 433.98,216.34 434.32,217.17 434.65,215.51 434.99,217.61 435.33,216.91 435.67,215.97 436.00,217.17 436.34,214.98 436.68,215.30 437.01,216.58 437.35,216.54 437.69,217.26 438.02,217.86 438.36,216.86 438.70,217.11 439.04,217.66 439.37,218.02 439.71,218.94 440.05,218.46 440.38,220.12 440.72,219.17 441.06,218.21 441.39,218.52 441.73,220.10 442.07,220.17 442.41,219.00 442.74,218.84 443.08,221.58 443.42,220.90 443.75,220.54 444.09,219.92 444.43,221.69 444.76,220.67 445.10,221.56 445.44,219.61 445.78,221.28 446.11,221.87 446.45,222.18 446.79,221.23 447.12,221.67 447.46,223.19 447.80,222.31 448.13,223.68 448.47,223.36 448.81,223.92 449.15,224.08 449.48,223.72 449.82,224.09 450.16,223.04 450.49,222.96 450.83,223.91 451.17,224.73 451.50,223.35 451.84,225.71 452.18,225.77 452.51,223.81 452.85,223.99 453.19,223.87 453.53,224.94 453.86,225.89 454.20,225.42 454.54,224.70 454.87,225.88 455.21,225.95 455.55,226.62 455.88,226.56 456.22,225.11 456.56,225.53 456.90,226.93 457.23,226.98 457.57,226.70 457.91,225.94 458.24,227.41 458.58,226.74 458.92,228.41 459.25,227.83 459.59,226.63 459.93,226.37 460.27,228.10 460.60,227.91 460.94,226.79 461.28,227.84 461.61,228.07 461.95,227.35 462.29,227.71 462.62,227.10 462.96,227.46 463.30,228.65 463.64,228.40 463.97,228.46 464.31,229.58 464.65,229.39 464.98,227.96 465.32,230.08 465.66,228.16 466.00,228.82 466.33,229.26 466.67,228.83 467.01,228.98 467.34,228.50 467.68,229.87 468.02,229.84 468.35,229.95 468.69,228.38 469.03,229.21 469.37,230.78 469.70,230.41 470.04,230.80 470.38,230.34 470.71,230.27 471.05,228.74 471.39,232.07 471.72,229.92 472.06,230.48 472.40,231.47 472.74,231.13 473.07,231.49 473.41,231.15 473.75,230.49 474.08,232.57 474.42,230.44 474.76,231.85 475.09,230.47 475.43,231.41 475.77,230.86 476.11,231.47 476.44,231.15 476.78,232.04 477.12,232.83 477.45,231.73 477.79,231.79 478.13,230.78 478.46,234.09 478.80,232.75 479.14,231.85 479.48,233.75 479.81,233.03 480.15,231.27 480.49,231.90 480.82,233.78 481.16,232.05 481.50,232.33 481.83,232.72 482.17,233.12 482.51,233.31 482.85,234.25 483.18,234.06 483.52,233.15 483.86,233.69 484.19,232.43 484.53,234.22 484.87,235.92 485.20,234.37 485.54,233.97 485.88,233.96 486.22,234.28 486.55,235.05 486.89,233.31 487.23,235.08 487.56,234.07 487.90,234.93 488.24,235.71 488.57,233.73 488.91,236.88 489.25,235.65 489.59,234.72 489.92,235.40 490.26,234.61 490.60,235.34 490.93,235.69 491.27,233.71 491.61,235.64 491.94,235.66 492.28,236.45 492.62,236.26 492.96,235.23 493.29,235.36 493.63,235.87 493.97,236.48 494.30,235.46 494.64,237.40 494.98,236.39 495.31,236.39 495.65,236.92 495.99,236.20 496.33,236.90 496.66,237.07 497.00,235.09 497.34,235.98 497.67,235.69 498.01,236.65 498.35,235.99 498.68,236.20 499.02,235.92 499.36,235.07 499.70,237.16 500.03,236.84 500.37,237.14 500.71,239.91 501.04,238.31 501.38,237.26 501.72,236.84 502.05,237.84 502.39,236.56 502.73,236.50 503.06,237.88 503.40,236.50 503.74,236.30 504.08,237.36 504.41,238.55 504.75,236.68 505.09,238.02 505.42,238.24 505.76,237.90 506.10,238.47 506.44,237.26 506.77,237.55 507.11,237.25 507.45,237.80 507.78,238.93 508.12,238.49 508.46,237.73 508.79,238.78 509.13,236.23 509.47,238.76 509.81,239.08 510.14,237.77 510.48,238.13 510.82,238.79 511.15,239.00 511.49,238.53 511.83,238.26 512.16,238.36 512.50,239.25 512.84,238.72 513.18,238.44 513.51,238.55 513.85,241.62 514.19,239.94 514.52,239.90 514.86,239.52 515.20,239.25 515.53,238.71 515.87,238.99 516.21,239.62 516.55,239.55 516.88,238.23 517.22,240.14 517.56,239.46 517.89,238.52 518.23,239.52 518.57,241.43 518.90,239.58 519.24,240.22 519.58,240.05 519.91,239.18 520.25,239.68 520.59,240.30 520.93,239.43 521.26,239.83 521.60,240.13 521.94,240.02 522.27,240.10 522.61,240.60 522.95,240.74 523.29,240.40 523.62,241.20 523.96,241.48 524.30,239.52 524.63,240.76 524.97,240.63 525.31,240.76 525.64,240.67 525.98,240.71 526.32,240.72 526.65,241.44 526.99,240.12 527.33,241.43 527.67,240.11 528.00,242.46 528.34,241.83 528.68,240.25 529.01,241.18 529.35,241.63 529.69,240.85 530.03,242.00 530.36,241.15 530.70,242.98 531.04,241.64 531.37,241.83 531.71,240.93 532.05,240.70 532.38,242.09 532.72,240.20 533.06,241.96 533.39,243.14 533.73,243.42 534.07,240.39 534.41,241.70 534.74,242.17 535.08,242.28 535.42,242.58 535.75,240.70 536.09,241.86 536.43,240.42 536.76,242.01 537.10,243.73 537.44,241.26 537.78,242.24 538.11,242.17 538.45,240.79" fill="none" stroke="#1E8C1E" stroke-width="1.05" stroke-linejoin="round" stroke-opacity="1"/>
<polyline points="386.80,248.51 387.14,246.58 387.47,246.76 387.81,246.70 388.15,245.14 388.49,245.48 388.82,243.58 389.16,243.37 389.50,243.69 389.83,242.91 390.17,242.63 390.51,243.00 390.84,241.81 391.18,242.45 391.52,241.56 391.86,242.57 392.19,241.55 392.53,241.11 392.87,241.88 393.20,241.42 393.54,241.35 393.88,240.21 394.21,241.20 394.55,240.15 394.89,239.16 395.23,239.94 395.56,241.36 395.90,239.87 396.24,239.03 396.57,239.95 396.91,238.74 397.25,239.01 397.58,239.04 397.92,239.47 398.26,239.55 398.60,239.24 398.93,238.88 399.27,238.41 399.61,238.38 399.94,238.84 400.28,238.44 400.62,238.08 400.95,239.55 401.29,238.78 401.63,238.69 401.97,238.12 402.30,238.07 402.64,237.95 402.98,238.33 403.31,237.02 403.65,237.22 403.99,238.62 404.32,237.22 404.66,238.01 405.00,235.69 405.34,237.27 405.67,237.12 406.01,236.64 406.35,236.76 406.68,236.55 407.02,235.19 407.36,236.12 407.69,235.54 408.03,235.21 408.37,236.75 408.71,234.56 409.04,235.24 409.38,234.92 409.72,236.25 410.05,234.83 410.39,235.04 410.73,235.68 411.06,233.37 411.40,234.61 411.74,235.14 412.07,234.69 412.41,234.03 412.75,233.75 413.09,234.08 413.42,233.48 413.76,233.18 414.10,235.19 414.43,234.50 414.77,234.76 415.11,233.84 415.44,232.68 415.78,233.20 416.12,234.43 416.46,233.73 416.79,232.59 417.13,233.71 417.47,233.27 417.80,232.85 418.14,234.41 418.48,232.27 418.81,232.51 419.15,232.23 419.49,233.34 419.83,233.07 420.16,232.84 420.50,232.07 420.84,232.11 421.17,231.96 421.51,230.55 421.85,230.83 422.19,232.31 422.52,232.16 422.86,230.20 423.20,231.69 423.53,230.26 423.87,229.98 424.21,231.55 424.54,231.24 424.88,230.86 425.22,231.50 425.56,231.48 425.89,230.93 426.23,229.84 426.57,230.76 426.90,230.46 427.24,230.56 427.58,231.17 427.91,228.83 428.25,231.72 428.59,230.30 428.93,229.25 429.26,230.67 429.60,229.00 429.94,228.39 430.27,229.94 430.61,229.00 430.95,229.93 431.28,228.56 431.62,228.79 431.96,228.59 432.30,227.58 432.63,228.18 432.97,227.39 433.31,227.84 433.64,229.18 433.98,227.93 434.32,227.65 434.65,229.06 434.99,226.78 435.33,227.67 435.67,227.33 436.00,228.22 436.34,227.36 436.68,227.07 437.01,227.46 437.35,227.04 437.69,229.61 438.02,227.15 438.36,229.31 438.70,230.33 439.04,229.54 439.37,229.59 439.71,228.63 440.05,229.89 440.38,229.06 440.72,230.14 441.06,227.75 441.39,229.14 441.73,228.12 442.07,230.53 442.41,229.30 442.74,230.65 443.08,229.52 443.42,229.52 443.75,231.38 444.09,231.09 444.43,231.19 444.76,231.53 445.10,231.00 445.44,231.25 445.78,231.70 446.11,230.56 446.45,230.28 446.79,231.81 447.12,231.29 447.46,230.92 447.80,231.17 448.13,231.61 448.47,230.50 448.81,230.54 449.15,230.74 449.48,231.50 449.82,229.85 450.16,230.11 450.49,231.85 450.83,231.70 451.17,230.74 451.50,232.37 451.84,231.49 452.18,231.84 452.51,232.49 452.85,232.18 453.19,233.30 453.53,232.56 453.86,233.76 454.20,230.48 454.54,231.15 454.87,231.43 455.21,232.22 455.55,231.73 455.88,231.58 456.22,231.85 456.56,231.99 456.90,233.48 457.23,232.49 457.57,233.31 457.91,233.88 458.24,233.91 458.58,232.74 458.92,232.31 459.25,234.27 459.59,231.89 459.93,232.17 460.27,233.68 460.60,233.80 460.94,233.56 461.28,232.79 461.61,233.92 461.95,234.54 462.29,233.47 462.62,235.41 462.96,233.74 463.30,233.00 463.64,233.73 463.97,233.41 464.31,233.69 464.65,233.57 464.98,234.08 465.32,234.90 465.66,234.48 466.00,234.42 466.33,233.43 466.67,233.20 467.01,234.20 467.34,235.17 467.68,235.21 468.02,234.84 468.35,233.66 468.69,234.54 469.03,234.90 469.37,235.51 469.70,234.27 470.04,234.79 470.38,235.11 470.71,235.04 471.05,233.85 471.39,235.35 471.72,233.96 472.06,234.36 472.40,235.34 472.74,234.74 473.07,235.58 473.41,236.19 473.75,235.80 474.08,236.35 474.42,235.29 474.76,235.73 475.09,235.35 475.43,235.19 475.77,238.33 476.11,235.70 476.44,237.40 476.78,235.91 477.12,236.77 477.45,236.05 477.79,235.11 478.13,237.57 478.46,236.13 478.80,236.39 479.14,237.86 479.48,235.92 479.81,236.44 480.15,236.92 480.49,237.13 480.82,234.10 481.16,236.97 481.50,238.12 481.83,237.48 482.17,237.09 482.51,237.15 482.85,236.95 483.18,237.76 483.52,236.56 483.86,237.40 484.19,238.14 484.53,237.75 484.87,237.46 485.20,236.54 485.54,236.87 485.88,237.56 486.22,237.32 486.55,237.21 486.89,235.83 487.23,237.95 487.56,237.15 487.90,236.99 488.24,238.34 488.57,237.49 488.91,237.55 489.25,238.09 489.59,237.32 489.92,237.00 490.26,236.97 490.60,238.04 490.93,237.79 491.27,236.13 491.61,238.88 491.94,237.88 492.28,237.40 492.62,238.02 492.96,237.67 493.29,238.09 493.63,237.67 493.97,237.30 494.30,238.51 494.64,238.23 494.98,238.46 495.31,238.78 495.65,238.51 495.99,239.42 496.33,237.99 496.66,237.28 497.00,237.32 497.34,237.69 497.67,239.49 498.01,237.58 498.35,239.37 498.68,238.89 499.02,237.44 499.36,239.76 499.70,238.30 500.03,238.78 500.37,239.15 500.71,239.76 501.04,238.78 501.38,239.51 501.72,238.36 502.05,238.26 502.39,240.33 502.73,239.68 503.06,239.57 503.40,240.29 503.74,240.27 504.08,239.36 504.41,239.63 504.75,240.80 505.09,239.96 505.42,239.17 505.76,240.55 506.10,240.37 506.44,238.43 506.77,238.68 507.11,241.01 507.45,240.84 507.78,239.52 508.12,240.78 508.46,240.08 508.79,240.27 509.13,239.51 509.47,241.96 509.81,241.74 510.14,241.01 510.48,239.29 510.82,240.23 511.15,241.48 511.49,239.79 511.83,239.66 512.16,240.44 512.50,240.53 512.84,239.96 513.18,239.39 513.51,240.25 513.85,239.99 514.19,240.47 514.52,240.76 514.86,241.21 515.20,240.33 515.53,240.79 515.87,240.78 516.21,239.89 516.55,240.27 516.88,240.00 517.22,241.95 517.56,240.31 517.89,241.23 518.23,241.44 518.57,241.50 518.90,239.91 519.24,240.24 519.58,241.48 519.91,241.84 520.25,240.97 520.59,241.37 520.93,239.74 521.26,242.21 521.60,242.53 521.94,241.33 522.27,241.15 522.61,241.08 522.95,240.62 523.29,239.62 523.62,241.54 523.96,241.72 524.30,242.70 524.63,241.16 524.97,240.71 525.31,241.61 525.64,240.51 525.98,241.44 526.32,240.30 526.65,241.26 526.99,242.37 527.33,242.07 527.67,242.80 528.00,242.98 528.34,241.44 528.68,241.00 529.01,240.17 529.35,241.77 529.69,241.94 530.03,242.65 530.36,241.04 530.70,241.53 531.04,242.33 531.37,241.35 531.71,241.47 532.05,243.40 532.38,241.38 532.72,241.88 533.06,242.32 533.39,242.36 533.73,240.69 534.07,240.88 534.41,240.68 534.74,243.04 535.08,242.67 535.42,241.48 535.75,243.16 536.09,242.80 536.43,243.67 536.76,240.83 537.10,241.48 537.44,241.97 537.78,242.18 538.11,242.71 538.45,242.71" fill="none" stroke="#1E8C1E" stroke-width="1.05" stroke-linejoin="round" stroke-opacity="1"/>
<polyline points="381.80,249.84 382.40,246.52 383.00,251.37 383.60,247.07 384.20,246.12 384.80,251.55 385.40,247.94 386.00,249.69 386.60,247.26" fill="none" stroke="#1E8C1E" stroke-width="1.2" stroke-linejoin="round" stroke-opacity="1"/>
<polyline points="386.80,248.30 387.64,235.22 388.49,225.43 389.33,218.10 390.17,212.62 391.01,208.52 391.86,205.45 392.70,203.15 393.54,201.43 394.38,200.15 395.23,199.18 396.07,198.46 396.91,197.93 397.75,197.52 398.60,197.22 399.44,196.99 400.28,196.83 401.12,196.70 401.97,196.61 402.81,196.53 403.65,196.48 404.49,196.44 405.34,196.41 406.18,196.39 407.02,196.37 407.86,196.36 408.71,196.35 409.55,196.34 410.39,196.34 411.23,196.34 412.07,196.33 412.92,196.33 413.76,196.33 414.60,196.33 415.44,196.33 416.29,196.33 417.13,196.33 417.97,196.33 418.81,196.32 419.66,196.32 420.50,196.32 421.34,196.32 422.19,196.32 423.03,196.32 423.87,196.32 424.71,196.32 425.56,196.32 426.40,196.32 427.24,196.32 428.08,196.32 428.93,196.32 429.77,196.32 430.61,196.32 431.45,196.32 432.30,196.32 433.14,196.32 433.98,196.32 434.82,196.32 435.67,196.32 436.51,196.32 437.35,196.32 438.19,197.16 439.04,197.99 439.88,198.80 440.72,199.60 441.56,200.38 442.41,201.15 443.25,201.91 444.09,202.65 444.93,203.38 445.78,204.10 446.62,204.80 447.46,205.49 448.30,206.18 449.15,206.84 449.99,207.50 450.83,208.15 451.67,208.78 452.51,209.41 453.36,210.02 454.20,210.62 455.04,211.21 455.88,211.80 456.73,212.37 457.57,212.93 458.41,213.48 459.25,214.02 460.10,214.56 460.94,215.08 461.78,215.59 462.62,216.10 463.47,216.60 464.31,217.08 465.15,217.56 466.00,218.04 466.84,218.50 467.68,218.95 468.52,219.40 469.37,219.84 470.21,220.27 471.05,220.70 471.89,221.11 472.74,221.52 473.58,221.93 474.42,222.32 475.26,222.71 476.11,223.09 476.95,223.47 477.79,223.84 478.63,224.20 479.48,224.56 480.32,224.91 481.16,225.25 482.00,225.59 482.85,225.92 483.69,226.25 484.53,226.57 485.37,226.88 486.22,227.19 487.06,227.50 487.90,227.80 488.74,228.09 489.59,228.38 490.43,228.66 491.27,228.94 492.11,229.22 492.96,229.49 493.80,229.75 494.64,230.01 495.48,230.27 496.33,230.52 497.17,230.76 498.01,231.01 498.85,231.24 499.70,231.48 500.54,231.71 501.38,231.94 502.22,232.16 503.06,232.38 503.91,232.59 504.75,232.80 505.59,233.01 506.44,233.21 507.28,233.41 508.12,233.61 508.96,233.80 509.81,233.99 510.65,234.18 511.49,234.36 512.33,234.54 513.18,234.72 514.02,234.89 514.86,235.06 515.70,235.23 516.55,235.40 517.39,235.56 518.23,235.72 519.07,235.87 519.91,236.03 520.76,236.18 521.60,236.33 522.44,236.47 523.29,236.62 524.13,236.76 524.97,236.90 525.81,237.03 526.65,237.17 527.50,237.30 528.34,237.43 529.18,237.55 530.03,237.68 530.87,237.80 531.71,237.92 532.55,238.04 533.39,238.15 534.24,238.27 535.08,238.38 535.92,238.49 536.76,238.60 537.61,238.71 538.45,238.81" fill="none" stroke="#FF4D4D" stroke-width="1.1" stroke-linejoin="round" stroke-opacity="1"/>
<polyline points="386.80,248.30 387.64,243.69 388.49,239.53 389.33,235.79 390.17,232.43 391.01,229.40 391.86,226.67 392.70,224.21 393.54,222.00 394.38,220.01 395.23,218.22 396.07,216.60 396.91,215.15 397.75,213.84 398.60,212.66 399.44,211.60 400.28,210.65 401.12,209.79 401.97,209.01 402.81,208.31 403.65,207.69 404.49,207.12 405.34,206.61 406.18,206.16 407.02,205.74 407.86,205.37 408.71,205.04 409.55,204.74 410.39,204.47 411.23,204.22 412.07,204.00 412.92,203.81 413.76,203.63 414.60,203.47 415.44,203.32 416.29,203.19 417.13,203.08 417.97,202.97 418.81,202.88 419.66,202.79 420.50,202.71 421.34,202.64 422.19,202.58 423.03,202.53 423.87,202.48 424.71,202.43 425.56,202.39 426.40,202.35 427.24,202.32 428.08,202.29 428.93,202.26 429.77,202.24 430.61,202.22 431.45,202.20 432.30,202.18 433.14,202.16 433.98,202.15 434.82,202.14 435.67,202.12 436.51,202.11 437.35,202.10 438.19,202.72 439.04,203.41 439.88,204.09 440.72,204.76 441.56,205.41 442.41,206.06 443.25,206.70 444.09,207.32 444.93,207.94 445.78,208.55 446.62,209.14 447.46,209.73 448.30,210.31 449.15,210.88 449.99,211.44 450.83,211.99 451.67,212.53 452.51,213.07 453.36,213.59 454.20,214.11 455.04,214.62 455.88,215.12 456.73,215.61 457.57,216.10 458.41,216.57 459.25,217.04 460.10,217.51 460.94,217.96 461.78,218.41 462.62,218.85 463.47,219.28 464.31,219.71 465.15,220.13 466.00,220.54 466.84,220.95 467.68,221.35 468.52,221.74 469.37,222.13 470.21,222.51 471.05,222.89 471.89,223.26 472.74,223.62 473.58,223.98 474.42,224.33 475.26,224.68 476.11,225.02 476.95,225.35 477.79,225.68 478.63,226.01 479.48,226.33 480.32,226.64 481.16,226.95 482.00,227.26 482.85,227.56 483.69,227.85 484.53,228.14 485.37,228.43 486.22,228.71 487.06,228.99 487.90,229.26 488.74,229.53 489.59,229.79 490.43,230.05 491.27,230.31 492.11,230.56 492.96,230.81 493.80,231.05 494.64,231.29 495.48,231.53 496.33,231.76 497.17,231.99 498.01,232.21 498.85,232.44 499.70,232.65 500.54,232.87 501.38,233.08 502.22,233.29 503.06,233.49 503.91,233.69 504.75,233.89 505.59,234.09 506.44,234.28 507.28,234.47 508.12,234.65 508.96,234.83 509.81,235.01 510.65,235.19 511.49,235.36 512.33,235.54 513.18,235.71 514.02,235.87 514.86,236.03 515.70,236.20 516.55,236.35 517.39,236.51 518.23,236.66 519.07,236.81 519.91,236.96 520.76,237.11 521.60,237.25 522.44,237.39 523.29,237.53 524.13,237.67 524.97,237.80 525.81,237.94 526.65,238.07 527.50,238.20 528.34,238.32 529.18,238.45 530.03,238.57 530.87,238.69 531.71,238.81 532.55,238.93 533.39,239.04 534.24,239.15 535.08,239.26 535.92,239.37 536.76,239.48 537.61,239.59 538.45,239.69" fill="none" stroke="#FF4D4D" stroke-width="1.1" stroke-linejoin="round" stroke-opacity="1"/>
<polyline points="386.80,248.30 387.64,246.51 388.49,244.81 389.33,243.21 390.17,241.69 391.01,240.25 391.86,238.89 392.70,237.61 393.54,236.39 394.38,235.23 395.23,234.14 396.07,233.11 396.91,232.13 397.75,231.21 398.60,230.33 399.44,229.50 400.28,228.72 401.12,227.97 401.97,227.27 402.81,226.61 403.65,225.98 404.49,225.38 405.34,224.81 406.18,224.28 407.02,223.78 407.86,223.30 408.71,222.84 409.55,222.42 410.39,222.01 411.23,221.63 412.07,221.26 412.92,220.92 413.76,220.59 414.60,220.29 415.44,219.99 416.29,219.72 417.13,219.46 417.97,219.21 418.81,218.98 419.66,218.75 420.50,218.54 421.34,218.35 422.19,218.16 423.03,217.98 423.87,217.81 424.71,217.65 425.56,217.50 426.40,217.36 427.24,217.22 428.08,217.10 428.93,216.98 429.77,216.86 430.61,216.75 431.45,216.65 432.30,216.55 433.14,216.46 433.98,216.37 434.82,216.29 435.67,216.21 436.51,216.14 437.35,216.07 438.19,216.71 439.04,217.14 439.88,217.58 440.72,218.00 441.56,218.43 442.41,218.84 443.25,219.25 444.09,219.65 444.93,220.05 445.78,220.45 446.62,220.83 447.46,221.21 448.30,221.59 449.15,221.96 449.99,222.33 450.83,222.69 451.67,223.05 452.51,223.40 453.36,223.74 454.20,224.08 455.04,224.42 455.88,224.75 456.73,225.08 457.57,225.40 458.41,225.72 459.25,226.04 460.10,226.35 460.94,226.65 461.78,226.95 462.62,227.25 463.47,227.54 464.31,227.83 465.15,228.11 466.00,228.39 466.84,228.67 467.68,228.94 468.52,229.21 469.37,229.48 470.21,229.74 471.05,230.00 471.89,230.25 472.74,230.50 473.58,230.75 474.42,231.00 475.26,231.24 476.11,231.47 476.95,231.71 477.79,231.94 478.63,232.17 479.48,232.39 480.32,232.61 481.16,232.83 482.00,233.04 482.85,233.26 483.69,233.47 484.53,233.67 485.37,233.87 486.22,234.08 487.06,234.27 487.90,234.47 488.74,234.66 489.59,234.85 490.43,235.04 491.27,235.22 492.11,235.40 492.96,235.58 493.80,235.76 494.64,235.93 495.48,236.11 496.33,236.28 497.17,236.44 498.01,236.61 498.85,236.77 499.70,236.93 500.54,237.09 501.38,237.24 502.22,237.40 503.06,237.55 503.91,237.70 504.75,237.85 505.59,237.99 506.44,238.13 507.28,238.28 508.12,238.42 508.96,238.55 509.81,238.69 510.65,238.82 511.49,238.95 512.33,239.08 513.18,239.21 514.02,239.34 514.86,239.46 515.70,239.59 516.55,239.71 517.39,239.83 518.23,239.94 519.07,240.06 519.91,240.17 520.76,240.29 521.60,240.40 522.44,240.51 523.29,240.62 524.13,240.72 524.97,240.83 525.81,240.93 526.65,241.04 527.50,241.14 528.34,241.24 529.18,241.33 530.03,241.43 530.87,241.53 531.71,241.62 532.55,241.71 533.39,241.81 534.24,241.90 535.08,241.98 535.92,242.07 536.76,242.16 537.61,242.24 538.45,242.33" fill="none" stroke="#FF4D4D" stroke-width="1.1" stroke-linejoin="round" stroke-opacity="1"/>
<polyline points="386.80,248.30 387.64,246.90 388.49,245.84 389.33,245.03 390.17,244.39 391.01,243.88 391.86,243.46 392.70,243.11 393.54,242.80 394.38,242.53 395.23,242.28 396.07,242.04 396.91,241.82 397.75,241.61 398.60,241.40 399.44,241.20 400.28,241.00 401.12,240.80 401.97,240.61 402.81,240.42 403.65,240.22 404.49,240.03 405.34,239.84 406.18,239.65 407.02,239.46 407.86,239.27 408.71,239.08 409.55,238.89 410.39,238.70 411.23,238.50 412.07,238.31 412.92,238.12 413.76,237.93 414.60,237.74 415.44,237.55 416.29,237.36 417.13,237.17 417.97,236.98 418.81,236.79 419.66,236.60 420.50,236.41 421.34,236.22 422.19,236.03 423.03,235.84 423.87,235.65 424.71,235.46 425.56,235.27 426.40,235.08 427.24,234.89 428.08,234.70 428.93,234.51 429.77,234.31 430.61,234.12 431.45,233.93 432.30,233.74 433.14,233.55 433.98,233.36 434.82,233.17 435.67,232.98 436.51,232.79 437.35,232.60 438.19,233.06 439.04,233.26 439.88,233.46 440.72,233.66 441.56,233.86 442.41,234.05 443.25,234.24 444.09,234.43 444.93,234.62 445.78,234.80 446.62,234.98 447.46,235.16 448.30,235.34 449.15,235.51 449.99,235.68 450.83,235.85 451.67,236.02 452.51,236.18 453.36,236.35 454.20,236.51 455.04,236.66 455.88,236.82 456.73,236.97 457.57,237.13 458.41,237.28 459.25,237.42 460.10,237.57 460.94,237.71 461.78,237.85 462.62,237.99 463.47,238.13 464.31,238.27 465.15,238.40 466.00,238.54 466.84,238.67 467.68,238.80 468.52,238.92 469.37,239.05 470.21,239.17 471.05,239.30 471.89,239.42 472.74,239.54 473.58,239.65 474.42,239.77 475.26,239.88 476.11,240.00 476.95,240.11 477.79,240.22 478.63,240.33 479.48,240.43 480.32,240.54 481.16,240.64 482.00,240.75 482.85,240.85 483.69,240.95 484.53,241.05 485.37,241.14 486.22,241.24 487.06,241.33 487.90,241.43 488.74,241.52 489.59,241.61 490.43,241.70 491.27,241.79 492.11,241.88 492.96,241.96 493.80,242.05 494.64,242.13 495.48,242.21 496.33,242.29 497.17,242.38 498.01,242.45 498.85,242.53 499.70,242.61 500.54,242.69 501.38,242.76 502.22,242.84 503.06,242.91 503.91,242.98 504.75,243.05 505.59,243.12 506.44,243.19 507.28,243.26 508.12,243.33 508.96,243.40 509.81,243.46 510.65,243.53 511.49,243.59 512.33,243.65 513.18,243.72 514.02,243.78 514.86,243.84 515.70,243.90 516.55,243.96 517.39,244.01 518.23,244.07 519.07,244.13 519.91,244.19 520.76,244.24 521.60,244.29 522.44,244.35 523.29,244.40 524.13,244.45 524.97,244.51 525.81,244.56 526.65,244.61 527.50,244.66 528.34,244.70 529.18,244.75 530.03,244.80 530.87,244.85 531.71,244.89 532.55,244.94 533.39,244.98 534.24,245.03 535.08,245.07 535.92,245.12 536.76,245.16 537.61,245.20 538.45,245.24" fill="none" stroke="#FF4D4D" stroke-width="1.1" stroke-linejoin="round" stroke-opacity="1"/>
</svg>
</body></html>
